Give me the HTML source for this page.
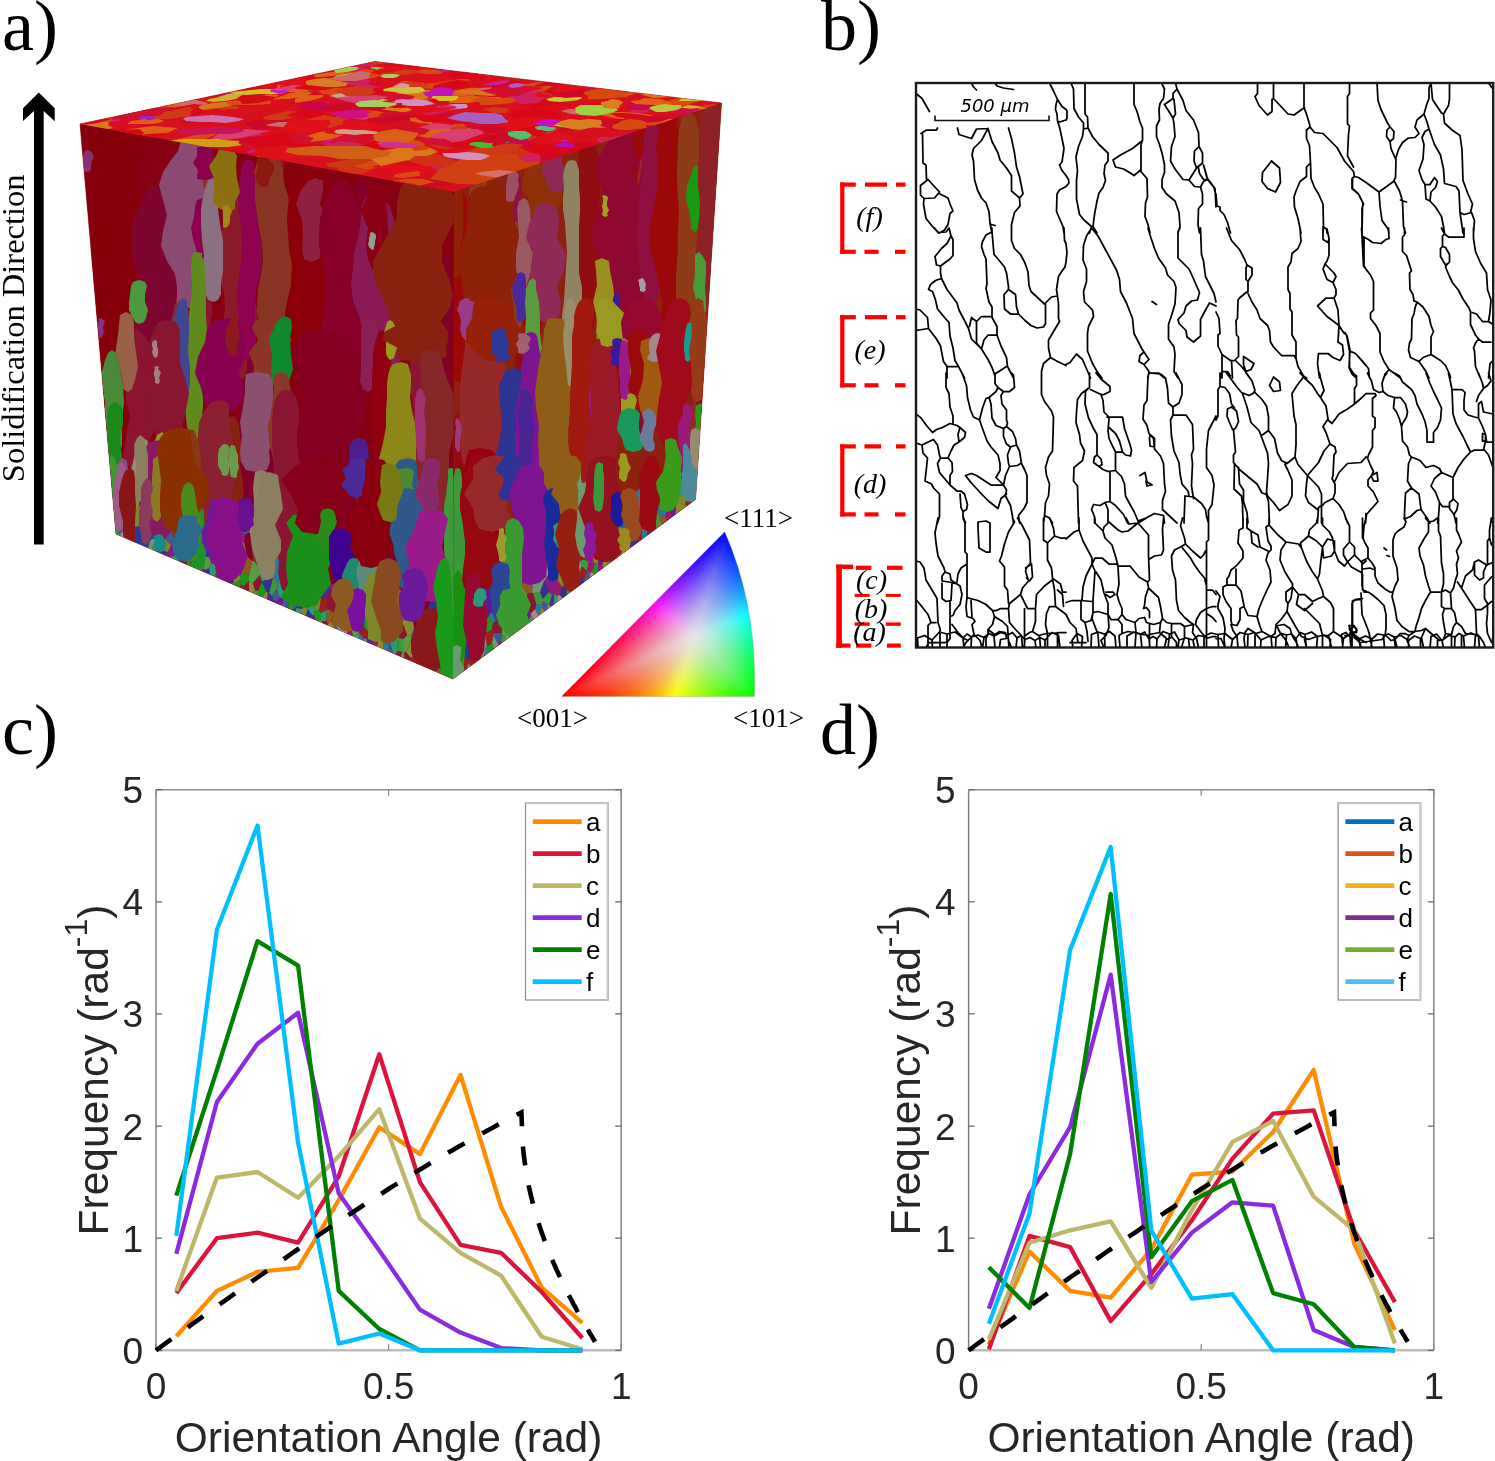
<!DOCTYPE html>
<html><head><meta charset="utf-8"><title>Figure</title><style>
html,body{margin:0;padding:0;background:#fff;}
svg{display:block;}
.pl{font-family:"Liberation Serif",serif;font-size:72px;fill:#000;}
.sd{font-family:"Liberation Serif",serif;font-size:32.5px;fill:#000;}
.ipf{font-family:"Liberation Serif",serif;font-size:27px;fill:#000;}
.bl{font-family:"Liberation Serif",serif;font-style:italic;font-size:28px;fill:#000;}
.sb{font-family:"DejaVu Sans",sans-serif;font-style:italic;font-size:18px;fill:#000;}
.tk{font-family:"Liberation Sans",Arial,sans-serif;font-size:37px;fill:#262626;}
.al{font-family:"Liberation Sans",Arial,sans-serif;font-size:42.5px;fill:#262626;}
.lg{font-family:"Liberation Sans",Arial,sans-serif;font-size:26px;fill:#000;}
</style></head>
<body><svg width="1495" height="1461" viewBox="0 0 1495 1461">
<rect width="1495" height="1461" fill="#fff"/>
<text x="2" y="50" class="pl">a)</text>
<text x="821" y="50" class="pl">b)</text>
<text x="2" y="754" class="pl">c)</text>
<text x="820" y="754" class="pl">d)</text>
<path d="M38.8,92.4 L54.7,108.3 L54.7,121.3 L43.7,111 L43.7,544.5 L34,544.5 L34,111 L23,121.1 L23,108.3 Z" fill="#000"/>
<text transform="translate(24,328.3) rotate(-90)" text-anchor="middle" class="sd">Solidification Direction</text>
<defs>
<clipPath id="cTop"><polygon points="80.0,124.0 375.0,61.5 721.5,103.0 454.0,192.0"/></clipPath>
<clipPath id="cLeft"><polygon points="80.0,124.0 454.0,192.0 453.0,679.0 116.0,534.0"/></clipPath>
<clipPath id="cRight"><polygon points="454.0,192.0 721.5,103.0 695.5,499.5 453.0,679.0"/></clipPath>
</defs>
<polygon points="80,124 375,61.5 721.5,103 695.5,499.5 453,679 116,534" fill="#8a1010" stroke="#8a1010" stroke-width="0.6"/>
<g clip-path="url(#cLeft)">
<path d="M80 124l374 68-1 487-337-145z" fill="#850010"/>
<path d="M201 359l-5 3-2 8 0 12 1 13-2 14 3 12 3 7 2 3 4-3 0-7 0-12 3-14-2-13-1-12-1-8z" fill="#850008"/>
<path d="M123 435l-5 4-1 9 0 15-1 17-1 17 2 14 3 10 4 3 4-3 0-10 2-14 3-17-3-17-3-15 0-9z" fill="#800028"/>
<path d="M447 252l-1 2-2 4-1 6-1 10-1 11 0 13 2 14-1 15-3 16-1 16 0 15 2 14 2 13 1 11 0 9 1 7 2 4 1 1 3-1 1-4 0-7 2-9-1-11 1-13-3-14 0-15 1-16 1-16 2-15 0-14-2-13 0-11-2-10 0-6-1-4z" fill="#800028"/>
<path d="M237 467l-4 1-1 3 0 6-1 8 0 10-2 12 1 13-1 14-2 16 0 15-1 16 0 16 0 15 1 15 0 13 1 12 0 9 1 8 1 6 3 4 3 1 3-1 2-4-1-6 0-8 0-9-1-12 0-13 1-15 3-15 1-16 0-16-1-15-1-16 0-14 1-13 0-12 0-10 1-8-2-6-2-3z" fill="#8b1530"/>
<path d="M112 218l-3 2-2 7 0 12-1 14 1 16 1 16-1 14 0 11 2 7 2 3 4-3 3-7 0-11 1-14-1-16 0-16 1-14-1-12-4-7z" fill="#8b0015"/>
<path d="M357 298l-4 2 1 7-1 11-3 14 0 16 1 17-3 16 2 14 3 11 1 7 2 2 4-2 2-7 0-11 0-14 1-16 2-17-2-16-1-14 2-11-2-7z" fill="#8b1530"/>
<path d="M147 213l-5 1-1 5-2 7 1 9-1 12-1 13 1 15-2 16-2 16 0 16-1 16 0 15 1 13 1 12 2 9 2 7 1 5 4 1 6-1 2-5 0-7 2-9 0-12 1-13 0-15 0-16 2-16 1-16 1-16-1-15 0-13-2-12-1-9-2-7-3-5z" fill="#8b1530"/>
<path d="M280 69l-3 1-2 6-1 9-3 12-1 14 1 15-1 16-3 15 2 14 3 12 1 9 3 5 3 2 5-2 2-5-1-9-1-12 1-14 4-15 0-16-2-15 0-14 1-12 0-9-3-6z" fill="#8b0015"/>
<path d="M432 317l-4 2 0 3-1 6 0 8-1 10-1 11 0 13 1 14-1 15 1 16 0 16 0 15 0 15 0 15 1 13 0 11 2 10-1 8 1 6 1 3 3 1 2-1 2-3 0-6 2-8 0-10 0-11 1-13 1-15-1-15 1-15-1-16-1-16 0-15-1-14 0-13 0-11-2-10 1-8-1-6-1-3z" fill="#800028"/>
<path d="M419 179l-6 3-2 9 0 14 1 16-1 16 3 14 2 9 5 3 8-3 3-9 1-14 1-16-3-16-1-14-4-9z" fill="#850008"/>
<path d="M278 110l-4 4-1 9-2 14-2 16 0 17 3 14 1 9 4 3 3-3 0-9 4-14 0-17-2-16 1-14-1-9z" fill="#8b1530"/>
<path d="M393 293l-3 2-2 4 0 7-3 9 0 12-1 13 1 15 1 15 0 16-1 15-3 15 1 13 0 12 2 9 2 7 2 5 3 1 2-1 2-5 1-7 0-9 1-12 0-13 1-15 1-15 1-16 1-15-1-15 0-13-3-12-1-9-1-7-1-4z" fill="#800028"/>
<path d="M116 79l-4 3-4 6-4 11 2 12-2 12 4 10 4 7 3 3 6-3 2-7-2-10 0-12 0-12-2-11 1-6z" fill="#850008"/>
<path d="M274 444l-4 2-1 4 0 7-2 9 0 12-1 13 2 15 1 16 0 16 0 17-2 16-1 15 0 13 0 12 2 9 1 7 1 4 5 2 3-2 3-4 1-7-1-9 0-12 1-13 1-15 2-16 3-17 1-16-2-16-1-15-3-13-2-12-2-9-1-7-1-4z" fill="#800028"/>
<path d="M359 321l-3 3-3 6-2 10 0 12 0 12 0 10 1 7 5 2 5-2 2-7-1-10 3-12 0-12-2-10-1-6z" fill="#850008"/>
<path d="M433 327l-4 4 0 9-3 13 0 16 2 16 0 13 4 9 3 3 4-3 0-9 0-13 2-16-4-16 3-13-3-9z" fill="#8a3424"/>
<path d="M394 486l-3 2-1 4-1 7 0 10 0 12 0 13-1 15 0 16 0 16 0 16 0 15 0 14 1 12 0 9 3 7 0 5 3 1 2-1 1-5 0-7 1-9-1-12-2-14 2-15 2-16 2-16 0-16-3-15-1-13 1-12-1-10-1-7-1-4z" fill="#800028"/>
<path d="M358 180l-5 1-4 5 0 8-2 10-1 12 0 15-2 15-1 16-2 16 0 16 1 14 2 12 2 11 2 7 2 5 5 2 4-2 3-5 1-7 2-11 1-12 2-14 1-16 0-16-1-16-1-15 1-15 0-12-1-10 0-8-3-5z" fill="#800028"/>
<path d="M229 499l-4 1-1 4 0 7-1 8-1 11 1 13 1 14-1 16-1 16-2 16 0 16 0 15 0 14 2 13 0 11 1 9 1 6 2 4 3 2 2-2 2-4 1-6 0-9 2-11 1-13 0-14 1-15 0-16 0-16 2-16 0-16 0-14-3-13-1-11-1-8-1-7-3-4z" fill="#800028"/>
<path d="M254 357l-6 1-2 3-3 6 0 9-3 10 0 12-1 13 0 15-1 15 0 16 1 16 2 15 2 15 0 13 1 12 2 11-1 8 2 6 0 4 5 1 4-1 2-4 2-6 2-8 3-11 2-12 1-13-1-15-2-15-2-16-1-16-1-15 2-15 0-13 0-12-1-10 0-9-2-6-2-3z" fill="#800028"/>
<path d="M416 397l-5 1-2 4-2 6-1 8 1 10-1 12-1 14 2 15-1 15 0 17-1 16 0 16-1 16-1 15-1 13 2 12 1 11 1 8 2 6 1 3 6 2 5-2 2-3 1-6 1-8 0-11 0-12 0-13 2-15-1-16 2-16 2-16 0-17 1-15 0-15-2-14-1-12-2-10-2-8-1-6-2-4z" fill="#800028"/>
<path d="M182 408l-1 1-2 4 0 6-1 8 1 11 0 12-1 14 0 15-1 16 1 16 0 16 1 16 1 15 0 14-1 12 1 11 1 8 0 6 1 4 2 1 2-1 0-4 0-6 2-8 0-11 1-12 0-14-1-15-1-16 1-16 0-16 0-16-2-15 0-14 1-12 0-11 0-8-2-6-1-4z" fill="#8b0015"/>
<path d="M329 447l-4 2-1 8-3 12 0 15 2 16 2 17-2 15 1 12 0 7 5 3 2-3 2-7 2-12 0-15-1-17-2-16 1-15-1-12 1-8z" fill="#850008"/>
<path d="M151 328l-5 2-1 3-1 7 0 8-1 11-4 12-4 14-2 15 2 16 5 17-1 16-1 16-1 15 3 14 3 13 4 10 0 9 0 6 2 4 4 1 4-1 3-4 1-6 2-9 1-10 1-13-1-14-1-15-1-16 0-16 1-17-2-16-1-15-1-14 2-12 0-11-1-8-1-7-2-3z" fill="#850008"/>
<path d="M352 63l-3 1 0 4-2 6 0 8 0 11 0 12-1 13 1 15-3 16 1 16-2 16 2 15 1 15 1 14 2 12 0 10 2 9-1 6 2 4 2 1 3-1 1-4 0-6 2-9-2-10 0-12 0-14-2-15 0-15 2-16 0-16 2-16-1-15 1-13-2-12-1-11-1-8 0-6-2-4z" fill="#850008"/>
<path d="M171 473l-7 2-3 8 2 10-4 13 2 13 4 11 0 7 7 2 6-2 2-7 3-11-4-13 3-13-1-10-4-8z" fill="#8a3424"/>
<path d="M252 278l-4 3-2 8-1 12 1 15 0 15-1 13 1 8 4 3 4-3 2-8 2-13 0-15-2-15 1-12-1-8z" fill="#850008"/>
<path d="M448 500l-4 1-1 4-2 6 1 9-2 10 0 13 0 13 1 15-2 16-1 16-1 16 0 16 2 15 0 14 0 12-1 11 1 8 2 7 2 3 3 2 4-2 1-3 2-7 0-8-1-11 0-12 2-14 2-15 1-16-1-16-1-16 0-16 0-15 1-13 1-13-1-10-1-9-2-6-1-4z" fill="#850008"/>
<path d="M357 437l-3 3 0 7 0 11-2 14 0 15-1 16 2 14 2 11 2 7 2 3 2-3 2-7 0-11 0-14 0-16 0-15 0-14-2-11-2-7z" fill="#8a2010"/>
<path d="M259 491l-3 3-1 8-3 14-2 16 2 17 1 16-1 13 2 9 4 3 2-3 2-9 1-13-1-16 1-17 2-16-1-14-3-8z" fill="#8a3424"/>
<path d="M85 493l-5 3-2 9-1 13-5 16 3 16 4 13 2 9 5 4 5-4 0-9 0-13 4-16 0-16-3-13-2-9z" fill="#850008"/>
<path d="M93 405l-4 1-1 5-1 7 1 9 1 12 1 13-3 15-1 16 3 15 1 16 0 15-2 13-1 12 1 9 1 7 2 5 3 1 2-1 1-5 1-7 2-9 2-12 2-13 0-15-2-16-1-15 3-16 0-15-2-13-3-12-1-9 0-7-3-5z" fill="#8b0015"/>
<path d="M135 109l-2 1-1 4-1 6 0 9-2 11 1 12-2 14 0 15 1 16-1 16 0 17 0 16 2 15 0 14 0 12 1 11 1 8 1 7 1 3 1 2 3-2 0-3 0-7 1-8-1-11 0-12 0-14 1-15 1-16 0-17-1-16-3-16 1-15 2-14 1-12 0-11-1-9-1-6 0-4z" fill="#850008"/>
<path d="M233 416l-6 2-2 7 2 11 0 13-3 16 2 17 3 15-1 14 0 11 3 7 4 2 4-2 2-7 0-11 2-14 0-15-3-17 2-16-2-13-1-11-3-7z" fill="#8a2010"/>
<path d="M110 381l-5 1-3 4 0 7-2 9-1 12 1 13 0 15 0 16-1 16 1 16 0 15 1 15-1 13 1 12 0 9 2 7 0 4 4 2 4-2 3-4 1-7 2-9 3-12 3-13 2-15 1-15-2-16-3-16-2-16-2-15 0-13 0-12 0-9-1-7-2-4z" fill="#800028"/>
<path d="M203 134l-3 2-1 7-3 10-3 14-3 15 0 16 5 16 2 13 1 11 2 6 4 3 5-3 2-6 2-11-2-13-3-16 0-16 3-15 1-14 0-10-3-7z" fill="#8a3424"/>
<path d="M421 324l-2 2-2 4-2 7-3 11-2 12-1 14 1 15 3 17-1 16-2 17 1 15 2 14 2 12 1 10 2 8-1 4 4 2 3-2 2-4 1-8 0-10 1-12 0-14 1-15 0-17-2-16-2-17 0-15 2-14 0-12-1-11-1-7-1-4z" fill="#8b1530"/>
<path d="M349 354l-3 1-2 4-4 7-1 8-2 11 0 13 0 14 3 15 1 15 1 16-3 16 1 15 0 14 1 13 2 10 1 9 2 6 0 4 3 2 4-2 1-4 1-6 0-9 0-10 1-13 3-14 0-15 0-16-2-16-1-15-3-15 0-14 1-13 0-11 0-8 0-7-2-4z" fill="#850008"/>
<path d="M393 451l-4 3-2 7-2 11-2 15 2 16-2 16 0 14 2 11 2 8 4 2 4-2 3-8 0-11-1-14 4-16-2-16-1-15 1-11-1-7z" fill="#850008"/>
<path d="M438 175l-5 3-5 8 1 13-2 14-1 15 3 12-1 8 6 3 5-3 6-8 0-12 2-15 1-14-4-13 0-8z" fill="#8b0015"/>
<path d="M288 168l-4 3-2 9-3 13 0 16 3 16 0 13 2 9 5 3 4-3-1-9 3-13 0-16-3-16 2-13-1-9z" fill="#850008"/>
<path d="M308 488l-5 3-2 6-1 11-1 13 0 16 1 16-1 15 1 14 1 10 3 7 4 2 6-2 2-7 2-10 3-14 0-15-2-16 0-16-1-13-3-11-3-6z" fill="#8a3424"/>
<path d="M202 198l-4 1-2 5 1 8-1 11 2 13 0 15-1 16-1 16 1 15 1 15 0 13 0 11 0 8 1 5 3 1 3-1 1-5 3-8 1-11 2-13 0-15-2-15 1-16 1-16 0-15-2-13-2-11-2-8-1-5z" fill="#8b1530"/>
<path d="M176 254l-4 2-1 7-3 10-1 13 2 16 1 15 0 16 0 13 1 10 2 7 4 2 4-2 1-7 1-10 0-13 0-16 0-15 0-16-1-13 0-10-1-7z" fill="#872838"/>
<path d="M112 119l-6 3-5 7-2 10 3 12-3 12 8 10 1 7 6 2 9-2 2-7-2-10 4-12-5-12-3-10 2-7z" fill="#8b0015"/>
<path d="M125 529l-1-3 3-9 5 2 2 8 0 2-6 5-1-1z" fill="#2a9a7a"/>
<path d="M372 636l0 6-4 3-2-7 2-6 2 0z" fill="#4a2a9a"/>
<path d="M423 645l3-8 0-7-12-2-3 8 1 3 1 3 8 5z" fill="#3a5a9a"/>
<path d="M117 523l7 3 3-9-3-8-5 3-2 10z" fill="#8a1a8a"/>
<path d="M314 603l3-8-2-10-7 4 1 13z" fill="#6a1a9a"/>
<path d="M351 627l-2-2-1 1-1 7 4 7 2-4z" fill="#9a1a6a"/>
<path d="M390 643l7 0 2-5-3-12-5 4-2 9 1 4z" fill="#2a9a7a"/>
<path d="M337 602l-7-13 0-4 13-5 4 8 0 1-7 13z" fill="#8a1a8a"/>
<path d="M249 575l0 6 4 2 7-8 0-7-6-7-2 0z" fill="#5a9a40"/>
<path d="M391 630l-8-10 0-2 8-10 7 12-2 6z" fill="#8a1a8a"/>
<path d="M209 568l-4 2-1 10 5 2 2-1z" fill="#2e3494"/>
<path d="M461 652l-8-8 1-16 5-6 14 13-10 16z" fill="#3a9a3a"/>
<path d="M406 652l6-13-1-3-4-1-4 4 0 13 1 1z" fill="#5a9a40"/>
<path d="M318 571l8 2 9-22-2-5-5-5-5-2-5 0-2 28z" fill="#6a9a70"/>
<path d="M411 636l3-8-2-18-5-1-6 10 6 16z" fill="#8a8a30"/>
<path d="M211 563l-2-6 1-8 5-4 5 11 0 1-5 8z" fill="#8a1a8a"/>
<path d="M430 658l4-6 0-3-8-12-3 8 3 10z" fill="#3a9a3a"/>
<path d="M350 611l7 0 1-1 0-21-3-3-8 2 0 1 3 21z" fill="#7a8a2a"/>
<path d="M426 630l-1-18 10-17 4 2 1 2 1 23-1 2z" fill="#2e3494"/>
<path d="M191 549l0-9 11-3 0 1-1 18-4 1z" fill="#8a1a8a"/>
<path d="M431 667l-1-2-5 3-1 5 3 4 4-1z" fill="#aa8888"/>
<path d="M210 498l4 5-5 20-5 6-13-15-1-4 5-18 6 0 5 2z" fill="#8a1a8a"/>
<path d="M438 666l4-6 0-6-7-6-1 1 0 3 3 13z" fill="#8a1a8a"/>
<path d="M132 519l7-14 0-4-6-5-8 5-1 8 3 8z" fill="#8a8a30"/>
<path d="M390 643l3 10 3 0 2-2-1-8z" fill="#2a9a7a"/>
<path d="M190 510l-4 2-6 15 3 12 7 0 1-25z" fill="#6a1a9a"/>
<path d="M174 556l-2-11 2-3 7 3 0 4-3 7-4 0z" fill="#2a7aa0"/>
<path d="M266 605l4 3 1 0 2-8-1-4-3-3-1 0z" fill="#4a2a9a"/>
<path d="M391 608l0-8 9-12 7 21-6 10-3 1z" fill="#8a5a20"/>
<path d="M288 592l2-16 8 0-3 16-6 2z" fill="#3a5a9a"/>
<path d="M314 615l2 8 5-4 0-6-2-3-4 0z" fill="#1a9a1a"/>
<path d="M174 556l-2-11-1 0-3 7 1 6z" fill="#8a1a8a"/>
<path d="M359 631l4-5 1-12-6-4-1 1-1 13z" fill="#3a9a3a"/>
<path d="M288 607l2-8 5 9-6 4z" fill="#1a9a1a"/>
<path d="M129 464l-4-8-5-6-5-2-5 1-2 1-1 19 3 5 13-2z" fill="#9a1a6a"/>
<path d="M234 584l0 7 1 1 3 2 3-10-1-5z" fill="#1a9a1a"/>
<path d="M153 528l9-2 0-21-1-4-4 0-6 14 1 11z" fill="#2a9a7a"/>
<path d="M220 557l0-1 9-18 5 13 0 1-6 9-7-3z" fill="#8a1a8a"/>
<path d="M109 528l-4 1-2 7 4 4 1-1 2-10z" fill="#1a9a1a"/>
<path d="M273 577l5 6 2-1 6-13-1-12-1-1-12 4 1 16z" fill="#2a7aa0"/>
<path d="M249 532l5-20 3 0 5 2 5 5 3 5-4 15-8 4z" fill="#aa8888"/>
<path d="M461 674l-3-10-4 1-1 9 4 3z" fill="#5a9a40"/>
<path d="M109 528l1-9 7 3 0 1 0 9-2 2-5-5z" fill="#9a1a6a"/>
<path d="M169 558l-1-6-4-1-1 11 5 1z" fill="#4a2a9a"/>
<path d="M119 512l-5-6 1-12 6-1 4 8-1 8z" fill="#1a9a1a"/>
<path d="M249 597l0-16-5 5 1 11z" fill="#8a1530"/>
<path d="M315 585l3-14-2-4-13-4-3 11 5 13 3 2z" fill="#7a8a2a"/>
<path d="M241 562l6-6 5 5-3 14-7-2z" fill="#8a5a20"/>
<path d="M463 679l-1-4 6-7 10 4-11 11z" fill="#aa8888"/>
<path d="M236 506l1 0 0 19-8 12-3-4-5-30 5-1 5 1z" fill="#8a8a30"/>
<path d="M121 493l2-21-13 2 0 15 5 5z" fill="#9a1a6a"/>
<path d="M372 597l-3-8-11 0 0 21 6 4 5-4z" fill="#2a7aa0"/>
<path d="M463 679l-2 10 2 3 4 0 0-9z" fill="#7a8a2a"/>
<path d="M441 632l6 15 4 0 2-3 1-16-13-6-1 2z" fill="#6a1a9a"/>
<path d="M215 545l1-8-7-14-5 6-2 8 0 1 8 11z" fill="#2a7aa0"/>
<path d="M378 643l-2 6 0 2 1 2 5 2 1-3 0-9z" fill="#8a8a30"/>
<path d="M215 565l5-8 1 1 2 13-3 5-1 0-3-3z" fill="#9a2020"/>
<path d="M152 526l-1-11-9-4-1 17 2 3z" fill="#9a2020"/>
<path d="M161 551l3 0 1-12-1-3-6 8z" fill="#6a1a9a"/>
<path d="M174 556l-5 2-1 5 0 2 5 2 1-11z" fill="#2a9a7a"/>
<path d="M438 667l6 6 1 0 2-5 0-2-5-6-4 6z" fill="#8a1530"/>
<path d="M264 605l-1-9 3-5 2 2-2 12-1 1z" fill="#8a8a30"/>
<path d="M327 597l3-8 7 13-3 11-6-4z" fill="#8a1530"/>
<path d="M156 543l-3-10-5 10 1 3 3 2z" fill="#6a9a70"/>
<path d="M308 609l-4 12-2-1 0-11 2-4 3 1z" fill="#7a8a2a"/>
<path d="M423 662l-2 0-3-7 3-8 2-2 3 10z" fill="#8a1a8a"/>
<path d="M249 597l0-16 4 2 2 7-5 8z" fill="#8a8a30"/>
<path d="M227 578l-5 4-2-6 3-5 4 3z" fill="#6a1a9a"/>
<path d="M283 599l-4-2-2-8 1-6 2-1 7 10z" fill="#2a9a7a"/>
<path d="M438 668l-5 10-2-2 0-9 6-2 1 1 0 1z" fill="#2e3494"/>
<path d="M181 545l2-6-3-12-7 0 1 15z" fill="#8a1530"/>
<path d="M211 563l-2-6-8-1 1 11 3 3 4-2z" fill="#5a9a40"/>
<path d="M377 598l6-7 8 9 0 8-8 10z" fill="#8a5a20"/>
<path d="M277 524l5 2 1 1 1 29-12 4-1-1-5-20 4-15 2-1z" fill="#8a5a20"/>
<path d="M202 567l-2 2-5-1-1-4 3-7 4-1z" fill="#6a1a9a"/>
<path d="M316 627l0-4 5-4 1 2 0 10-1 1-5-4z" fill="#5a9a40"/>
<path d="M178 556l2 8 7-5 0-1-6-9z" fill="#8a1530"/>
<path d="M134 529l0 10 2 2 6-4 1-2 0-4-2-3-7-1z" fill="#8a8a30"/>
<path d="M405 665l-3 2-3-4 3-11 1 0 1 1z" fill="#5a9a40"/>
<path d="M315 585l3-14 8 2 4 12 0 4-3 8-6 2-4-4z" fill="#4a2a9a"/>
<path d="M300 574l-2 2-8 0-4-7-1-12 15-5 3 11z" fill="#aa8888"/>
<path d="M130 464l5 0 5 1 5 3 3 3 0 14-9 16-6-5z" fill="#2e3494"/>
<path d="M368 645l-2-7-2 1-3 8 0 1 5 2 1 0z" fill="#6a9a70"/>
<path d="M421 662l-4 7-2-11 3-3z" fill="#8a1a8a"/>
<path d="M447 647l-5 7 0 6 5 6 4-4 0-15z" fill="#8a1a8a"/>
<path d="M409 666l3 5 5-1 0-1-2-11-2-2-2 2z" fill="#9a2020"/>
<path d="M288 607l1 5 0 4-4 1-1-3 0-7z" fill="#6a1a9a"/>
<path d="M341 620l2 5-2 12-3-1-1-9 3-7z" fill="#6a9a70"/>
<path d="M157 544l-1 13-2 0-2-9 4-5z" fill="#3a9a3a"/>
<path d="M148 543l5-10 0-5-1-2-9 5 0 4z" fill="#8a8a30"/>
<path d="M192 565l-5-7 0 1-1 12 3 3z" fill="#1a9a1a"/>
<path d="M273 577l5 6-1 6-5 7-3-3z" fill="#3a9a3a"/>
<path d="M384 640l5-1 1 4-2 6-5 3 0-9z" fill="#2a7aa0"/>
<path d="M307 606l-3-1-3-9 4-9 3 2 1 13z" fill="#3a5a9a"/>
<path d="M214 503l-5 20 7 14 10-4-5-30-6-1z" fill="#5a9a40"/>
<path d="M211 563l4 2 1 8-5 8-2-13z" fill="#2a9a7a"/>
<path d="M438 668l1 12-2 2-4-4z" fill="#2a9a7a"/>
<path d="M234 570l2-12 5 4 1 11-2 3z" fill="#8a1a8a"/>
<path d="M288 607l2-8-1-5-1-2-1 0-4 7 0 5 1 3z" fill="#3a5a9a"/>
<path d="M164 530l-2-4 0-21 10 3 0 18z" fill="#8a8a30"/>
<path d="M319 610l2-11 6-2 1 12-1 1-6 3z" fill="#9a2020"/>
<path d="M110 517l0 2 7 3 2-10-5-6-4 5z" fill="#9a2020"/>
<path d="M358 635l0 10-2 2-5-4 0-1 0-2 2-4z" fill="#6a9a70"/>
<path d="M142 550l-4 1-2-2 0-8 6-4z" fill="#2a9a7a"/>
<path d="M398 651l4 1-3 11-2 1-1-1 0-10z" fill="#8a1530"/>
<path d="M234 583l-6 0-1-5 0-4 2-3 3 1z" fill="#2e3494"/>
<path d="M426 637l8 12 1-1 6-16-1-8-14 6z" fill="#1a9a1a"/>
<path d="M245 597l-1-11-3-2-3 10 1 2 6 1z" fill="#9a2020"/>
<path d="M454 665l-3-3 0-15 2-3 8 8-3 12z" fill="#4a2a9a"/>
<path d="M328 624l-2-3 1-11 1-1 6 4 0 1-3 8z" fill="#8a5a20"/>
<path d="M421 647l-8-5 0 14 2 2 3-3z" fill="#2a7aa0"/>
<path d="M447 668l0-2 4-4 3 3-1 9-1 2-1 0z" fill="#6a1a9a"/>
<path d="M123 544l4-11-2-4-5 5 2 9 1 1z" fill="#aa8888"/>
<path d="M359 632l5 7-3 8-3-2 0-10z" fill="#2a7aa0"/>
<path d="M157 544l1 0 6-8 0-6-2-4-9 2 0 5 3 10z" fill="#7a8a2a"/>
<path d="M373 621l-4-11-5 4-1 12 5 6 2 0z" fill="#1a9a1a"/>
<path d="M139 505l0-4 9-16 9 16-6 14-9-4z" fill="#4a2a9a"/>
<path d="M315 610l4 0 2-11-4-4-3 8z" fill="#7a8a2a"/>
<path d="M304 605l-3-9-3 1-2 11 6 1z" fill="#4a2a9a"/>
<path d="M380 628l0-4 3-4 8 10-2 9-5 1z" fill="#8a1a8a"/>
<path d="M134 529l0 10-4 3-2-8z" fill="#3a5a9a"/>
<path d="M347 633l1-7-5-1-2 12 0 1 3 1z" fill="#aa8888"/>
<path d="M205 570l-1 10-5-1 0-1 1-9 2-2z" fill="#6a1a9a"/>
<path d="M351 627l-2-2 1-14 7 0-1 13z" fill="#2a7aa0"/>
<path d="M322 631l4 2 1-1 1-8-2-3-4 0z" fill="#8a1530"/>
<path d="M232 572l-3-1-1-10 6-9 2 6-2 12z" fill="#aa8888"/>
<path d="M409 666l2-8-5-6-2 1 1 12 2 2z" fill="#8a1530"/>
<path d="M174 556l4 0 2 8-1 3 0 1-6-1z" fill="#2a9a7a"/>
<path d="M157 558l1 2 5 2 1-11-3 0z" fill="#2e3494"/>
<path d="M312 615l-4 9-2-1-2-2 4-12z" fill="#2e3494"/>
<path d="M194 564l3-7-6-8-4 9 5 7z" fill="#8a1530"/>
<path d="M154 557l-1 1-5-1-2-5 3-6 3 2z" fill="#aa8888"/>
<path d="M380 628l0-4-7-3-3 11 2 4 5 0z" fill="#6a1a9a"/>
<path d="M463 679l-1-4-1-1-4 3-2 10 3 2 3 0z" fill="#9a1a6a"/>
<path d="M258 591l-3-1-2-7 7-8 2 7z" fill="#8a1530"/>
<path d="M350 610l-3-21-7 13 3 11z" fill="#2e3494"/>
<path d="M258 543l8-4 5 20-11 9-6-7z" fill="#9a2020"/>
<path d="M229 538l0-1 8-12 8 10-1 7-10 9z" fill="#8a1a8a"/>
<path d="M103 520l7-3 0-6-5-6-7 6z" fill="#7a8a2a"/>
<path d="M234 583l-6 0-1 6 2 4 5-2 0-7z" fill="#2a7aa0"/>
<path d="M234 583l-2-11 2-2 6 6 0 3-6 5z" fill="#8a8a30"/>
<path d="M181 545l2-6 7 0 1 1 0 9-4 9-6-9z" fill="#2a7aa0"/>
<path d="M423 662l-2 0-4 7 0 1 0 1 5 3 2-1 1-5z" fill="#2a9a7a"/>
<path d="M447 668l4 8-4 5-2-8z" fill="#8a5a20"/>
<path d="M130 542l-1 5 4 4 3-2 0-8-2-2z" fill="#6a1a9a"/>
<path d="M341 620l2-7-3-11-3 0-3 11 0 1 6 6z" fill="#8a1a8a"/>
<path d="M423 662l3-7 4 3 0 7-5 3z" fill="#6a9a70"/>
<path d="M283 604l-5 5-1-7 2-5 4 2z" fill="#6a1a9a"/>
<path d="M279 597l-2-8-5 7 1 4 4 2z" fill="#3a5a9a"/>
<path d="M142 550l0-13 1-2 5 8 1 3-3 6-3 0z" fill="#1a9a1a"/>
<path d="M273 576l-1-16-1-1-11 9 0 7 2 7z" fill="#2a9a7a"/>
<path d="M103 520l0 4 2 5 4-1 1-9 0-2z" fill="#9a1a6a"/>
<path d="M349 625l1-14 0-1-7 3-2 7 2 5 5 1z" fill="#9a1a6a"/>
<path d="M259 596l-1-5-3-1-5 8 5 5 2-1z" fill="#3a9a3a"/>
<path d="M461 674l1 1 6-7-5-17-2 1-3 12z" fill="#3a5a9a"/>
<path d="M298 597l-3-5-6 2 1 5 5 9 1 0z" fill="#3a5a9a"/>
<path d="M302 609l-6-1 0 10 4 3 2-1z" fill="#2a9a7a"/>
<path d="M377 636l-5 0 0 6 4 7 2-6z" fill="#9a1a6a"/>
<path d="M359 632l-1 3-5 1-2-9 5-3 3 7z" fill="#5a9a40"/>
<path d="M200 569l-1 9-5-2 1-8z" fill="#6a1a9a"/>
<path d="M334 627l3 0 3-7-6-6-3 8z" fill="#8a5a20"/>
<path d="M390 643l3 10-2 7-2-1-1-10 2-6z" fill="#3a5a9a"/>
<path d="M312 615l-4-6-1-3 2-4 5 1 1 7-1 5z" fill="#2a9a7a"/>
<path d="M217 585l2 3 3-1 0-5-2-6-1 0z" fill="#2a7aa0"/>
<path d="M227 574l2-3-1-10-7-3 2 13z" fill="#8a1a8a"/>
<path d="M266 591l-4-9 11-6 0 1-4 16-1 0z" fill="#2e3494"/>
<path d="M164 536l0-6 8-4 1 1 1 15-2 3-1 0-6-6z" fill="#3a5a9a"/>
<path d="M263 596l-4 0-1-5 4-9 4 9z" fill="#1a9a1a"/>
<path d="M195 568l-1-4-2 1-3 9 5 3 0-1z" fill="#4a2a9a"/>
<path d="M359 632l5 7 2-1 2-6-5-6-4 5z" fill="#9a2020"/>
<path d="M103 524l-7 8 6 4 1 0 2-7z" fill="#9a1a6a"/>
<path d="M380 624l-7-3-4-11 3-13 5 1 6 20 0 2z" fill="#5a9a40"/>
<path d="M120 534l-3-2 0-9 7 3 1 3z" fill="#3a5a9a"/>
<path d="M134 527l7 1 1-17-3-6-7 14z" fill="#7a8a2a"/>
<path d="M457 677l-2 10-2 0-1-11 1-2z" fill="#aa8888"/>
<path d="M312 615l-4 9 2 3 6 0 0-4-2-8z" fill="#6a1a9a"/>
<path d="M186 571l1-12-7 5-1 3 5 5z" fill="#8a1530"/>
<path d="M438 668l1 12 2 1 3-8-6-6z" fill="#8a5a20"/>
<path d="M240 579l1 5 3 2 5-5 0-6-7-2-2 3z" fill="#1a9a1a"/>
<path d="M380 628l4 12-1 3-5 0-1-7z" fill="#8a8a30"/>
<path d="M216 573l3 3-2 9-3 1-3-5z" fill="#1a9a1a"/>
<path d="M437 665l-3-13-4 6 0 7 1 2z" fill="#5a9a40"/>
<path d="M332 635l2-8-3-5-3 2-1 8 4 3z" fill="#8a8a30"/>
<path d="M288 592l2-16-4-7-6 13 7 10z" fill="#9a1a6a"/>
<path d="M396 626l2-6 3-1 6 16-4 4-4-1z" fill="#8a1530"/>
<path d="M376 651l-5 2-4-3 1-5 4-3 4 7z" fill="#6a1a9a"/>
<path d="M191 514l13 15-2 8-11 3-1-1z" fill="#aa8888"/>
<path d="M289 612l6-4 1 0 0 10-1 1-5 0-1-3z" fill="#2e3494"/>
<path d="M228 583l-1-5-5 4 0 5 2 3 3-1z" fill="#9a1a6a"/>
<path d="M264 605l-4 1-3-4 2-6 4 0z" fill="#2a9a7a"/>
<path d="M278 610l0-1-1-7-4-2-2 8 4 4z" fill="#6a1a9a"/>
<path d="M451 676l1 0 1 11-5-1-1-2 0-3z" fill="#6a9a70"/>
<path d="M209 557l1-8-8-11-1 18z" fill="#2e3494"/>
<path d="M105 505l1-11 4-5 5 5-1 12-4 5z" fill="#3a9a3a"/>
<path d="M397 643l1 8 4 1 1 0 0-13-4-1z" fill="#3a9a3a"/>
<path d="M220 556l9-18 0-1-3-4-10 4-1 8z" fill="#3a5a9a"/>
<path d="M122 543l-5 2-3-5 1-6 2-2 3 2z" fill="#3a9a3a"/>
<path d="M351 640l-4-7-3 6 2 4 5-1z" fill="#2e3494"/>
<path d="M284 607l-1-3-5 5 0 1 2 4 4 0z" fill="#8a8a30"/>
<path d="M393 653l3 0 0 10-4-1-1-2z" fill="#2a9a7a"/>
<path d="M123 544l5 3 1 0 1-5-2-8-1-1z" fill="#8a8a30"/>
<path d="M110 529l-2 10 4 3 2-2 1-6z" fill="#1a9a1a"/>
<path d="M298 597l-3-5 3-16 2-2 5 13-4 9z" fill="#8a1530"/>
<path d="M157 544l1 0 3 7-4 7-1-1z" fill="#3a5a9a"/>
<path d="M388 649l-5 3-1 3 5 5 2-1z" fill="#7a8a2a"/>
<path d="M322 621l4 0 1-11-6 3 0 6z" fill="#2a9a7a"/>
<path d="M411 658l2-2 0-14-1-3-6 13z" fill="#8a8a30"/>
<path d="M125 501l8-5-3-32-1 0-6 8-2 21z" fill="#9a1a6a"/>
<path d="M165 539l6 6-3 7-4-1z" fill="#7a8a2a"/>
<path d="M441 632l6 15-5 7-7-6z" fill="#8a1530"/>
<path d="M186 512l-10-8-4 4 0 18 1 1 7 0z" fill="#6a9a70"/>
<path d="M332 635l4 3 2-2-1-9-3 0z" fill="#3a5a9a"/>
<path d="M234 552l0-1 10-9 3 14-6 6-5-4z" fill="#7a8a2a"/>
<path d="M245 535l-8-10 0-19 5-1 5 0 5 4 2 3-5 20z" fill="#3a5a9a"/>
<path d="M441 681l1 3 5 0 0-3-2-8-1 0z" fill="#8a5a20"/>
<path d="M112 126l-11 1-4 5-4 7-3 10-1 13-1 14 1 17 0 19 2 20 0 21-2 23-4 22-3 22 0 23 3 21 4 20 6 19 5 17 3 14 3 13 2 10 2 7 3 5 7 1 10-1 6-5 2-7 2-10 0-13-1-14-1-17-2-19-2-20 0-21 2-23 3-22 2-22 0-23-1-21-4-20-5-19-3-17-2-14-1-13-2-10-1-7-3-5z" fill="#850008"/>
<path d="M161 185l-9 2-5 5-4 8-6 11-5 13 0 15 0 15 4 17 1 15 0 15-1 13 0 11 3 8 4 5 11 2 8-2 3-5 4-8 4-11 3-13 3-15-1-15-2-17-2-15-1-15 0-13 1-11-1-8-2-5z" fill="#7e0530"/>
<path d="M233 190l-6 1-4 4-1 6 0 9 1 11-1 12-4 14-2 15 3 15 5 16 1 15-2 15-1 14 1 12 2 11 3 9 2 6 2 4 5 1 6-1 3-4 1-6 0-9 2-11 4-12 4-14 0-15-4-15-5-16 0-15 3-15 0-14-3-12-2-11-4-9-2-6-2-4z" fill="#8c1b2a"/>
<path d="M271 150l-7 1-4 5-3 6-3 10-1 11 1 13 2 15 2 15 4 16 1 17-2 15-3 15-1 13 0 11 2 10 2 6 3 5 9 1 7-1 3-5 1-6 1-10 2-11 3-13 4-15 3-15 2-17-1-16-6-15-4-15-4-13-1-11-2-10-2-6-2-5z" fill="#8a3424"/>
<path d="M248 160l-4 1-2 4-1 6-1 8-3 10 1 12 1 14 2 14 1 15-1 16-2 16-2 15 0 14 2 14 1 12 1 10 2 8 0 6 1 4 3 1 4-1 2-4 1-6 2-8 0-10-1-12 0-14 1-14 4-15 2-16 0-16-3-15-2-14-2-14 0-12 0-10-1-8 0-6-1-4z" fill="#8e0350"/>
<path d="M262 155l-4 1-1 4 1 5-1 6-2 6 2 5 3 4 3 1 5-1 1-4 1-5 4-6 0-6-5-5-3-4z" fill="#8a1a10"/>
<path d="M307 170l-7 1-3 3-3 6-2 7-3 9-1 11-1 13 1 14 1 15 3 16-1 16 0 17-2 16-1 16 1 16 2 15 3 14 3 13 2 11 2 9 0 7 2 6 3 3 6 1 7-1 3-3 2-6 1-7 0-9-1-11-1-13 0-14 1-15 0-16 4-16 1-16-1-17-2-16-3-16-3-15-2-14-2-13 2-11 0-9-1-7-1-6-3-3z" fill="#8b0008"/>
<path d="M315 178l-7 3-7 9-5 14 6 16 1 16-1 14 2 9 7 3 8-3 3-9 7-14-2-16-7-16 3-14 0-9z" fill="#8e2040"/>
<path d="M341 180l-6 1-3 4-2 5-2 8-5 9-3 12-1 13 0 14 3 16 3 16 0 17-2 17-1 18 0 17 5 16 3 16 1 14-2 13-1 12 0 9 1 8 2 5 3 4 7 1 9-1 3-4 3-5 3-8 4-9 0-12 0-13 0-14 1-16 4-16 1-17-1-18-4-17-4-17-1-16 0-16 0-14 1-13-3-12-3-9-1-8-3-5-3-4z" fill="#880028"/>
<path d="M373 195l-7 1-2 4-2 7-1 9-1 10-2 13-4 14-1 16-2 15 2 17 6 15 4 16 2 14 0 13 0 10 0 9 2 7 1 4 8 1 9-1 4-4 4-7 4-9 3-10 1-13-1-14-3-16-3-15-1-17 0-15 0-16 2-14 0-13-2-10-3-9-5-7-4-4z" fill="#8a1a55"/>
<path d="M380 185l-8 3-6 10-5 14 7 16-2 17 2 14 4 10 7 3 7-3 4-10 1-14-3-17-1-16-1-14-2-10z" fill="#8b0015"/>
<path d="M422 180l-16 2-5 4-2 8-2 10 0 13-7 14-9 15-8 16 1 17 7 15 6 14 3 13 0 10 2 8 5 4 14 2 12-2 6-4 5-8 7-10 9-13 3-14-4-15-7-17 0-16 7-15 7-14 2-13-5-10-7-8-9-4z" fill="#8a2010"/>
<path d="M191 138l-8 1-3 5-2 7-7 9-8 12-4 13 4 15 4 15-4 16-2 15 6 15 8 13 2 12 0 9 0 7 3 5 9 1 9-1 5-5 5-7 6-9 0-12-3-13-5-15 4-15 2-16-3-15-6-15 0-13 5-12 1-9-3-7-4-5z" fill="#8a4a72"/>
<path d="M204 146l-7 1 0 4 0 5-4 7 5 7-1 5 0 4 8 1 7-1 2-4 0-5 1-7-1-7-2-5-1-4z" fill="#8c0050"/>
<path d="M203 198l-6 2-2 7-1 10-3 11 2 11 3 10 1 7 5 2 4-2 2-7 1-10-2-11 1-11 0-10-1-7z" fill="#8c0050"/>
<path d="M213 178l-5 2-2 6-3 10-2 13 0 15 1 16 2 16 0 15 1 13 1 10 2 6 6 2 4-2 3-6 0-10 2-13 0-15 0-16-3-16-2-15 1-13-1-10 0-6z" fill="#8a7080"/>
<path d="M225 146l-6 3-3 7-7 10 5 13 0 13-1 10 7 7 9 3 6-3 0-7 5-10-3-13-1-13 1-10-4-7z" fill="#8a7010"/>
<path d="M227 205l-4 1 0 2 0 4 0 4 0 5 0 4 0 2 2 1 2-1 2-2 1-4 0-5 2-4-2-4-2-2z" fill="#a08818"/>
<path d="M197 252l-4 1-1 5-1 7 0 9 1 12-1 13-2 15-3 16 1 16 1 16 0 16-2 15-1 13 1 12 1 9 3 7 2 5 3 1 3-1 2-5 2-7 0-9 1-12 0-13 2-15 1-16 2-16-1-16-1-16 0-15 0-13-1-12 0-9-3-7 0-5z" fill="#5e8a1e"/>
<path d="M139 280l-6 2-2 4-1 8-1 8 0 8 4 8 2 4 4 2 5-2 2-4 2-8-3-8 0-8 2-8-2-4z" fill="#4b9a40"/>
<path d="M183 298l-4 3-2 7-4 12 0 15 1 17-3 16 5 15 1 12 1 7 4 3 4-3 2-7 2-12 0-15-2-16 1-17 0-15-1-12-1-7z" fill="#41478f"/>
<path d="M372 232l-2 1 0 2-1 3 0 3-1 3 1 3 2 2 1 1 2-1 0-2 1-3 0-3 1-3 0-3-2-2z" fill="#90a090"/>
<path d="M87 150l-2 1-1 2-1 4-1 4-1 4 1 4 1 2 4 1 3-1 1-2 0-4 1-4 2-4-2-4-2-2z" fill="#8a3070"/>
<path d="M101 318l-3 1 1 2-3 3-1 4 1 4 1 3 0 2 3 1 2-1 1-2 1-3-1-4 1-4 1-3-3-2z" fill="#8a3080"/>
<path d="M126 318l-5 3-2 8-2 12-2 14 4 14 3 12 1 8 4 3 6-3 4-8-1-12 1-14-1-14-2-12-3-8z" fill="#8a5a48"/>
<path d="M136 330l-6 2-1 5 1 8 0 11-2 14-3 14 1 16 4 16-3 14-2 14-2 11 3 8 4 5 7 2 5-2 2-5 0-8 5-11 5-14 0-14-2-16 0-16 2-14-1-14-3-11-5-8-4-5z" fill="#8b1530"/>
<path d="M166 320l-8 2-3 6-4 9-4 12 1 14 2 15 0 16 1 15 1 14 4 12 4 9 3 6 7 2 9-2 2-6 1-9 1-12 3-14 3-15-4-16-5-15 0-14 0-12-1-9-3-6z" fill="#8a1530"/>
<path d="M229 318l-15 3-7 8-2 13-7 15-3 16 6 15 3 13 6 8 14 3 12-3 5-8 3-13-5-15 6-16 2-15-5-13-2-8z" fill="#880050"/>
<path d="M234 318l-3 1-2 5-3 6-1 7 1 7 2 6 1 5 5 1 3-1 0-5 1-6 2-7-1-7-1-6-1-5z" fill="#8a1a20"/>
<path d="M267 318l-12 3-3 7 6 12-9 13 5 13-1 12 0 7 12 3 8-3 9-7 6-12-3-13 7-13-10-12-6-7z" fill="#8b3525"/>
<path d="M285 316l-6 3-5 8-5 12 3 15-1 15 1 12 5 8 7 3 5-3 0-8 4-12-2-15-1-15 2-12-1-8z" fill="#108830"/>
<path d="M256 372l-10 2-1 8 0 11-2 14-3 15 2 15-2 14 1 11 5 8 12 2 9-2 3-8-1-11 4-14 9-15-5-15-4-14 0-11-4-8z" fill="#8b5070"/>
<path d="M281 372l-5 2-3 5 1 8-1 11-2 14-3 14 1 16 4 16 3 14-2 14-1 11 0 8 1 5 7 2 6-2 4-5 2-8 1-11 2-14 2-14 0-16 0-16-3-14-2-14-3-11-1-8-3-5z" fill="#8a3828"/>
<path d="M317 330l-11 1-6 4-3 5-3 8-1 10 2 12 3 12 4 15 0 15-5 15-8 16-6 15-2 15 4 15 6 12 5 12 5 10 4 8 5 5 4 4 10 1 10-1 5-4 4-5 4-8 3-10 5-12 3-12 1-15-2-15-2-15 1-16 4-15 4-15 3-15-2-12-6-12-7-10-8-8-6-5-8-4z" fill="#850020"/>
<path d="M369 318l-6 3-2 8 0 12 0 14 0 14-1 12 3 8 5 3 5-3 5-8-1-12 6-14-5-14-1-12-2-8z" fill="#8a2055"/>
<path d="M384 330l-5 1-2 5-2 7-2 10 0 12-1 13 0 16 0 15 1 17 0 15 1 16 2 13 1 12 0 10 2 7 0 5 4 1 4-1 3-5 1-7 2-10 1-12-1-13 0-16-1-15 0-17 1-15-1-16-1-13-1-12 0-10-1-7-2-5z" fill="#900010"/>
<path d="M401 362l-8 2-3 4-2 7-1 10 0 12-1 14 0 16-3 16-4 16 0 16 4 16 4 14 4 12 2 10 2 7 4 4 5 2 7-2 2-4 1-7-1-10 0-12-1-14 2-16 2-16 1-16-1-16-4-16-2-14 1-12 0-10-2-7-1-4z" fill="#8c8818"/>
<path d="M390 320l-3 2-1 4-2 6 2 8 0 8 0 6 2 4 2 2 4-2 1-4 2-6-2-8 0-8 0-6-2-4z" fill="#9a9a20"/>
<path d="M422 318l-15 2-8 4-15 8-1 8 15 8-2 8 4 4 21 2 19-2 7-4-1-8 2-8 0-8-5-8-5-4z" fill="#8a2010"/>
<path d="M431 350l-8 1-2 4-1 6 1 9 0 11-1 12-1 14-3 15 1 15-1 16 0 15-1 15-2 14 1 12 2 11 3 9 2 6 4 4 6 1 7-1 1-4 2-6 3-9 4-11 4-12-2-14-1-15 0-15 4-16 4-15 1-15-5-14-5-12-4-11-2-9-2-6-2-4z" fill="#872828"/>
<path d="M360 438l-7 2-4 7 0 11-1 12 0 12 5 11 3 7 5 2 6-2 3-7-2-11-1-12 2-12-1-11-3-7z" fill="#4a2090"/>
<path d="M408 458l-9 2-4 6-1 9 0 12-2 14-4 15 1 16 5 15 3 14-1 12 2 9 3 6 9 2 8-2 5-6 3-9 0-12-4-14 0-15 4-16-1-15-5-14-3-12 0-9-2-6z" fill="#2e5a8a"/>
<path d="M406 468l-7 1-2 4-2 5-1 7-1 7 2 5 3 4 6 1 5-1 2-4 4-5-3-7 1-7 1-5-2-4z" fill="#4a8a30"/>
<path d="M420 388l-3 3-2 8 0 12 0 14 1 14 1 12 1 8 4 3 3-3 0-8 1-12 0-14-2-14 2-12-3-8z" fill="#a03070"/>
<path d="M451 468l-3 1 0 3 0 6-1 8-1 9-2 11 0 13 0 14 0 15 1 15 0 16-1 16-2 15 1 15-2 14 1 13 1 11 1 9 1 8 1 6 1 3 2 1 3-1 0-3 0-6 1-8 0-9 0-11 0-13 2-14 1-15 1-15 1-16-1-16-2-15 0-15 1-14 0-13 1-11-1-9 0-8-1-6-1-3z" fill="#3e9a3a"/>
<path d="M181 428l-12 2-5 7-1 11 3 14-1 16-5 17 0 16 7 14 7 11 6 7 10 2 9-2 5-7 2-11 1-14-3-16-2-17-1-16 1-14-5-11-3-7z" fill="#8a3a10"/>
<path d="M162 432l-5 3-3 8 0 11-5 15 2 16 3 15 0 11 3 8 6 3 4-3 1-8 3-11-2-15-1-16 3-15-3-11-2-8z" fill="#9a8a30"/>
<path d="M142 438l-5 2-2 7-1 11-3 12 2 12 2 11 1 7 5 2 4-2 0-7 5-11-3-12 0-12 2-11-2-7z" fill="#9a8a70"/>
<path d="M161 440l-12 2-5 8-3 11-2 14 1 15 1 15 3 14 3 11 2 8 8 2 9-2 6-8 9-11 1-14-7-15-7-15 2-14 2-11-2-8z" fill="#8a1a60"/>
<path d="M220 400l-8 2-4 4-5 7-4 10-1 13 2 13 1 15-1 16-4 16 0 15 4 13 7 13 3 10 3 7 3 4 6 2 9-2 4-4 2-7 1-10-3-13-5-13 0-15 6-16 1-16-1-15-5-13-2-13 0-10 0-7-2-4z" fill="#8a2030"/>
<path d="M192 482l-6 3-1 7-2 10 1 13-1 13 0 10 1 7 6 3 6-3 1-7 4-10 1-13 0-13-2-10-3-7z" fill="#5a9a3a"/>
<path d="M200 508l-5 2-4 7-4 11 3 12 2 12-1 11 2 7 5 2 5-2 2-7 1-11 1-12-2-12-1-11 0-7z" fill="#20922a"/>
<path d="M262 470l-7 2-1 7-1 10 1 13-2 15-2 16 2 15 4 13 4 10 2 7 5 2 6-2 2-7 0-10-1-13 2-15 2-16-4-15-2-13-3-10-2-7z" fill="#8e8262"/>
<path d="M225 444l-3 1-3 4-1 5 0 6 0 6 3 5 1 4 3 1 3-1 1-4 1-5-2-6 1-6 1-5-2-4z" fill="#6a9a4a"/>
<path d="M246 498l-6 1-2 4 0 5 0 7-3 7 2 5 3 4 4 1 5-1 2-4 0-5 4-7-1-7-2-5-1-4z" fill="#60108a"/>
<path d="M285 390l-4 1-3 4-3 6-2 8-1 11 0 12 0 13 2 15-1 15 0 16-2 16 2 15 2 15 2 13 2 12-1 11 2 8 1 6 2 4 7 1 6-1 4-4 2-6 1-8 0-11-2-12-2-13 2-15 4-15 1-16-2-16-5-15-2-15 0-13 2-12 0-11-2-8-2-6-4-4z" fill="#8a1530"/>
<path d="M112 350l-4 3-3 7-3 12 0 14 3 16-1 17 0 14 2 12 3 7 5 3 6-3 2-7 0-12 0-14 2-17-1-16-3-14-2-12-2-7z" fill="#4a8a3a"/>
<path d="M115 402l-5 3-2 7-1 12-2 13-1 13 4 12 4 7 4 3 6-3 1-7-2-12-1-13 3-13 0-12-2-7z" fill="#1a8a1a"/>
<path d="M126 312l-6 3-1 9-1 13-2 15 4 15 3 13 1 9 4 3 4-3 3-9 3-13-2-15-2-15 0-13-2-9z" fill="#9a6048"/>
<path d="M123 458l-4 3-4 8-1 12 0 14-2 14 4 12-1 8 4 3 7-3 3-8-2-12 4-14-1-14-2-12-1-8z" fill="#8a4a7a"/>
<path d="M140 435l-3 3-3 7 1 11 1 12-1 13-2 11 3 7 3 3 4-3 3-7 2-11 0-13 0-12-2-11-2-7z" fill="#8a8060"/>
<path d="M158 456l-5 3 0 7-1 10 0 13-2 13 1 10 2 7 4 3 3-3 2-7 1-10 0-13 1-13-1-10 0-7z" fill="#8a7a20"/>
<path d="M180 428l-14 3-6 7-3 11 2 15 2 16-1 16 0 15 3 11 4 7 9 3 10-3 7-7 7-11 9-15-1-16-12-16-4-15-1-11 0-7z" fill="#8a3000"/>
<path d="M189 482l-5 3-3 9 0 13 3 15 1 15-2 13 1 9 6 3 5-3 2-9 3-13 2-15-5-15-2-13-2-9z" fill="#4a8a1a"/>
<path d="M232 445l-2 1 0 4-1 5-1 7 2 6 0 5 1 4 4 1 2-1 0-4 2-5-1-6 0-7-2-5-1-4z" fill="#6a9a4a"/>
<path d="M269 472l-8 3-4 8 1 11-3 15-4 16 5 15 1 11 4 8 7 3 8-3 5-8 0-11-6-15 8-16-2-15-2-11-1-8z" fill="#8a8060"/>
<path d="M155 340l-2 1-1 2 0 3 1 3-1 3 1 3 1 2 1 1 2-1 1-2 0-3 0-3-1-3 0-3 0-2z" fill="#a08080"/>
<path d="M157 366l-3 1 1 2-1 3 0 3 1 3 0 3 0 2 3 1 1-1 1-2-1-3 1-3 1-3-3-3 1-2z" fill="#a08080"/>
<path d="M189 515l-9 2-2 5-1 8-3 8 0 9 0 8 4 5 7 2 5-2 5-5 4-8-1-9 5-8-6-8 0-5z" fill="#2a6a8a"/>
<path d="M223 498l-11 2-3 7-1 11-6 12 0 12 5 11 5 7 11 2 7-2-1-7 4-11 3-12-3-12 3-11-2-7z" fill="#6a1a9a"/>
<path d="M140 526l-6 1 0 2 1 4-1 4 0 4 2 4 2 2 4 1 6-1 1-2 1-4 4-4-2-4-4-4-4-2z" fill="#2a3a9a"/>
<path d="M159 534l-3 1-3 2 2 3-1 3-1 3 1 3 4 2 3 1 3-1 1-2 1-3 0-3-1-3-2-3-1-2z" fill="#1a8a8a"/>
<path d="M112 455l-3 3-1 9 1 14-2 17 3 16-1 14 0 9 3 3 4-3 3-9 0-14 0-16 1-17-3-14-2-9z" fill="#3a9a30"/>
<path d="M121 462l-4 3 0 7-3 12-1 13 1 13 1 12 1 7 2 3 4-3 2-7 1-12 0-13 0-13 2-12-2-7z" fill="#9a5a8a"/>
<path d="M130 468l-5 3-3 8-3 13 0 14 4 15 0 13 2 8 5 3 5-3 0-8 0-13 1-15-1-14 0-13-1-8z" fill="#8a1515"/>
<path d="M147 478l-3 3-3 7 0 11-2 13 0 12 2 11 1 7 4 3 3-3 3-7-3-11 4-12-3-13 3-11-2-7z" fill="#8a3a5a"/>
<path d="M224 498l-9 3-1 9-4 14-4 16 8 16 3 14-1 9 10 3 10-3 7-9 5-14-7-16-1-16 2-14-6-9z" fill="#8a108a"/>
<path d="M246 503l-5 1-3 3 1 4-3 5 2 4 0 4 2 3 7 1 5-1 2-3-1-4 1-4 0-5 0-4-2-3z" fill="#6a1090"/>
<path d="M307 512l-14 3-7 8 7 13-6 16-1 16 2 16-7 13 11 8 15 3 10-3 4-8 10-13-3-16 10-16-6-16-7-13-3-8z" fill="#1a901a"/>
<path d="M326 455l-17 3-15 9-13 13 10 15 7 15-3 13 7 9 20 3 20-3 7-9-1-13-1-15-1-15-3-13-3-9z" fill="#850018"/>
<path d="M328 508l-6 2-2 4 1 8-2 8-2 8 5 8 2 4 5 2 4-2 3-4-2-8 0-8 3-8-2-8-2-4z" fill="#2a8a1a"/>
<path d="M339 528l-6 2-4 7 0 10 0 11 2 11 3 10 2 7 7 2 7-2 1-7 3-10 1-11-5-11 2-10-5-7z" fill="#400090"/>
<path d="M353 558l-3 1-3 4-2 5-3 7 1 7 4 5 3 4 4 1 4-1 2-4 0-5 2-7-1-7-2-5-1-4z" fill="#208a70"/>
<path d="M366 552l-5 2-1 5-3 8 0 10 2 10 1 8 0 5 6 2 5-2 2-5 2-8 2-10 1-10-4-8-3-5z" fill="#5a8a7a"/>
<path d="M376 572l-8 3-2 7-3 12-2 13 6 13 1 12 0 7 8 3 6-3 1-7 3-12 1-13-6-13 2-12 0-7z" fill="#7a8a2a"/>
<path d="M344 578l-6 2-5 6-2 9 5 10-3 10 3 9 6 6 6 2 5-2 3-6 1-9-2-10 0-10-2-9-4-6z" fill="#8a5a20"/>
<path d="M357 588l-4 2 1 4-2 8-5 8 2 8 2 8 1 4 5 2 5-2 2-4 1-8 0-8 1-8 0-8-3-4z" fill="#7a10a0"/>
<path d="M374 458l-10 2-1 7 0 10-1 13-7 15-4 16 5 15 3 13 0 10 2 7 10 2 8-2 3-7 2-10 5-13 2-15 1-16-1-15 1-13-3-10-5-7z" fill="#8a0010"/>
<path d="M357 458l-5 1-3 5-7 6 4 8-5 7 5 6 4 5 6 1 6-1 0-5 2-6 1-7 0-8 1-6-2-5z" fill="#4a2a9a"/>
<path d="M407 488l-10 2-4 8 0 11 2 14-2 15 1 15 5 14 1 11 2 8 7 2 10-2 3-8 4-11 3-14-1-15-5-15-3-14-1-11-3-8z" fill="#2e5a8a"/>
<path d="M431 508l-11 3-3 8-4 13-8 15 4 16-1 15 3 13 8 8 12 3 11-3-1-8-1-13 7-15-5-16 3-15 3-13-6-8z" fill="#9a1a8a"/>
<path d="M389 558l-9 3-4 10-2 14-3 16 5 16 5 14 0 10 6 3 8-3 8-10 0-14-7-16 4-16 1-14-5-10z" fill="#8a4a20"/>
<path d="M432 608l-10 2-4 7-3 11-4 12 0 12 5 11 3 7 9 2 10-2 1-7 5-11 1-12-4-12 5-11-4-7z" fill="#8a1818"/>
<path d="M415 568l-9 2-4 6 2 9-5 10 0 10 2 9 3 6 8 2 7-2 4-6 2-9 2-10 1-10-3-9-3-6z" fill="#6a1a9a"/>
<path d="M445 558l-4 2-3 6-2 9-3 12 3 14 2 16-3 16 2 16 3 14 1 12-1 9-1 6 5 2 5-2 2-6 3-9 0-12 1-14 0-16-1-16-2-16 0-14-1-12-2-9-1-6z" fill="#1a9a1a"/>
<path d="M388 463l-6 2-1 7-1 9 1 11-4 12 3 9 3 7 7 2 6-2 1-7 1-9 5-12-2-11-1-9-5-7z" fill="#7a7a15"/>
<path d="M431 458l-7 2-1 6-2 9-4 10-2 10 5 9 5 6 6 2 6-2 2-6 0-9-2-10 3-10 0-9-1-6z" fill="#8a2a6a"/>
</g>
<g clip-path="url(#cRight)">
<path d="M454 192l268-89-26 397-243 179z" fill="#8e2010"/>
<path d="M669 71l-3 2-1 5 0 7-2 11-3 12-3 15 0 15 3 16-2 17-1 15 2 15 2 12 3 10 1 8 2 5 4 1 4-1 1-5 0-8-1-10-1-12 3-15 1-15-3-17 0-16 1-15 2-15 0-12-2-11-2-7-1-5z" fill="#8e0830"/>
<path d="M661 467l-7 3-2 8-3 13 0 14-1 15 3 13 3 8 6 3 5-3 2-8 0-13 1-15 0-14 0-13-2-8z" fill="#8e2208"/>
<path d="M513 150l-3 2 0 6-2 10 0 12 1 15-1 16-1 16 0 15 1 13 0 9 3 7 3 2 2-2 1-7 0-9 4-13 0-15-2-16 2-16 0-15-3-12-1-10-1-6z" fill="#8e1040"/>
<path d="M463 271l-5 3-4 8-5 13 4 16-1 17 3 15 3 13 0 8 6 3 6-3 3-8 1-13 0-15-3-17 0-16-2-13-2-8z" fill="#9a0808"/>
<path d="M479 169l-3 3-4 8-3 12 0 16 0 16 1 15 1 13 1 8 6 3 4-3 2-8 1-13 1-15-4-16 3-16 1-12-1-8z" fill="#8e3c18"/>
<path d="M634 84l-4 2-2 7 1 10-2 14 0 15-2 17-1 15 1 14 3 10 2 7 2 2 2-2 2-7 1-10 3-14 0-15 1-17-2-15-1-14 1-10-1-7z" fill="#8e0830"/>
<path d="M460 191l-5 2-2 4 0 6-1 9 0 10-1 13 0 13 0 15-2 16 2 15 0 16 2 15 0 14-1 12 0 11 0 8 0 7 2 3 5 2 4-2 1-3 3-7 1-8 3-11 2-12 2-14-1-15 0-16-2-15 1-16 0-15-1-13 0-13-2-10-2-9-2-6-3-4z" fill="#9a0808"/>
<path d="M499 230l-4 2-2 5-1 9 1 11-1 14-1 15 1 16 2 16 0 16 0 14 0 11 1 9 1 5 5 2 3-2 1-5 1-9 1-11 2-14 3-16-1-16-4-16-1-15 1-14 0-11-1-9-2-5z" fill="#962828"/>
<path d="M716 289l-3 3-1 8-2 11 1 15 0 16 0 17 2 15 1 11 0 8 5 2 3-2 2-8 0-11 0-15 0-17-1-16-1-15 0-11-1-8z" fill="#8e2208"/>
<path d="M644 142l-2 1-2 4-1 7 1 9-2 11 1 13-2 14 0 16-1 16 0 16 1 16-1 16 0 14 1 13 0 11 1 9 1 7 1 4 3 1 3-1 0-4 1-7 0-9 1-11-1-13 1-14 1-16 1-16 1-16 1-16 0-16-1-14-2-13 0-11-1-9-1-7-1-4z" fill="#962828"/>
<path d="M519 430l-5 3-1 7 0 12 2 14-3 16 0 16 1 14 0 11 1 7 4 3 3-3 2-7 2-11 1-14-1-16 3-16-2-14-2-12-2-7z" fill="#900c10"/>
<path d="M638 498l-4 3-1 8-2 12-1 14 0 13 0 12 3 8 4 3 3-3 2-8 1-12 1-13 0-14-1-12 0-8z" fill="#8e0830"/>
<path d="M523 340l-3 3-3 8-2 13 1 15-3 15 4 12 1 9 3 3 4-3 2-9-1-12 3-15-2-15 1-13 0-8z" fill="#900c10"/>
<path d="M647 162l-4 2-2 5-1 9-2 12 0 14-1 16 2 16-1 15 1 14 1 12 2 9 1 6 4 2 3-2 1-6 2-9 1-12-1-14 1-15-3-16 0-16 1-14 1-12-1-9-2-5z" fill="#8e0830"/>
<path d="M668 459l-3 1-1 5-1 8 0 11-3 13-3 15 3 16 2 16 0 16-2 14 1 13 2 11 1 8 1 5 2 2 3-2 2-5 0-8 1-11-1-13 3-14 0-16-3-16-1-16 2-15 1-13-2-11 0-8-2-5z" fill="#8e0830"/>
<path d="M568 478l-3 1-1 4 0 7-1 8-1 11-1 12 0 14 1 15-1 16 0 17 0 16-2 16 0 15 0 14 1 13 2 10 0 9 3 6 0 4 2 1 4-1 0-4 0-6 1-9 0-10 1-13-1-14 0-15 0-16 2-16 0-17 2-16-1-15-1-14-2-12 0-11-1-8 0-7-1-4z" fill="#900c10"/>
<path d="M481 244l-5 1-2 5-3 8 0 10-1 12-3 14-3 16 0 16 2 16 2 15 0 14 1 13 1 10 3 7 3 5 5 2 4-2 2-5 0-7 0-10 1-13 2-14 0-15-2-16 0-16 1-16 2-14-1-12-1-10-2-8-1-5z" fill="#8e2208"/>
<path d="M623 409l-2 2 0 5-1 8 0 11-1 14 1 15 0 16-1 17-1 16 0 15 0 14 2 11 1 8 0 5 3 2 2-2 1-5 2-8 0-11-2-14 1-15 1-16 2-17-1-16 0-15-1-14-1-11-1-8-2-5z" fill="#8e2208"/>
<path d="M481 286l-6 3-3 10-4 13 2 16 1 17 2 13 2 9 7 4 6-4 2-9 2-13 1-17-3-16-2-13-1-10z" fill="#900c10"/>
<path d="M461 413l-6 3-2 6-2 11-1 13-3 15-2 16 5 15 4 13 1 10 1 7 4 2 8-2 3-7 3-10-2-13-2-15 0-16 2-15-1-13-3-11-2-6z" fill="#900c10"/>
<path d="M664 474l-3 1-2 3 0 6-1 8 0 10 0 12 0 13 1 14-1 15 0 16 0 16 0 16-1 15 1 14 0 13-1 12 1 10 0 8 2 6 0 3 3 2 3-2 1-3 1-6 1-8 2-10 1-12 0-13 0-14-1-15 2-16 2-16-1-16-1-15-2-14-2-13 0-12 1-10 0-8-2-6 0-3z" fill="#8e0830"/>
<path d="M494 507l-4 3-4 7 0 10 1 13-4 13 4 10 2 7 3 3 6-3 0-7 3-10 2-13 1-13-3-10-3-7z" fill="#8e3c18"/>
<path d="M700 396l-5 1-2 4-1 6-1 8-1 11 2 12 1 14-2 14-1 16-1 16 3 16 1 16 0 15-1 13-1 13 2 10 1 9 1 6 2 3 3 2 4-2 2-3 0-6 2-9 2-10 3-13 1-13-2-15-2-16 1-16 2-16 1-16-3-14-3-14-1-12-1-11 0-8 0-6-1-4z" fill="#962828"/>
<path d="M630 166l-5 2-3 6-3 10-2 12-2 15 3 16 4 17-2 17-2 14-1 13 3 9 3 6 6 2 6-2 4-6 2-9 1-13 0-14 2-17 2-17-3-16-5-15-1-12-2-10 0-6z" fill="#9a0808"/>
<path d="M641 339l-2 3-1 7-2 12-2 15 2 17 1 16 0 15 1 12 1 8 3 3 2-3 2-8 2-12 1-15-1-16-3-17 1-15-1-12 0-7z" fill="#8e0830"/>
<path d="M710 355l-8 3-3 8-2 13-3 15 4 14 3 13 2 8 9 3 6-3 1-8 2-13 1-14-4-15-1-13 1-8z" fill="#900c10"/>
<path d="M617 116l-4 2-1 5-2 9-2 11-1 14-2 16 2 16 0 17 2 15 1 14-2 12 1 8 0 6 6 2 6-2 2-6 1-8 3-12 1-14 3-15 1-17 0-16-3-16-2-14-2-11-2-9-2-5z" fill="#9a0808"/>
<path d="M501 308l-4 2-2 9-3 12 0 15 2 17-1 15-1 13 2 8 7 3 4-3 3-8 3-13 1-15-1-17 1-15 0-12-4-9z" fill="#8e2208"/>
<path d="M640 93l-6 2 0 7 1 11-1 13-2 13 3 11 1 7 4 3 3-3 2-7 3-11 1-13-1-13 0-11-3-7z" fill="#9a0808"/>
<path d="M516 221l-5 3-2 8 0 12-4 15-2 17 4 17-1 15 2 12 4 8 4 2 4-2 3-8 1-12-1-15 0-17 2-17-1-15-2-12 0-8z" fill="#8e3c18"/>
<path d="M492 122l-3 2-2 4-2 7-1 9-1 11 0 13 0 15 1 15-1 16 1 16 1 16 1 14 0 14 0 11-1 9 2 7 0 4 4 1 3-1 2-4 2-7 1-9 2-11 1-14 1-14-1-16 0-16-1-16 0-15-2-15-1-13 0-11-1-9 0-7-1-4z" fill="#8e3c18"/>
<path d="M498 199l-4 2-1 4-2 7-2 9-2 12-3 13 1 15 2 16 2 15 0 16 0 15-2 13 2 12 1 9 2 7 1 5 4 1 3-1 2-5 1-7 1-9 1-12 2-13 0-15-1-16-2-15 0-16-1-15 0-13 0-12 0-9-1-7 0-4z" fill="#9a0808"/>
<path d="M542 433l-2 1-1 5-1 8 1 10-1 13 0 15-2 16-1 16 0 17 1 15 0 15 2 13 0 10 1 8 0 5 2 1 3-1 1-5 0-8 0-10 2-13 0-15 0-15 0-17 0-16 1-16-1-15-1-13 0-10-1-8-1-5z" fill="#900c10"/>
<path d="M494 161l-3 2-1 5-2 8-2 12-1 13 1 15 0 15 0 16 0 15-1 13 0 12 1 8 2 5 5 2 2-2 1-5 1-8 0-12 2-13 2-15 1-16 2-15-2-15-1-13-1-12-2-8-1-5z" fill="#8e2208"/>
<path d="M679 318l-6 3-3 8-3 11-1 14-1 14 3 11 3 8 7 3 5-3 0-8 4-11-1-14 0-14 3-11-4-8z" fill="#962828"/>
<path d="M622 350l-6 3-4 8-3 13 2 15-1 15 4 13 3 9 5 3 7-3 3-9 2-13-4-15 1-15 0-13-3-8z" fill="#900c10"/>
<path d="M590 334l-5 1-1 4-1 6 0 9-1 10 0 12 0 14-1 15 0 16 1 16 2 16-1 15 1 15-1 14 1 12-1 10 2 9 1 6 2 4 3 1 3-1 1-4 2-6 2-9 3-10 2-12 1-14-2-15-2-15 1-16 3-16 0-16-2-15-4-14-2-12-2-10 1-9-1-6-1-4z" fill="#8e2208"/>
<path d="M578 318l-2 2-1 6-1 10 0 12-3 15 0 16 2 16 1 15 1 12 1 10 0 6 3 2 4-2 1-6 1-10 2-12 1-15-3-16-1-16-1-15 2-12-1-10-2-6z" fill="#8e2208"/>
<path d="M533 177l-3 2 0 5-1 8 0 11-2 13 0 15 0 16-1 16-1 16 0 15 2 13 0 11 1 8 3 5 2 1 4-1 1-5 0-8 0-11 0-13 0-15 1-16 1-16 2-16 0-15 0-13-2-11-2-8-3-5z" fill="#9a0808"/>
<path d="M540 460l-6 3-2 10 0 14-1 17 0 17 0 14 2 10 6 3 5-3 4-10 6-14 0-17-4-17-1-14-1-10z" fill="#8e2208"/>
<path d="M476 250l-7 3-3 7 1 12 3 14 2 16-4 17-3 14 2 12 2 7 7 3 5-3 2-7 3-12 5-14 3-17-3-16-5-14-2-12-3-7z" fill="#9a0808"/>
<path d="M630 185l-5 1-2 4 0 6-1 9 1 10 1 12 0 14 1 15-1 16-3 16-2 16-1 16 1 15 2 14 1 12 2 10 2 9 1 6 3 4 3 1 5-1 2-4 1-6 1-9-2-10 0-12 0-14 2-15 3-16 3-16 3-16 0-16-4-15-3-14-2-12-3-10-1-9-1-6-3-4z" fill="#8e0830"/>
<path d="M550 83l-4 3-2 8-2 12 1 15 3 16 0 17-2 15-1 12 2 8 4 3 5-3 1-8 0-12 2-15 3-17-2-16-4-15-1-12-1-8z" fill="#8e3c18"/>
<path d="M533 268l-6 3-2 10-3 14-3 16 5 17 1 14 0 9 7 3 6-3 1-9 3-14-1-17-3-16 3-14-2-10z" fill="#9a0808"/>
<path d="M456 157l-3 2-1 6 0 10-2 13 0 14-1 16 0 15 2 15 1 12-1 10 1 6 3 2 4-2 1-6 1-10 0-12 2-15 0-15 0-16-1-14-2-13 0-10-1-6z" fill="#8e2208"/>
<path d="M632 507l0-11 8-8 5 10-5 17-1 0z" fill="#2a7aa0"/>
<path d="M590 573l0 11-1 2-3 0-2-6 3-9z" fill="#3a5a9a"/>
<path d="M572 543l-8-25 3-4 4-4 5-2 1 0 7 18-3 11z" fill="#8a8a30"/>
<path d="M652 539l-2-9-1-1-2 3-1 11 5-2z" fill="#6a1a9a"/>
<path d="M549 565l7-18-4-16-2 0-5 2-4 3-3 4 3 16z" fill="#9a2020"/>
<path d="M632 507l7 8-4 13-5 0-1-17z" fill="#8a1530"/>
<path d="M556 578l0-2 6-8 5 4-2 14-3 1z" fill="#7a8a2a"/>
<path d="M543 599l0 2-1 4-6-1-3-11 7-1z" fill="#3a9a3a"/>
<path d="M562 568l5 4 4-2 2-12-2-11-11 5z" fill="#2e3494"/>
<path d="M485 654l-4 7-3-7 1-6 6 1z" fill="#5a9a40"/>
<path d="M605 539l-3-3 1-18 5-3 8 10-2 12z" fill="#3a5a9a"/>
<path d="M525 606l-9 0-1-5 4-19 8 12-1 12z" fill="#5a9a40"/>
<path d="M458 667l-3-12-1-1-5 10 0 4 7 1z" fill="#2e3494"/>
<path d="M522 619l3-13 1 0 5 7 0 2-3 7-4 1z" fill="#6a1a9a"/>
<path d="M686 469l8-2 2-6-1-12-8-3-5 9z" fill="#3a5a9a"/>
<path d="M683 478l4 9 8-4 0-1-1-15-8 2z" fill="#8a1a8a"/>
<path d="M602 565l3-8 2 3 1 10-2 2-1 0z" fill="#8a8a30"/>
<path d="M632 541l5-2 0-7-2-4-5 0-2 3 2 8z" fill="#3a5a9a"/>
<path d="M579 574l3-8-1-5-8-3-2 12 2 5z" fill="#6a9a70"/>
<path d="M680 479l-2 14-10-3 0-6 7-9z" fill="#3a9a3a"/>
<path d="M649 529l-2-9-4-1-1 11 5 2z" fill="#6a9a70"/>
<path d="M448 673l-4 2 0 10 3 4 2-1z" fill="#1a9a1a"/>
<path d="M519 581l8-13 7 5-2 20-5 1-8-12z" fill="#8a5a20"/>
<path d="M603 518l-5-6-11 14 9 17 6-7z" fill="#4a2a9a"/>
<path d="M461 667l3-11 5 4 0 3-3 7z" fill="#9a2020"/>
<path d="M691 499l-4-6-2 11 5 6 1 0 1-2z" fill="#9a2020"/>
<path d="M492 630l1-7-6-13-3 0-2 16 2 6 1 1z" fill="#1a9a1a"/>
<path d="M701 493l2 7 1 0 6-6-6-8z" fill="#8a1530"/>
<path d="M620 551l3 9-3 3-2 0-2-5 1-5z" fill="#8a5a20"/>
<path d="M638 542l4-3 0-8-5 1 0 7z" fill="#9a2020"/>
<path d="M676 508l6 8 1-1 0-9-5-5-2 5z" fill="#8a8a30"/>
<path d="M579 586l0 6 5-2 2-4-2-6-3-1z" fill="#2e3494"/>
<path d="M469 619l9-17 6 8-2 16-8 1z" fill="#8a1530"/>
<path d="M644 463l12 16-1 11-7 9-3-1-5-10 1-22 3-2z" fill="#9a2020"/>
<path d="M701 493l-4-2-2-8 0-1 8-3 1 7z" fill="#2a9a7a"/>
<path d="M616 525l-8-10 7-27 7 23-4 13z" fill="#3a5a9a"/>
<path d="M531 615l4 7 3-7-3-6-4 4z" fill="#aa8888"/>
<path d="M648 499l7-9 5 11-2 10-6 0z" fill="#2a9a7a"/>
<path d="M700 464l29-16-27-10-7 11 1 12z" fill="#8a1530"/>
<path d="M464 640l-11-4-1 9 2 9 1 1 8-3 1-11z" fill="#2e3494"/>
<path d="M618 563l-2 5-4 1-1-11 1 0 4 0z" fill="#6a1a9a"/>
<path d="M502 624l0 9-9 0-1-3 1-7 5-4z" fill="#8a1530"/>
<path d="M464 640l-11-4-2-10 4-20 0-1 13 14z" fill="#3a9a3a"/>
<path d="M670 511l3-6-5-13-4 8 3 11z" fill="#6a1a9a"/>
<path d="M667 511l-3-11-4 1-2 10 2 6 5-1z" fill="#2a7aa0"/>
<path d="M586 552l-5-15 3-11 3 0 9 17-7 11z" fill="#5a9a40"/>
<path d="M473 672l4-4-3-9-3-2-2 3 0 3 4 9z" fill="#9a2020"/>
<path d="M632 541l1 11 0 1-2 1-5-7 4-8z" fill="#4a2a9a"/>
<path d="M461 667l-3 0-2 2 0 7 3 6 1 0 1-2z" fill="#2a9a7a"/>
<path d="M581 561l-8-3-2-11 1-4 9-6 5 15z" fill="#4a2a9a"/>
<path d="M485 654l3 6 3-1 1-4-6-8-1 2z" fill="#2a7aa0"/>
<path d="M554 594l2-16 6 9-2 8-3 1z" fill="#9a1a6a"/>
<path d="M535 609l1-5 6 1 0 2-3 8-1 0z" fill="#2a7aa0"/>
<path d="M629 511l-7 0-4 13 6 7 4 0 2-3z" fill="#3a5a9a"/>
<path d="M622 545l2-14-6-7-2 1-2 12 0 3z" fill="#3a9a3a"/>
<path d="M542 620l-3-5 3-8 5 8-3 5z" fill="#8a8a30"/>
<path d="M448 673l1-5 0-4-10-10-24-3 29 24z" fill="#8a5a20"/>
<path d="M554 594l3 2 2 11-1 3-4 0z" fill="#2a9a7a"/>
<path d="M474 585l-5 0-5 3-4 5-3 7-2 5 13 14 1 0 9-17-2-17z" fill="#8a5a20"/>
<path d="M557 596l2 11 3 0 3-6-5-6z" fill="#aa8888"/>
<path d="M676 506l-3-1-5-13 0-2 10 3 1 3-1 5z" fill="#3a9a3a"/>
<path d="M519 581l-5-4-10 7 3 16 8 1 4-19z" fill="#aa8888"/>
<path d="M668 526l-3-10 2-5 3 0 3 11 0 1z" fill="#9a1a6a"/>
<path d="M632 541l5-2 1 3 0 7 0 1-5 2z" fill="#2e3494"/>
<path d="M691 499l-4-6 0-6 8-4 2 8-1 4z" fill="#8a1a8a"/>
<path d="M471 657l0-12 3-3 4 3 1 3-1 6-4 5z" fill="#2a7aa0"/>
<path d="M607 549l-2 7-6-4-3-9 6-7 3 3z" fill="#2a7aa0"/>
<path d="M676 508l-1 13-2 1-3-11 3-6 3 1z" fill="#6a1a9a"/>
<path d="M498 619l-5 4-6-13 7-12 6 10z" fill="#2a7aa0"/>
<path d="M502 634l-1 7 3 8 4-4-3-9z" fill="#3a9a3a"/>
<path d="M522 619l-4-1-3-9 1-3 9 0z" fill="#8a5a20"/>
<path d="M579 586l0 6-4 4 0-1-4-6 3-8z" fill="#8a1530"/>
<path d="M614 540l0-3-9 2 2 10 4 2 3-5z" fill="#aa8888"/>
<path d="M505 636l3 9 1 0 3-3-1-8-1-3z" fill="#6a9a70"/>
<path d="M515 601l1 5-1 3-7 9-3-11 2-7z" fill="#1a9a1a"/>
<path d="M524 623l0 3 1 7 2 1 4-4 0-1-3-7z" fill="#3a5a9a"/>
<path d="M698 504l-2-9 1-4 4 2 2 7-3 4z" fill="#5a9a40"/>
<path d="M502 624l6-4 0-2-3-11-5 1-2 11z" fill="#5a9a40"/>
<path d="M510 623l6 1 1 4-2 5-4 1-1-3z" fill="#2a9a7a"/>
<path d="M581 579l3 1 3-9-5-5-3 8z" fill="#9a2020"/>
<path d="M651 514l1-3 6 0 2 6 0 2-4 9-2-1z" fill="#3a9a3a"/>
<path d="M587 571l-5-5-1-5 5-9 3 2 1 2z" fill="#3a9a3a"/>
<path d="M682 517l0-1-6-8-1 13 3 0z" fill="#8a8a30"/>
<path d="M590 556l-1-2 7-11 3 9-1 11-3 1z" fill="#7a8a2a"/>
<path d="M545 580l4 12-6 7-3-7 4-11z" fill="#2e3494"/>
<path d="M626 547l-1 0 0 12 4-1 2-4z" fill="#2a7aa0"/>
<path d="M607 549l-2 7 0 1 2 3 4-2 1 0-1-7z" fill="#8a1530"/>
<path d="M668 526l-3-10-5 1 0 2 3 11 1 0 4-4z" fill="#8a5a20"/>
<path d="M548 605l-5-4-1 4 0 2 5 8z" fill="#3a5a9a"/>
<path d="M560 595l5 6 1 0 1-12-2-3-3 1z" fill="#2e3494"/>
<path d="M590 573l-3-2 3-15 5 8-3 8z" fill="#9a1a6a"/>
<path d="M574 581l-3 8-4 0-2-3 2-14 4-2 2 5z" fill="#1a9a1a"/>
<path d="M520 630l-3-2-2 5 2 7 1 0 3-3z" fill="#3a9a3a"/>
<path d="M602 565l3 7-3 5-4 0 0-13z" fill="#8a1a8a"/>
<path d="M683 478l4 9 0 6-8 3-1-3 2-14z" fill="#2a9a7a"/>
<path d="M526 606l1-12 5-1 1 0 3 11-1 5-4 4z" fill="#8a1530"/>
<path d="M469 619l-1 0-4 21 0 1 7 4 3-3 0-15z" fill="#7a8a2a"/>
<path d="M466 670l3-7 4 9-4 4-2 0z" fill="#6a9a70"/>
<path d="M477 668l-3-9 4-5 3 7 1 3z" fill="#8a1a8a"/>
<path d="M651 514l1-3-4-12-3-1-5 17 3 4 4 1z" fill="#8a1a8a"/>
<path d="M650 530l4-3-3-13-4 6 2 9z" fill="#3a9a3a"/>
<path d="M494 595l-10-17-1 0-5 4-2 3 2 17 6 8 3 0 7-12z" fill="#4a2a9a"/>
<path d="M590 573l0 11 3 1 4-6 1-1-6-6z" fill="#aa8888"/>
<path d="M592 572l6 6 0-1 0-13 0-1-3 1z" fill="#1a9a1a"/>
<path d="M638 542l4-3 3 4-3 6-4 0z" fill="#2e3494"/>
<path d="M482 664l-1-3 4-7 3 6-1 4z" fill="#8a1a8a"/>
<path d="M554 594l0 16-5-5 3-10z" fill="#4a2a9a"/>
<path d="M622 545l3 2 0 12-1 1-1 0-3-9z" fill="#8a8a30"/>
<path d="M448 673l1 15 2 0 2-2 0-8z" fill="#6a9a70"/>
<path d="M550 572l-1-7 7-18 4 5 2 16-6 8z" fill="#2a9a7a"/>
<path d="M498 643l-5-8-1 8 2 7 4-5z" fill="#6a9a70"/>
<path d="M522 619l-4-1-2 6 1 4 3 2 4-4 0-3z" fill="#8a1a8a"/>
<path d="M656 479l-1 11 5 11 4-1 4-8 0-2 0-6-6-8z" fill="#6a9a70"/>
<path d="M698 504l-2-9-5 4 1 9 3 0z" fill="#aa8888"/>
<path d="M652 539l3-2 2-4-1-5-2-1-4 3z" fill="#9a1a6a"/>
<path d="M549 605l-1 0-1 10 2 1 4-2 1-4z" fill="#aa8888"/>
<path d="M571 589l4 6-4 7-5-1 1-12z" fill="#3a9a3a"/>
<path d="M474 627l0 15 4 3 6-13-2-6z" fill="#9a2020"/>
<path d="M646 543l-1 0-3-4 0-8 0-1 5 2z" fill="#2a7aa0"/>
<path d="M469 660l2-3 0-12-7-4-1 11 1 4z" fill="#2e3494"/>
<path d="M545 580l5-8-1-7-8-9-6 16 9 9z" fill="#aa8888"/>
<path d="M683 506l2-2 5 6-3 6-4-1z" fill="#5a9a40"/>
<path d="M493 635l0-2-1-3-7 3 2 14 5-4z" fill="#9a2020"/>
<path d="M662 476l6 8 7-9-2-19-6-7z" fill="#8a5a20"/>
<path d="M554 594l2-16 0-2-6-4-5 8 4 12 3 3z" fill="#8a1a8a"/>
<path d="M498 643l3-2 3 8-4 4-2-8z" fill="#9a1a6a"/>
<path d="M502 624l0 9 0 1 3 2 5-5 0-8-2-3z" fill="#5a9a40"/>
<path d="M642 531l-5 1-2-4 4-13 1 0 3 4-1 11z" fill="#3a5a9a"/>
<path d="M515 633l2 7-4 3-1-1-1-8z" fill="#9a2020"/>
<path d="M663 530l-3 4-3-1-1-5 4-9z" fill="#7a8a2a"/>
<path d="M703 479l-8 3-1-15 2-6 4 3 4 13z" fill="#4a2a9a"/>
<path d="M622 545l2-14 4 0 2 8-4 8-1 0-3-2z" fill="#4a2a9a"/>
<path d="M453 678l3-2 3 6-3 5-3-1z" fill="#7a8a2a"/>
<path d="M494 650l-1 5-1 0-6-8 1 0 5-4z" fill="#1a9a1a"/>
<path d="M507 600l-2 7-5 1-6-10 0-3 9-11 1 0z" fill="#8a1a8a"/>
<path d="M485 649l1-2 1 0-2-14-1-1-6 13 1 3z" fill="#6a9a70"/>
<path d="M528 622l3 7 4-3 0-4-4-7z" fill="#3a9a3a"/>
<path d="M461 667l5 3 1 6-2 4-4 0 0-13z" fill="#3a5a9a"/>
<path d="M678 501l1-5 8-3-2 11-2 2z" fill="#7a8a2a"/>
<path d="M448 673l1-5 7 1 0 7-3 2z" fill="#4a2a9a"/>
<path d="M498 645l2 8-5 3-2-1 1-5z" fill="#2a7aa0"/>
<path d="M444 685l-14 6 12 5 4-4 1-3z" fill="#8a1a8a"/>
<path d="M579 586l-5-5-1-6 6-1 2 5z" fill="#6a1a9a"/>
<path d="M461 667l3-11-1-4-8 3 3 12 3 0z" fill="#9a1a6a"/>
<path d="M611 558l1 11-1 1-3 0-1-10z" fill="#3a9a3a"/>
<path d="M515 609l-7 9 0 2 2 3 6 1 2-6z" fill="#7a8a2a"/>
<path d="M622 545l-8-5 0 6 3 7 3-2 2-6z" fill="#1a9a1a"/>
<path d="M534 573l1-1 9 9-4 11-7 1-1 0z" fill="#6a9a70"/>
<path d="M454 654l-5 10-10-10 13-9z" fill="#9a1a6a"/>
<path d="M535 622l0 4 5-2 2-4-3-5-1 0z" fill="#8a8a30"/>
<path d="M498 643l3-2 1-7 0-1-9 0 0 2z" fill="#3a5a9a"/>
<path d="M525 633l-3 5-1-1-1-7 4-4z" fill="#6a1a9a"/>
<path d="M552 595l-3-3-6 7 0 2 5 4 1 0z" fill="#3a9a3a"/>
<path d="M617 553l-1 5-4 0-1-7 3-5z" fill="#8a5a20"/>
<path d="M602 565l3-8 0-1-6-4-1 11 0 1z" fill="#6a1a9a"/>
<path d="M493 185l-15 2-7 5-4 9 0 11 0 14-4 15-3 17 0 16 3 15 2 14 0 11 3 9 4 5 15 2 16-2 8-5 3-9-1-11-2-14 7-15 10-16-1-17-11-15-4-14 2-11 0-9-5-5z" fill="#8e2208"/>
<path d="M513 170l-4 1-1 4-1 5-1 6 0 6 0 5 0 4 5 1 3-1 1-4 2-5 2-6-1-6 1-5-3-4z" fill="#9a5060"/>
<path d="M539 160l-12 2-2 6-2 10-2 10 8 11-3 10 0 6 13 2 11-2 8-6 5-10-2-11 0-10-8-10-3-6z" fill="#8e3008"/>
<path d="M524 198l-5 3-2 8 1 13 1 15-3 16 0 15 3 13 0 8 4 3 5-3 2-8 1-13 2-15 0-16-2-15-1-13-2-8z" fill="#9a5a62"/>
<path d="M543 203l-7 2-2 7-5 12-3 14 7 16-2 17-5 16 7 14 4 12-1 7 9 2 10-2 5-7 1-12-4-14 7-16 2-17-9-16 2-14-1-12-4-7z" fill="#8e2a55"/>
<path d="M556 150l-8 2-3 4-1 7-3 8 5 8 2 7 1 4 7 2 7-2 4-4-3-7 3-8-5-8 0-7 1-4z" fill="#8e2a55"/>
<path d="M572 160l-4 1-2 3-2 6-1 7 1 9-1 11 0 12 2 14 1 14 1 15-1 16-1 16-1 16-2 15 0 14 0 14 1 12 2 11 2 9 1 7 1 6 2 3 2 1 3-1 1-3 1-6 1-7 0-9 1-11 0-12 2-14 2-14 1-15 2-16-1-16 0-16-2-15-3-14 0-14-1-12-1-11 0-9 0-7-2-6-1-3z" fill="#8e8462"/>
<path d="M587 140l-4 1-3 4-1 6-1 9 1 11 0 12 1 14 0 15-1 15 0 16 0 15 0 15 3 14 0 12 0 11 0 9 1 6 2 4 3 1 5-1 1-4 1-6 3-9 3-11 2-12 2-14 0-15-3-15-2-16-1-15 1-15 0-14 1-12-1-11-3-9-2-6-4-4z" fill="#900c10"/>
<path d="M622 135l-9 1-3 4-6 7-4 9-4 10 3 13 3 14-2 16-7 15-1 17 6 15 7 16 0 14-3 13 1 10 2 9 5 7 4 4 9 1 7-1 2-4 0-7 2-9 5-10 5-13 0-14-7-16-4-15 3-17 5-15 1-16-7-14-4-13 0-10 2-9 0-7-2-4z" fill="#8e0830"/>
<path d="M604 195l-2 1 1 2 0 4-1 4 1 4-1 4 1 2 2 1 3-1-1-2 2-4-2-4 0-4 1-4-1-2z" fill="#a0a020"/>
<path d="M602 258l-7 3 1 10 1 14-4 17 4 16 0 14-1 10 6 3 8-3 2-10 1-14 2-16-2-17-3-14-1-10z" fill="#9a9020"/>
<path d="M617 293l-3 2-1 4-1 7-2 8 0 9 2 7 1 4 4 2 3-2 0-4 0-7 0-9 0-8 0-7 0-4z" fill="#3a1a9a"/>
<path d="M652 125l-4 1-3 4-1 7 0 9-2 11 0 13-1 14-2 15-1 16-1 16 0 15 2 14 1 13 2 11 2 9 0 7 2 4 4 1 5-1 2-4 2-7 1-9 1-11 0-13-2-14-1-15-1-16 1-16 1-15 2-14 2-13 0-11-3-9 0-7-3-4z" fill="#8e1040"/>
<path d="M669 118l-6 1-3 4-1 5-1 8-2 10 1 12 0 13 1 14-3 15-3 16-3 16 1 16 4 15 3 14 3 13 2 12-1 10 1 8 0 5 2 4 5 1 6-1 2-4 3-5 0-8 1-10-1-12-1-13-1-14 1-15 2-16 0-16 0-16-2-15 0-14-1-13 0-12 1-10-1-8-1-5-2-4z" fill="#9a0808"/>
<path d="M687 112l-4 1-2 4 0 6-2 8-1 10 0 12-1 13 0 15 1 16 1 16-1 16 0 16-1 16-1 15 0 13 0 12 1 10 2 8 2 6 0 4 4 1 5-1 1-4 2-6 0-8 2-10 3-12 4-13 2-15 0-16-1-16-3-16 0-16 1-16 1-15 0-13 0-12-3-10-2-8-2-6-4-4z" fill="#8e3c18"/>
<path d="M696 165l-3 3-2 7-4 11-1 12 3 13 2 11 0 7 4 3 4-3 2-7 1-11-1-13-2-12 1-11 0-7z" fill="#1a9a10"/>
<path d="M710 100l-4 1-2 4-1 6-2 9-2 10 0 12 0 14-1 15 0 15 2 16-1 17-2 15-1 15 0 14 0 12 0 10 2 9 3 6 2 4 5 1 6-1 1-4 3-6 1-9 0-10 0-12-1-14 1-15 1-15 1-17 2-16 1-15 1-15-2-14 0-12-3-10-1-9-2-6-2-4z" fill="#8e2028"/>
<path d="M699 252l-4 3 0 7 0 12-2 13 3 13-1 12 0 7 4 3 3-3 4-7 0-12-1-13 1-13 0-12-4-7z" fill="#4a9a3a"/>
<path d="M521 272l-4 2-1 5-4 8 1 10 3 10 1 8-1 5 4 2 4-2 3-5-1-8-1-10 1-10 0-8-1-5z" fill="#4a2a9a"/>
<path d="M533 278l-4 3-3 8-1 13 1 15-1 16 5 15-2 13 2 8 4 3 4-3 1-8 3-13-2-15 0-16-1-15-3-13 0-8z" fill="#5a9a40"/>
<path d="M466 298l-3 1-4 3 0 3-2 5 3 5 1 3 1 3 4 1 4-1 2-3-2-3 0-5 0-5-1-3 1-3z" fill="#9a3a8a"/>
<path d="M642 278l-2 1-2 1 1 2 0 3 1 3 0 2 0 1 3 1 2-1 1-1-1-2 1-3-1-3-1-2 0-1z" fill="#a0a0a0"/>
<path d="M482 300l-9 1-3 5-2 6-2 10-1 11 0 13-2 15-2 15-1 16 0 17-1 15 1 15 1 13 2 11 3 10 1 6 2 5 8 1 8-1 3-5 2-6 3-10 4-11 3-13 6-15 2-15 2-17-1-16-5-15-4-15-2-13-2-11-2-10-1-6-4-5z" fill="#962828"/>
<path d="M467 300l-4 2-4 4 0 7 2 8-1 8 2 7 3 4 4 2 6-2 0-4 2-7 3-8-5-8 0-7-1-4z" fill="#9a3a8a"/>
<path d="M490 298l-14 2-3 7-1 11-6 12 0 12 10 11 8 7 15 2 12-2 6-7 4-11-1-12-6-12-3-11-6-7z" fill="#962008"/>
<path d="M502 328l-5 1-6 4 1 5 0 7-1 7 6 5-1 4 4 1 6-1 5-4-3-5 1-7-2-7-1-5 0-4z" fill="#2e3a9a"/>
<path d="M480 448l-11 2-2 5-2 9-3 11-4 14-3 15 0 16 2 16-2 15-3 14 4 11 4 9 5 5 12 2 10-2 3-5 0-9 0-11 5-14 7-15 1-16-4-16 0-15 2-14-1-11-3-9-6-5z" fill="#960010"/>
<path d="M458 418l-2 1-1 4 1 5-1 7 0 7 0 5 2 4 1 1 2-1 0-4 0-5 1-7 1-7-2-5-1-4z" fill="#9a3a7a"/>
<path d="M514 368l-8 2-3 6-4 9 0 12 2 14 1 16-3 16-4 16 1 14 3 12 3 9 4 6 5 2 6-2 1-6 1-9 3-12 3-14 0-16 0-16-1-16 1-14 0-12-2-9-2-6z" fill="#2e3494"/>
<path d="M530 332l-3 1-2 3-1 5-1 8 0 9-2 10 0 13-2 13-3 15 0 15-1 16 0 16 1 16 1 16 2 15 1 15-1 13 0 13-1 10 1 9 0 8 1 5 3 3 4 1 5-1 3-3 1-5 1-8 3-9-1-10 1-13 0-13 0-15 1-15 0-16 2-16 2-16 1-16 0-15-1-15-1-13 0-13-2-10-3-9-1-8-1-5-2-3z" fill="#7e1490"/>
<path d="M524 388l-4 3 1 9-4 14 3 16-1 16 0 14 2 9 4 3 6-3 1-9 0-14 3-16-3-16 1-14-5-9z" fill="#4a2494"/>
<path d="M522 333l-4 1 0 2 1 3-3 5 2 4 0 3 0 2 4 1 3-1 3-2 2-3-2-4 3-5-2-3-3-2z" fill="#a06070"/>
<path d="M555 318l-7 1-2 4-2 7-1 9-1 11-3 13-2 14-2 15 1 16 3 17-1 16 1 15 0 14 2 13 2 11 3 9 2 7 3 4 5 1 6-1 4-4 2-7 2-9 3-11 0-13-3-14-2-15 1-16 3-17 0-16-2-15-1-14-2-13 0-11-1-9-1-7-2-4z" fill="#8e5e18"/>
<path d="M570 298l-4 3-1 8 0 11-2 15 1 16 2 15 1 11 1 8 5 3 5-3-1-8 1-11 3-15-2-16-2-15-1-11-2-8z" fill="#9a8e6a"/>
<path d="M577 402l-3 3-2 7-4 12 1 13 1 13-2 12 2 7 5 3 4-3 1-7 0-12 4-13-2-13 1-12-1-7z" fill="#6a9a70"/>
<path d="M586 298l-4 1-3 3-3 6-2 8 0 9-2 11 0 13 0 15-1 15-1 16 0 17-2 17 1 17 2 17 3 16 1 15 1 15 1 13-1 11 1 9 0 8 1 6 1 3 5 1 6-1 1-3 2-6 2-8 1-9 0-11 1-13-1-15-3-15 2-16 1-17 1-17 1-17-3-17-1-16-2-15-1-15 0-13 1-11 2-9 0-8-2-6-1-3z" fill="#a01a10"/>
<path d="M594 378l-3 2 0 6-2 9 0 10 1 10 1 9 1 6 2 2 2-2 1-6 2-9 2-10-2-10-1-9-1-6z" fill="#9a1a7a"/>
<path d="M602 338l-6 1-2 4-3 5-2 8 0 9 1 12 1 12 0 14 0 15-2 16-3 16-1 16-1 16 1 15 3 14 3 12 3 12 1 9 2 8 3 5 3 4 4 1 6-1 3-4 2-5 0-8 1-9-1-12 0-12-2-14-1-15 1-16 1-16 1-16 2-16 0-15-1-14-1-12-2-12-2-9-2-8-2-5-3-4z" fill="#9a1a28"/>
<path d="M605 298l-7 2-3 5 1 8 1 9-1 10 4 8 1 5 6 2 8-2 8-5-1-8-1-10 3-9-8-8-4-5z" fill="#9a9a20"/>
<path d="M624 338l-2 3-3 9 0 14 1 16 1 16 0 14 1 9 3 3 4-3 4-9-2-14 1-16-2-16-1-14-1-9z" fill="#9a9a20"/>
<path d="M617 338l-4 1-1 3 1 5-3 5 2 5-1 5 1 3 5 1 4-1 1-3-1-5 1-5 1-5-1-5 0-3z" fill="#3a1a9a"/>
<path d="M624 340l-3 2-1 7-1 10 0 11 1 11 0 10 1 7 4 2 4-2 3-7 0-10-2-11 0-11 0-10-2-7z" fill="#9a1a8a"/>
<path d="M639 298l-10 2-1 4 0 8-6 8 2 8 6 8 1 4 10 2 10-2 6-4 5-8 1-8-3-8-4-8-4-4z" fill="#960830"/>
<path d="M639 328l-7 3-4 9 0 14 4 16-4 16 3 14 5 9 7 3 6-3 1-9-1-14 4-16-4-16-3-14-1-9z" fill="#9a0a0a"/>
<path d="M630 393l-3 2 1 5-5 8 1 10 1 9-2 8 3 5 4 2 4-2-1-5 3-8 0-9-1-10 2-8-2-5z" fill="#9a9a20"/>
<path d="M629 408l-6 2-3 4-2 8-1 8 5 8 2 8 2 4 7 2 8-2 2-4-1-8-3-8 0-8 1-8-3-4z" fill="#1a9a5a"/>
<path d="M649 338l-8 3-1 9 4 14-1 16-5 16 2 14 5 9 7 3 7-3 0-9 3-14 5-16-2-16-5-14-5-9z" fill="#a05a10"/>
<path d="M658 333l-4 1-3 3-2 5 0 6 1 5-3 5 3 3 5 1 3-1 2-3 1-5 3-5-1-6-2-5-1-3z" fill="#a08a90"/>
<path d="M649 408l-4 2-3 4 2 8-2 8-3 8 4 8 2 4 5 2 4-2 1-4-2-8 1-8 3-8-2-8-3-4z" fill="#6a7a9a"/>
<path d="M679 298l-6 2-4 5-2 8-3 10-4 13-4 15 3 16 3 16-3 16-2 15-1 13 3 10 4 8 4 5 7 2 8-2 3-5 0-8-1-10-1-13 4-15 6-16 1-16-5-16-1-15 1-13 2-10-2-8-3-5z" fill="#a00a1a"/>
<path d="M690 322l-3 2-1 4-1 6-1 8 0 8 1 6 0 4 3 2 2-2 1-4 2-6-1-8 3-8-2-6-1-4z" fill="#1a9a8a"/>
<path d="M698 298l-5 3-1 7-1 11 1 15-3 16 2 16 1 15-1 11 2 7 4 3 6-3 1-7 1-11 2-15 1-16-2-16 1-15-3-11-1-7z" fill="#963a18"/>
<path d="M700 403l-4 3-1 7 1 11-3 14-1 13 3 11 3 7 3 3 2-3 1-7 1-11 1-13 0-14 0-11-2-7z" fill="#2a9a1a"/>
<path d="M686 403l-3 3 0 7-5 11 0 14 2 13-1 11 1 7 5 3 2-3 1-7 3-11-1-13 0-14 2-11-1-7z" fill="#9a1a7a"/>
<path d="M671 438l-6 2 0 7 1 11-2 12 1 12 1 11 1 7 4 2 6-2 3-7 1-11 0-12 1-12-4-11-2-7z" fill="#3a9a1a"/>
<path d="M695 428l-4 2-1 7 0 11 0 12 1 12-1 11 2 7 4 2 4-2 1-7-1-11 4-12-4-12 0-11 0-7z" fill="#9a8a70"/>
<path d="M686 443l-3 2 0 6 0 9 0 10-1 10-1 9 2 6 3 2 3-2 1-6 1-9 1-10 0-10-2-9-3-6z" fill="#4a8a9a"/>
<path d="M576 468l-5 3-3 8 1 12 2 15-3 16 3 15 1 12-1 8 5 3 5-3 4-8 1-12-1-15 3-16-3-15-4-12 0-8z" fill="#6a9a70"/>
<path d="M602 463l-3 1-3 5 2 6-1 7 0 8-1 6 1 5 4 1 4-1 0-5 3-6 0-8 1-7-3-6-2-5z" fill="#3a9a2a"/>
<path d="M623 453l-3 1 0 3-2 5 2 6-1 5 0 5 3 3 2 1 2-1 1-3 1-5 3-5-3-6-1-5-1-3z" fill="#9a9a20"/>
<path d="M458 468l-3 1 0 3-2 6 0 8 0 9 0 11-1 13 1 14 0 15 0 15 0 16 0 16 0 15 0 15 0 14 0 13 1 11 0 9 1 8 0 6 1 3 3 1 2-1 1-3 0-6 2-8 0-9 1-11-1-13 1-14 2-15 0-15 2-16-2-16 0-15-3-15-1-14 0-13 0-11-1-9 0-8-1-6-1-3z" fill="#3a9a3a"/>
<path d="M458 570l-2 2-3 6-1 10 2 12 0 14-3 16 3 16 0 14-3 12 2 10 2 6 3 2 2-2 2-6 1-10 0-12 3-14-1-16-1-16 2-14-2-12-1-10-3-6z" fill="#1a9010"/>
<path d="M479 455l-8 2-3 5-1 8-4 11-3 14 0 14 3 16 2 16 0 14-2 14-1 11 2 8 4 5 9 2 9-2 4-5 5-8 6-11 5-14 1-14-6-16-2-16 2-14 1-14-1-11-6-8-5-5z" fill="#960810"/>
<path d="M495 455l-12 3-10 8 0 13-9 15 9 14 2 13 4 8 13 3 11-3 11-8-8-13 4-14-3-15 2-13 1-8z" fill="#962a2a"/>
<path d="M513 455l-8 2-5 5-5 8 9 8-2 9-4 8 4 5 9 2 9-2 3-5 1-8 6-9-6-8-5-8 0-5z" fill="#2e3494"/>
<path d="M530 465l-9 2-3 6-5 10-4 12 3 14 4 16-9 16-5 14 8 12 8 10 4 6 8 2 9-2 7-6 1-10-1-12-1-14 10-16 2-16-7-14-6-12 0-10-3-6z" fill="#7e1490"/>
<path d="M513 518l-6 3-2 7 1 11-2 15-5 16 1 16 4 15 0 11 1 7 6 3 6-3 2-7 2-11 1-15 0-16 0-16 2-15-1-11-4-7z" fill="#3a9a30"/>
<path d="M502 528l-3 1 0 4-1 5-2 7 2 7 1 5 0 4 3 1 3-1 2-4-2-5 0-7 2-7-3-5 0-4z" fill="#9a9a30"/>
<path d="M501 562l-7 2-3 7 2 10-5 11-2 11 6 10 3 7 6 2 6-2 2-7 0-10 2-11-2-11 1-10-2-7z" fill="#2e4494"/>
<path d="M552 488l-6 3-3 8 3 13 0 15-2 16 2 15 2 13 0 8 4 3 6-3 1-8 1-13 3-15-1-16-2-15-2-13-1-8z" fill="#1a2a9a"/>
<path d="M561 522l-4 1-4 3 1 4 0 5-1 5 3 4 1 3 2 1 4-1 2-3-2-4 3-5-1-5-1-4 1-3z" fill="#2a9a7a"/>
<path d="M570 455l-7 2-8 6-2 10 2 11-4 10 8 10 5 6 7 2 8-2 3-6-3-10-2-10 4-11 0-10-4-6z" fill="#8e5e18"/>
<path d="M570 508l-6 3-5 9-4 14 4 16-3 16 6 14 3 9 5 3 8-3 2-9-1-14 3-16-6-16 2-14-1-9z" fill="#962010"/>
<path d="M585 482l-5 3-2 8 0 12-1 15-2 15 2 12 3 8 4 3 4-3 0-8 2-12 1-15-1-15 1-12-2-8z" fill="#6a9a70"/>
<path d="M605 455l-11 3-6 7-1 12-2 15-7 16 6 17 8 15 0 12 2 7 10 3 11-3 7-7 0-12-6-15 4-17 1-16-6-15 1-12 0-7z" fill="#961020"/>
<path d="M590 522l-4 2-1 4-1 6 2 8-3 8 2 6 0 4 4 2 4-2 0-4 4-6-2-8 2-8-4-6 0-4z" fill="#8a1a9a"/>
<path d="M599 462l-3 2-1 5-1 8 0 10-1 10 1 8 1 5 4 2 3-2 1-5 1-8 0-10 0-10-1-8 0-5z" fill="#3a9a3a"/>
<path d="M617 492l-3 1-3 4 0 6 0 7-1 6 3 6 3 4 2 1 4-1 1-4-1-6 1-6-1-7-1-6 0-4z" fill="#1a1a9a"/>
<path d="M629 488l-6 2-3 6 3 9-2 10 4 10-2 9 1 6 7 2 6-2 4-6 0-9 2-10-4-10-1-9-3-6z" fill="#9a4a20"/>
<path d="M624 528l-5 1 0 3 1 3-3 5 3 5-1 3 2 3 5 1 3-1 1-3 0-3 1-5-2-5 1-3-2-3z" fill="#9a8a20"/>
<path d="M650 455l-4 3-4 8-3 13 1 15 0 14-1 13 3 8 7 3 7-3 0-8 2-13 4-14 0-15-3-13-2-8z" fill="#9a0a10"/>
<path d="M672 468l-6 2-5 4-5 8 1 8 3 8 0 8 0 4 8 2 5-2 3-4 3-8 1-8-1-8-2-8-1-4z" fill="#3a9a1a"/>
<path d="M688 463l-4 1-1 5-2 6 2 7 1 8 1 6 0 5 6 1 4-1 0-5 5-6-3-8 0-7-1-6-4-5z" fill="#4a8a9a"/>
<path d="M514 588l-11 2-3 6 0 9-4 10 3 10 8 9 3 6 6 2 12-2 6-6-3-9-4-10 4-10-4-9-6-6z" fill="#3a9a30"/>
<path d="M482 588l-4 1-1 4-2 5-2 7 1 7 1 5 0 4 6 1 5-1 2-4 4-5 0-7-2-7 1-5-3-4z" fill="#5a1a9a"/>
<path d="M475 572l-7 3-3 8 0 11-1 15-1 16 3 15 3 11 1 8 4 3 6-3 4-8 1-11 2-15 0-16-4-15-2-11-1-8z" fill="#960a30"/>
<path d="M480 588l-3 1-1 2-2 3 0 4-1 3 0 3 2 2 4 1 4-1 0-2 1-3 3-3-1-4 0-3-2-2z" fill="#2a9a7a"/>
<path d="M457 645l-5 2-1 5-1 7 0 9 1 8 1 7 0 5 5 2 3-2 1-5 2-7 1-8-4-9 1-7 0-5z" fill="#6a9a70"/>
</g>
<g clip-path="url(#cTop)">
<path d="M80 124l295-62 347 41-268 89z" fill="#d8101e"/>
<path d="M465 96l6 2-4 2-11 2-11 1-5-2-8-1 11-3 12 0z" fill="#d80818"/>
<path d="M592 143l11 1-9 5-14 5-16 1-5-2 1-4 6-5 19-3z" fill="#d80818"/>
<path d="M339 76l4 3-12 3-9 2-18 2-10-2 7-3 5-3 15-1z" fill="#cc0a28"/>
<path d="M255 134l1 2 3 2-8 1-11 0-9-1 4-2-1-2 10-2z" fill="#d0102e"/>
<path d="M551 135l0 4-5 3-10 3-15 2-9-2-3-3 15-3 10-3z" fill="#d03a18"/>
<path d="M438 70l4 2 1 1-6 1-10 0-11-1 4-1-1-2 8-1z" fill="#d84a10"/>
<path d="M559 137l12 2-4 2-10 1-9 2-13-2-1-3 6-1 7-2z" fill="#c820a0"/>
<path d="M187 101l-2 2 0 3-21 3-15 1-6-1 6-3 12-4 19-2z" fill="#e06018"/>
<path d="M466 104l2 2-1 2-10 1-9 1-10-1-2-2 11-2 7-1z" fill="#d090c0"/>
<path d="M386 160l3 3-9 3-8 3-16 3-2-4 0-3 7-3 13-2z" fill="#d84a10"/>
<path d="M385 114l14 2 0 3-16 1-12 0-15-1-1-3 2-3 17 0z" fill="#d84070"/>
<path d="M400 114l-7 5-11 4-13 3-19 3-5-2 5-4 14-3 14-3z" fill="#cc0a28"/>
<path d="M476 123l-3 4-3 5-18 3-17 2-19-1 10-5 14-3 15-4z" fill="#d84a10"/>
<path d="M339 103l4 1-6 2-7 2-11 1-11-1 7-2 5-2 9-2z" fill="#c8c830"/>
<path d="M396 89l-2 2 1 2-7 1-9 1-3-2-2-1 6-1 8-2z" fill="#c820a0"/>
<path d="M308 140l5 4 2 5-21 3-17-2-18 0-7-5 16-4 21 0z" fill="#d80818"/>
<path d="M482 70l0 3 2 1-7 2-13 1-8-2-2-2 8-1 8-2z" fill="#d80818"/>
<path d="M452 80l4 2 2 1-7 0-7 0-10 0-3-2 6-1 6 0z" fill="#c8c830"/>
<path d="M472 88l4 1-8 3-12 4-13 0 1-2-6-1 12-4 15-2z" fill="#d87818"/>
<path d="M236 106l4 1-3 2-7 0-7 1-2-1-5-1 7-2 7 0z" fill="#d03a18"/>
<path d="M446 80l3 2 0 1-6 1-8 0-10-1 4-1 2-1 6-1z" fill="#e0101a"/>
<path d="M380 154l0 2 4 2-10 3-11-1-4-1-4-2 7-2 10-2z" fill="#cc10c0"/>
<path d="M546 155l9 3 7 5-16 3-22 1-14-5-1-3-6-6 23-1z" fill="#d02060"/>
<path d="M151 107l16 0-13 5-20 3-18 1-4-3-5-2 16-5 21-1z" fill="#d02060"/>
<path d="M551 111l10 3 0 4-14 4-24 2-5-5-11-3 5-5 22-2z" fill="#d80818"/>
<path d="M427 161l9 3-1 6-18 5-24 0-3-5-18-3 15-6 23-1z" fill="#e0101a"/>
<path d="M498 69l5 3-4 2-2 3-18-1-8-2-6-2 7-2 11-2z" fill="#e0101a"/>
<path d="M607 121l18 3-9 2-4 1-14 1-15-3-11-3 9-1 10-1z" fill="#d06a6a"/>
<path d="M518 106l2 2-4 2-13 3-14 3 0-3 3-2 8-3 14-3z" fill="#e0101a"/>
<path d="M468 164l14 3 4 5-14 3-22-1-14-4-4-3-7-6 26 1z" fill="#d02060"/>
<path d="M489 160l8 3-6 3-9 2-12 1-16-1 1-4 13-2 8-2z" fill="#d84a10"/>
<path d="M222 143l0 4 5 3-9 1-16 0-14-3 0-3 5-1 11-2z" fill="#d80818"/>
<path d="M312 83l9 2-6 2-8 1-13 1-9-2-5-2 8-2 10 0z" fill="#d0102e"/>
<path d="M201 108l5 3-5 2-5 2-17 0-10-3-6-2 13-1 8-3z" fill="#d80818"/>
<path d="M371 73l10 2-7 3-15 1-15 2-14-1 5-4 7-2 14-1z" fill="#d84a10"/>
<path d="M339 130l7 2-5 2-7 1-10 1-7-2-7-2 11-1 7 0z" fill="#e0101a"/>
<path d="M499 125l-6 4 0 3-13 3-15 2-9-1 8-4 7-3 15-3z" fill="#d80818"/>
<path d="M433 158l13 1-1 5-19 1-13 1-15-1-5-4 16-3 13-2z" fill="#d80818"/>
<path d="M377 83l3 1-3 2-5 0-7 1-6 0 4-2 1-1 7-1z" fill="#d80818"/>
<path d="M159 128l11 3-6 4-17 2-15 0-19-1-3-4 21-2 12-3z" fill="#d80818"/>
<path d="M455 85l12 2-4 3-15 1-13 1-12-1-2-3 5-3 17 0z" fill="#e0101a"/>
<path d="M602 119l9 2-14 5-11 2-16 3-13 0 9-5 7-4 15-1z" fill="#cc0a28"/>
<path d="M276 141l1 3 1 3-15 3-13 0-11-1 7-3 5-4 17-2z" fill="#d0102e"/>
<path d="M376 124l-9 4-9 4-15 4-15 2-11 0 9-4 17-4 13-3z" fill="#d80818"/>
<path d="M397 92l-2 2-3 1-7 3-8 0-7-1 5-2 5-1 10-2z" fill="#d03a18"/>
<path d="M354 127l1 2-2 2-9 2-13 2-2-3 1-2 2-3 13-1z" fill="#d80818"/>
<path d="M485 153l9 4-1 4-15 5-23 0-3-4-17-3 13-5 21-2z" fill="#c80848"/>
<path d="M646 88l0 2-5 2-7 2-10 2-5-1 8-3 3-2 9-2z" fill="#c8c830"/>
<path d="M367 76l-2 3-10 2-11 3-13 1-7-1 4-2 11-3 11-1z" fill="#d80818"/>
<path d="M195 109l1 2-2 2-13 3-12 0-4-2-4-1 13-3 14-3z" fill="#d03a18"/>
<path d="M360 87l15 2-14 3-11 3-15 0-13-1-4-3 12-3 15 0z" fill="#d84a10"/>
<path d="M201 109l-6 3-8 2-10 3-15 2-5-2 5-3 10-2 12-2z" fill="#d80818"/>
<path d="M339 76l10 0-4 3-11 1-10 0-8 0 0-2 3-3 13 0z" fill="#d84a10"/>
<path d="M350 137l2 2-3 2-11 2-5-1-11 1 3-2 9-2 9-1z" fill="#cc10c0"/>
<path d="M486 135l4 2-2 3-10 3-14 1 0-3-9-2 8-3 14-1z" fill="#d80818"/>
<path d="M544 96l12 1 0 4-18 2-16 1-7-2-8-2 7-4 19-1z" fill="#d02060"/>
<path d="M476 90l7 1-6 4-13 3-12 0-6-2-9-1 14-4 15-2z" fill="#d0102e"/>
<path d="M433 98l7 2 3 2-9 2-14 0-8-3-4-2-4-3 16 1z" fill="#d80818"/>
<path d="M261 92l2 2-9 3-11 2-10 0-14 1 12-3 9-2 11-2z" fill="#d87818"/>
<path d="M472 127l8 4 1 3-11 2-21 2-11-4-1-3-3-4 19-1z" fill="#d03a18"/>
<path d="M698 106l9 1 0 2-6 0-7 0-11-1-4-1 6-1 3-1z" fill="#d0b020"/>
<path d="M479 88l3 2-4 3-12 3-19 2-9-2 8-4 0-3 18-2z" fill="#e06018"/>
<path d="M422 144l2 1 2 2-6 3-11-1-6-1-4-2 3-3 11 0z" fill="#cc0a28"/>
<path d="M553 141l7 2 1 4-18 2-13 1-10-1 1-3 7-4 16-2z" fill="#cc0a28"/>
<path d="M652 107l1 2-6 3-7 2-13 3-4-2 6-3 3-2 11-2z" fill="#d02060"/>
<path d="M281 89l-4 3-1 2-10 2-10 0-8-1 5-2 6-2 12-2z" fill="#cc0a28"/>
<path d="M470 76l-2 3 0 3-14 2-16 2-11-1 6-4 9-2 12-3z" fill="#d87818"/>
<path d="M485 160l6 1-9 5-15 4-18 3 2-3 2-3 10-5 19-4z" fill="#cc0a28"/>
<path d="M366 69l8 1-2 3-13 2-14 1-2-3-6-1 6-3 15-1z" fill="#d84a10"/>
<path d="M310 92l2 1-5 3-19 3-8 0-10 1 9-3 11-4 16-2z" fill="#e06018"/>
<path d="M258 100l-1 2 4 2-11 2-10 0-5-1-1-2 6-2 11-2z" fill="#cc0a28"/>
<path d="M290 119l3 4-8 3-9 2-21 2-7-4-3-3 9-3 15-1z" fill="#cc0a28"/>
<path d="M360 168l10 2-3 2-3 2-15 0-10-3-1-2-3-3 13-1z" fill="#d03018"/>
<path d="M392 141l3 2-4 3-8 3-15 1 1-4-6-1 7-3 13-2z" fill="#d80818"/>
<path d="M244 92l3 1-6 2-10 3-10 0-3-1 7-2 4-2 12-1z" fill="#d0a080"/>
<path d="M415 63l9 1-3 1-5 1-9 0-6-1-9-2 8-1 7 0z" fill="#d84a10"/>
<path d="M540 162l6 5-11 4-4 6-24 0-17-3 0-5 9-4 17-3z" fill="#d04010"/>
<path d="M286 136l6 4-2 3-13 2-21 3-10-5 2-3 1-4 18-1z" fill="#d80818"/>
<path d="M467 138l10 1-6 5-17 2-15 2-6-2-8-3 14-4 15-1z" fill="#d03a18"/>
<path d="M89 119l2 2-1 1-6 1-8 1-3-2 0-1 2-2 8 0z" fill="#b060c0"/>
<path d="M396 103l8 1-1 3-14 1-10 1-7-2-2-1 5-3 13-1z" fill="#e0101a"/>
<path d="M266 155l-6 3-1 2-10 3-11 0-2-1 2-2 7-3 11-2z" fill="#c8c830"/>
<path d="M494 176l4 3 2 4-13 1-13 2-15-2-1-4 11-2 8-3z" fill="#c80848"/>
<path d="M239 131l3 2-3 2-9 1-8 1-9-1-3-2 12-2 6-1z" fill="#d84070"/>
<path d="M352 73l-2 2-5 2-8 1-12 2-2-1 7-2 5-2 10-1z" fill="#c8c830"/>
<path d="M297 122l7 2-1 3-10 1-11-1-13-1-5-2 9-2 11 0z" fill="#d06a6a"/>
<path d="M240 100l1 3-11 3-11 2-16 2-4-2 0-2 13-3 12-1z" fill="#d87818"/>
<path d="M311 78l12 1-3 2-13 2-11 0-12-1 0-2 7-2 13-1z" fill="#cc0a28"/>
<path d="M352 130l6 3 8 4-17 1-14-1-11-2-13-2 13-3 14-1z" fill="#d0102e"/>
<path d="M405 107l7 2-2 2-9 2-15 1-6-2 1-2 3-3 12-2z" fill="#d87818"/>
<path d="M450 80l8 2 2 2-11 1-12 0-18-1-1-3 8-1 9 0z" fill="#e0101a"/>
<path d="M531 90l8 3-11 3-5 3-18 1-8-3-5-2 10-3 12-2z" fill="#d02060"/>
<path d="M366 78l2 2 3 1-3 2-13-1-9-1-3-2 0-1 11 0z" fill="#d02060"/>
<path d="M336 147l12 2-4 3-8 3-17 0-9-3-1-3-1-4 17-1z" fill="#cc0a28"/>
<path d="M372 134l-4 3-3 3-14 5-13-1-8-1 3-3 10-4 17-3z" fill="#d0102e"/>
<path d="M285 117l-1 2-6 3-13 3-17 2 5-3-2-2 10-3 15-3z" fill="#cc0a28"/>
<path d="M327 74l10 1-3 3-15 2-17 1-3-3-12-1 11-4 18 0z" fill="#d80818"/>
<path d="M394 112l4 2 2 2-9 1-13 1-9-2 0-2 4-2 9-2z" fill="#d84070"/>
<path d="M288 81l12 1-6 3-13 3-17-1-7-2-14-2 16-3 16 0z" fill="#e0101a"/>
<path d="M355 94l0 2 2 1-6 2-12 0-5-2-5-1 7-2 8-1z" fill="#d0a080"/>
<path d="M269 98l2 3-1 3-17 1-11 0-13 0-3-3 16-2 12-1z" fill="#d84a10"/>
<path d="M424 98l11 0-5 2-7 2-9 0-6-2-7-1 5-2 11 0z" fill="#d03a18"/>
<path d="M516 86l0 4-1 3-8 3-19 1-11-3-4-3 8-3 14-1z" fill="#d06a6a"/>
<path d="M109 117l4 2-3 3-14 4-11-2-11-1-2-3 12-3 16-1z" fill="#d84a10"/>
<path d="M447 156l5 3 9 5-14 3-22-1-10-3-15-4 12-3 17-3z" fill="#d03018"/>
<path d="M497 136l9 1 1 4-16 1-11 1-10-2-2-2 4-4 15 0z" fill="#cc0a28"/>
<path d="M521 81l-3 2-3 2-11 3-14 2 2-3 0-1 6-3 13-2z" fill="#cc0a28"/>
<path d="M332 148l3 1 2 3-12 1-8 0-6-1-2-1 8-2 9-2z" fill="#c80848"/>
<path d="M591 142l2 2-3 2-6 2-9 2-5-2 2-2 1-2 9-1z" fill="#cc0a28"/>
<path d="M516 138l3 2 2 2-4 1-10 0-9-2-5-2 6 0 5-2z" fill="#40c040"/>
<path d="M637 113l15 2-1 3-5 4-20-2-12-2-14-3 5-3 18 0z" fill="#e06018"/>
<path d="M306 85l10 2-2 3-14 2-15 0-10-2 2-2 1-4 18 0z" fill="#e06018"/>
<path d="M506 120l1 2-15 5-11 3-17 3-6-1 12-4 8-4 14-2z" fill="#d06a6a"/>
<path d="M411 91l1 1-5 2-6 1-9 1-3-1 1-1 5-2 7 0z" fill="#d0102e"/>
<path d="M410 114l13 2-10 4-14 1-16 3-11-3-5-3 13-3 14-1z" fill="#cc0a28"/>
<path d="M287 133l12 1-12 4-12 1-12 2-7-1-1-3 12-3 11-1z" fill="#d80818"/>
<path d="M356 143l14 3-1 2-9 1-14-1-19-2-6-3 12 0 6-2z" fill="#d02060"/>
<path d="M258 152l9 1-16 4-11 3-13 2-6-1-1-3 16-4 11-1z" fill="#d80818"/>
<path d="M612 82l4 3-1 3-15 2-14 2-19-1 7-4 8-2 12-2z" fill="#d84a10"/>
<path d="M313 82l5 1-1 3-14 1-9 0-10-1-4-2 13-1 10-2z" fill="#b060c0"/>
<path d="M324 134l2 4-1 3-7 2-19 1-7-4-7-3 7-2 14-2z" fill="#d0102e"/>
<path d="M730 106l20 2-3 2-12 0-10 1-18-2-8-3 6-1 9-1z" fill="#d03a18"/>
<path d="M413 70l8 1-4 2-14 2-9 0-15 1 3-3 11-3 12-1z" fill="#d03a18"/>
<path d="M521 148l8 3-1 4-11 3-19 2-8-5-4-3 1-4 17-1z" fill="#d03018"/>
<path d="M572 144l13 2-7 5-13 6-23 0-5-4-13-3 12-6 22-2z" fill="#d80818"/>
<path d="M469 140l4 1-6 3-13 4-11 1-4-2 1-2 8-4 13-1z" fill="#d03018"/>
<path d="M583 90l7 2-6 1-6 1-9 2-6-2-2-1 5-2 8-1z" fill="#40c040"/>
<path d="M425 88l1 2-1 2-11 3-14 0-6-1-1-2 10-3 13-3z" fill="#cc0a28"/>
<path d="M138 108l-2 3-3 3-22 3-11 0-12 1 5-3 18-4 17-2z" fill="#d0102e"/>
<path d="M421 88l5 3 2 3-14 4-18-2-13-1-7-3 8-4 21 0z" fill="#e0101a"/>
<path d="M508 156l4 6-7 4-7 7-26-1-16-3-2-5 12-4 18-5z" fill="#e0101a"/>
<path d="M336 148l5 2-3 3-9 1-12 1-9-1 2-3 7-2 8-3z" fill="#d87818"/>
<path d="M385 104l1 4-4 2-11 3-14 0-17 0 5-4 11-2 11-2z" fill="#d80818"/>
<path d="M373 130l10 2 3 3-10 1-13-1-11-1-1-3-3-2 15 0z" fill="#e0101a"/>
<path d="M158 105l9 1 3 4-16 2-16-2-11-1-7-3 13-2 15-2z" fill="#d03a18"/>
<path d="M512 98l4 2-4 3-10 1-11 1-11 0 0-3 12-2 8-2z" fill="#d84a10"/>
<path d="M283 144l-2 2-7 3-10 2-12 2-6 0 7-3 11-2 11-4z" fill="#c820a0"/>
<path d="M228 138l8 2-9 3-14 2-13 1-15 0 4-4 16-2 12-3z" fill="#e0101a"/>
<path d="M366 109l-3 4-9 3-10 4-15 0-9-1 6-3 10-3 15-3z" fill="#d03a18"/>
<path d="M165 127l13 1-11 5-20 1-18 3-12-2 2-4 18-3 16-2z" fill="#e06018"/>
<path d="M487 118l4 3 3 3-5 2-18 0-10-3-6-2 0-3 15 0z" fill="#cc0a28"/>
<path d="M337 104l20 1-8 4-17 1-15 1-12-2-9-3 12-3 17-1z" fill="#c80848"/>
<path d="M455 106l2 2-8 2-9 4-15 1 0-2-2-2 9-3 14-3z" fill="#d02060"/>
<path d="M461 77l6 2 2 3-15 1-12 0-17 0 2-3 9-2 10-1z" fill="#e0101a"/>
<path d="M416 83l8 0 1 2-5 1-10-1-7-1-2-1-1-1 8-1z" fill="#d0a080"/>
<path d="M109 122l-1 3 5 3-14 3-18-1-5-3-10-3 10-3 17 0z" fill="#d87818"/>
<path d="M649 103l6 2 0 2-8 3-13 0-8-1 3-3-3-3 13-1z" fill="#c80848"/>
<path d="M359 100l4 2 5 3-12 3-17-1-14-2 4-3 0-3 16-1z" fill="#d0102e"/>
<path d="M248 133l5 3-5 1-6 2-12 1-9-3-2-2 4-2 11 0z" fill="#d0102e"/>
<path d="M438 180l12 3 0 3-15 0-11 2-12-2-4-3 5-3 14 0z" fill="#cc0a28"/>
<path d="M552 83l2 2-4 3-7 3-17 1-2-3-7-2 9-3 13-2z" fill="#d84a10"/>
<path d="M147 108l8 1-7 3-11 1-11 0-5-1-8-2 13-2 11 0z" fill="#d0102e"/>
<path d="M446 124l10 2-7 3-12 2-13 1-14 0 3-4 11-2 10-3z" fill="#d84070"/>
<path d="M386 68l6 1-3 1 0 1-9 0-6-2-4-1 2-1 5 0z" fill="#80d040"/>
<path d="M492 126l13 2 5 3-8 2-17-1-13-3-6-2-2-3 12-1z" fill="#d0102e"/>
<path d="M345 131l1 2-5 3-13 4-18 2 4-4-7-2 12-4 16-2z" fill="#e06018"/>
<path d="M378 102l8 2 2 2-6 2-15-1-14-2 3-2-4-2 11-1z" fill="#c80848"/>
<path d="M375 90l10 0-7 3-13 2-9 0-12 1 4-3 8-3 12-1z" fill="#d0b020"/>
<path d="M243 149l3 2 1 3-9 1-12 1-8-2 4-3-2-3 13 0z" fill="#d80818"/>
<path d="M410 65l3 2-8 2-11 3-14 1-10 0 9-4 9-2 13-3z" fill="#e0101a"/>
<path d="M712 109l9 1 4 2-10 1-10 0-10-1-8-2 8-1 7-2z" fill="#d87818"/>
<path d="M671 119l8 0-4 3-7 2-9 0-3-1-7-1 7-3 9-1z" fill="#d06a6a"/>
<path d="M399 112l11 2 1 3-12 2-16 0-6-3-14-3 6-3 17 0z" fill="#cc0a28"/>
<path d="M299 84l2 1 0 2-10 1-9 1-2-1 0-2 6-1 10-2z" fill="#d80818"/>
<path d="M414 63l13 1-1 2-11 1-11-1-16 0-4-2 9-2 9 0z" fill="#d80818"/>
<path d="M344 72l1 1-3 2-10 1-9 1-8 0-2-2 12-2 7-1z" fill="#e06018"/>
<path d="M435 90l11 3-15 3-5 3-19 1-14-3 2-3 6-3 15-1z" fill="#d87818"/>
<path d="M309 83l0 2-9 2-9 3-11 1-9-1 5-2 12-2 10-3z" fill="#d84070"/>
<path d="M415 102l0 2-6 2-4 2-10 0-8-1 3-2 5-2 8-1z" fill="#d80818"/>
<path d="M392 90l10 1-4 2-6 2-15 1-11-2 3-2-1-3 12-1z" fill="#d80818"/>
<path d="M374 87l-1 3 3 3-11 3-19 0-5-3-8-2 9-3 15-2z" fill="#d03a18"/>
<path d="M251 130l6 2 6 4-19 1-13-1-14 0 0-3 6-4 17 0z" fill="#d02060"/>
<path d="M289 144l4 2 4 4-17 1-12 0-11-1-4-3 12-3 12-1z" fill="#d80818"/>
<path d="M567 94l11 2-1 2-9 2-12-1-11-1-12-2 13-1 9-1z" fill="#e0101a"/>
<path d="M669 90l11 2 2 3-10 2-18 1-11-3-3-2 1-3 14-3z" fill="#d87818"/>
<path d="M389 135l11 3 3 2-10 2-14-2-10-1-15-3 12-1 11-1z" fill="#d0102e"/>
<path d="M578 88l2 4 4 2-3 3-19-1-15-2-2-3 2-2 12-1z" fill="#cc0a28"/>
<path d="M152 107l7 1-2 2-10 1-9 0-9-1-6-2 12-1 8-1z" fill="#e0101a"/>
<path d="M541 120l7 3 3 3-12 0-12 2-16-2 0-3 6-2 8-2z" fill="#d80818"/>
<path d="M561 135l-1 3 1 3-10 3-14 1-2-3-6-2 8-3 13-2z" fill="#e0101a"/>
<path d="M279 95l-3 2-4 3-13 3-13 0-9 0 8-3 9-3 16-3z" fill="#e06018"/>
<path d="M264 85l-3 3-6 3-17 2-14 1-15 0 9-3 16-3 13-2z" fill="#d80818"/>
<path d="M469 78l0 3-9 3-10 3-13 1-15 0 7-4 12-2 12-2z" fill="#d84a10"/>
<path d="M498 93l3 3-1 4-18 1-15 2-19 0 5-5 13-2 13-2z" fill="#e06018"/>
<path d="M450 129l6 3-6 2-9 2-13 2-10-2 3-3 3-3 12-1z" fill="#e06018"/>
<path d="M398 137l5 1 0 2-8 2-8-1-10 0-4-2 7-2 9 0z" fill="#d87818"/>
<path d="M363 127l12 2-1 4-20 0-13 2-15-2-2-3 9-3 16-1z" fill="#e0101a"/>
<path d="M576 124l10 1 0 2-7 2-10-1-7-1-12-2 8-2 9 0z" fill="#a8d050"/>
<path d="M380 146l12 1-4 5-23 5-16 0-12-1-1-4 16-5 22-4z" fill="#d80818"/>
<path d="M106 118l5 1-13 4-15 2-14 2-11-1 11-3 11-3 13-1z" fill="#d80818"/>
<path d="M419 171l1 3 0 2-9 1-8 1-9-1 0-2 8-2 7-1z" fill="#d84a10"/>
<path d="M482 92l1 0 0 2-6 1-4-1-6 1 0-1 4-2 6 0z" fill="#c820a0"/>
<path d="M361 67l5 1-3 2-5 2-13 0-2-2-7-1 5-2 11-1z" fill="#d02060"/>
<path d="M615 102l-1 2-2 2-5 2-11 1-4-2-1-1 5-2 8-1z" fill="#d87818"/>
<path d="M694 98l9 2-11 3-6 3-16 2-7-2 1-3 6-3 12-3z" fill="#d84a10"/>
<path d="M419 141l5 2 1 3-12 2-16 2-7-4 0-2 3-3 14-3z" fill="#d84a10"/>
<path d="M393 96l4 1-1 2-13 2-11 1-3-1-1-2 4-3 14-1z" fill="#c8c830"/>
<path d="M569 97l4 2-11 4-10 3-17 2-9-1 12-4 4-3 15-3z" fill="#d80818"/>
<path d="M193 110l-3 2 0 4-21 3-12 0-8-1-1-2 17-4 16-2z" fill="#d03a18"/>
<path d="M299 112l-2 2-4 3-10 3-13 0-8-1 4-3 9-2 13-3z" fill="#d03a18"/>
<path d="M612 102l11 1-10 3-8 2-9 0-9 0 1-2 6-3 10 0z" fill="#d80818"/>
<path d="M316 79l12 2-4 3-14 2-14-1-19 0-2-3 15-2 12-2z" fill="#e0101a"/>
<path d="M423 179l12 3-17 4-7 4-19 2-13-3 4-4 8-4 15-2z" fill="#d84a10"/>
<path d="M655 120l12 3 13 3-13 1-18-2-17-1-10-3 2-2 16 0z" fill="#d84a10"/>
<path d="M456 68l-1 1 3 1-8 1-7 1-5-1 1-1 3-2 8-1z" fill="#c820a0"/>
<path d="M309 101l4 1 1 2-8 0-7 0-9 0 0-2 4-1 8-1z" fill="#cc0a28"/>
<path d="M196 100l12 3-3 2-11-1-11 2-14-3-2-2 7-1 8-1z" fill="#d06a6a"/>
<path d="M505 91l12 2-5 3-7 1-14 0-18-1 5-3 2-2 10-1z" fill="#d80818"/>
<path d="M473 75l7 1 6 2-15 1-10 0-10-1-3-2 4-2 12 0z" fill="#d80818"/>
<path d="M584 91l9 2 4 3-12 1-13 0-11-2-15-2 12-2 13 0z" fill="#e0101a"/>
<path d="M245 128l-3 3-5 2-12 3-15 2 2-3 2-2 7-3 14-1z" fill="#cc0a28"/>
<path d="M578 95l4 3-4 2-7 1-11 1-11-1-3-2 8-2 10-1z" fill="#c8c830"/>
<path d="M258 93l-8 3-4 2-12 2-14 2-8-1 9-3 11-2 12-2z" fill="#d80818"/>
<path d="M371 157l5 2-11 4-14 4-12 0-10 0-4-3 20-4 13-2z" fill="#c83a10"/>
<path d="M508 80l2 1-4 2-8 2-5 0-9 0 2-1 8-2 7-1z" fill="#c820a0"/>
<path d="M657 116l14 2-8 3-6 1-13 1-12-2-9-3 11-1 9-1z" fill="#cc0a28"/>
<path d="M242 135l-3 3-10 3-18 5-18 2 7-4-5-1 18-5 19-3z" fill="#d84070"/>
<path d="M357 67l2 1-3 2-9 2-11 1-2-2 1-1 2-3 12 0z" fill="#a8d050"/>
<path d="M429 147l9 5-14 5-15 3-28 6-9-6 1-5 12-5 21-3z" fill="#d87818"/>
<path d="M707 95l6 2-1 2-7 2-11 0-16 0 5-3 3-2 8-1z" fill="#c8c830"/>
<path d="M493 135l8 4-11 4-13 4-19 1-15-2-6-4 22-3 13-3z" fill="#d80818"/>
<path d="M409 97l5 2-5 1-4 2-10 1-7-2 4-2-1-1 9-1z" fill="#d0102e"/>
<path d="M463 114l16 2 3 3-12 0-13-1-16-1-8-3 8-1 9 0z" fill="#c80848"/>
<path d="M647 98l13 2 7 3-15-1-10 1-16-2-9-2 9-1 7-1z" fill="#d0102e"/>
<path d="M600 87l9 2 10 4-15 1-17-1-12-1-15-3 12-2 13-1z" fill="#d0102e"/>
<path d="M583 90l10 2-9 3-4 2-15 1-9-2-4-3 6-2 11-1z" fill="#d80818"/>
<path d="M447 84l14 2-3 3-8 1-14-1-17-1-9-3 14-1 8-1z" fill="#d84a10"/>
<path d="M594 110l18 1-6 3-10 1-13 0-12-1-10-3 8-2 13 0z" fill="#d06a6a"/>
<path d="M431 118l4 2-3 1 0 3-13-1-8-2-1-1 0-2 9-1z" fill="#e06018"/>
<path d="M403 94l12 2-2 2-14 0-10 2-13-2-3-2 6-2 11-1z" fill="#d0102e"/>
<path d="M370 103l6 3-5 3-12 5-18-2-7-2-9-2 14-4 18-2z" fill="#cc0a28"/>
<path d="M372 60l7 1-4 1-7 1-7 0-10 0 2-1 6-1 6-1z" fill="#cc10c0"/>
<path d="M159 119l5 2-5 2-8 1-10 0-14 0 4-3 8-1 8-2z" fill="#e06018"/>
<path d="M544 118l11 2 2 3-16 2-13-1-18 1 1-4 6-3 15-1z" fill="#e0101a"/>
<path d="M556 127l1 3-5 2-5 2-13 2-4-3-3-2 8-2 9-1z" fill="#d03a18"/>
<path d="M561 90l0 2 2 1-8 2-7-1-5 0-3-1 5-2 9-1z" fill="#d02060"/>
<path d="M470 81l-3 3 7 3-17 3-16 0-8-2 0-2 8-3 16-3z" fill="#d80818"/>
<path d="M228 139l11 1-9 3-13 1-10 2-11-1 2-3 12-2 11-2z" fill="#c8c830"/>
<path d="M223 131l-8 4-9 4-16 3-18 3-6-2 7-3 18-4 17-4z" fill="#d84a10"/>
<path d="M268 96l8 1-3 3-15 3-16 1-2-3-11-2 11-4 17 0z" fill="#d80818"/>
<path d="M637 114l13 2-1 2-10 0-8 1-14-2-6-3 2-1 12 0z" fill="#d80818"/>
<path d="M366 63l6 1 5 2-5 1-14-1-9-1-9-2 2-1 13 0z" fill="#d02060"/>
<path d="M319 111l7 2-5 2-8 2-11 0-15-1 4-3 7-1 8-2z" fill="#d80818"/>
<path d="M426 100l5 2 4 2-13 2-13 0-7-1 0-2-1-3 15-1z" fill="#d090c0"/>
<path d="M465 114l13 3-5 4-13 3-17-2-19 0-9-4 13-3 19 0z" fill="#d80818"/>
<path d="M139 129l5 4-3 3-12 1-13-1-18 0 3-4 11-2 11 0z" fill="#d80818"/>
<path d="M509 165l9 4-4 4-13 3-16 0-17-2-7-4 12-4 17 1z" fill="#d84070"/>
<path d="M377 111l12 2-5 3-14 2-13 0-19 0-1-4 14-2 13-2z" fill="#d84a10"/>
<path d="M327 85l7 2-2 2-9 1-11 0-17-1 1-2 8-2 9-1z" fill="#d80818"/>
<path d="M561 90l9 2 3 2-10 1-12 0-8-2-4-1-3-3 15 1z" fill="#d03a18"/>
<path d="M530 86l14 2-16 4-9 4-19 0-17-1-5-4 17-3 15-2z" fill="#d0102e"/>
<path d="M579 88l5 3-2 2-6 4-19 0-6-3-9-2 9-3 14-2z" fill="#cc0a28"/>
<path d="M523 84l3 1-3 1-3 1-8 1-2-1-2-1 3-2 6-1z" fill="#b060c0"/>
<path d="M638 119l2 5 4 3-8 4-22 0-9-4-11-3 10-3 14-2z" fill="#cc0a28"/>
<path d="M215 116l4 2-10 3-11 1-13 2-4-2 0-2 11-2 10-1z" fill="#cc0a28"/>
<path d="M365 83l7 2 9 2-8 1-15-2-8-1-15-2 4-2 13 1z" fill="#d02060"/>
<path d="M371 73l-2 2 1 3-14 3-16 0-6-1-1-3 12-2 15-4z" fill="#d06a6a"/>
<path d="M519 143l0 6-9 4-11 5-21 1-21-1 7-6 13-4 17-3z" fill="#d03a18"/>
<path d="M483 91l5 2 9 2-6 1-15-1-11-1-6-2 0-2 12 0z" fill="#d87818"/>
<path d="M426 146l4 1-1 2-6 1-9 1-1-2-2-1 2-2 8-1z" fill="#d04010"/>
<path d="M506 124l6 3-8 3-11 3-15 1-18 0 11-5 8-2 13-4z" fill="#cc0a28"/>
<path d="M478 129l7 4-11 4-11 4-23 3-7-5-3-3 11-4 17-3z" fill="#d84070"/>
<path d="M531 124l9 3 11 3-17 2-17 0-12-3-7-3 2-3 16-1z" fill="#e0101a"/>
<path d="M250 138l1 3-9 2-8 4-13 0-12-1 4-4 10-2 11-2z" fill="#cc0a28"/>
<path d="M401 112l7 1-4 2-7 0-8 1-11 0 4-3 4-1 7-1z" fill="#d0102e"/>
<path d="M566 134l10 3-4 2-3 1-13 0-14-2-8-2 12-1 5-2z" fill="#e0101a"/>
<path d="M407 183l8 1 2 3-12 1-10 0-10-1-8-3 12-1 8-2z" fill="#cc0a28"/>
<path d="M422 83l8 2-6 2-7 2-14 1-14-2 7-3 1-2 12-2z" fill="#d03a18"/>
<path d="M437 156l10 2-5 2-10 1-10 1-12-1 2-3 3-2 12 0z" fill="#d03018"/>
<path d="M257 130l13 1-17 4-12 3-17 2-12-2 6-4 11-3 15-2z" fill="#d84070"/>
<path d="M142 114l-3 2-7 2-10 2-14 2 1-1 8-2 6-3 11-1z" fill="#c820a0"/>
<path d="M634 90l6 1 3 1-7 2-11 0-8-1 0-2-3-2 11-1z" fill="#d03a18"/>
<path d="M509 136l8 1-6 4-16 5-17 1-5-2 4-3 8-5 20-4z" fill="#cc0a28"/>
<path d="M494 98l7 1-2 2-6 1-11 1-10-2 2-2 3-1 7-2z" fill="#d84a10"/>
<path d="M358 126l-1 3-5 2-7 4-13-1-7-1 1-3 8-2 13-3z" fill="#e0101a"/>
<path d="M174 107l-10 5-3 3-17 4-18 1-13-1 13-5 11-3 19-3z" fill="#d0102e"/>
<path d="M396 59l0 1-3 2-12 2-10 1 1-2-7 0 13-3 11-1z" fill="#d03a18"/>
<path d="M522 172l9 3-9 2-2 3-15 1-11-3 1-3 1-3 12-1z" fill="#d80818"/>
<path d="M537 168l8 3-5 4-13 3-12 0-12-1-8-3 18-3 11-2z" fill="#d80818"/>
<path d="M338 113l3 1-6 3-12 2-10 1-4-1-1-2 10-2 10-1z" fill="#d80818"/>
<path d="M561 81l5 1-4 2-10 2-6 0-12 1 2-2 9-3 9-1z" fill="#cc0a28"/>
<path d="M338 118l7 3-1 3-14 4-20 0-12-3 2-3 8-3 17-4z" fill="#d03a18"/>
<path d="M372 122l10 2-7 3-8 3-19 1-10-3 5-3-1-3 17-2z" fill="#e0101a"/>
<path d="M440 65l7 1 2 2-9 2-14-1-11 0 0-3 3-2 12-1z" fill="#e0101a"/>
<path d="M623 86l6 2-10 3-12 3-15 2-6-1-3-3 14-3 12-1z" fill="#d84a10"/>
<path d="M660 99l10 3 2 2-10 1-11 0-16-1-5-3 10-1 4-2z" fill="#e06018"/>
<path d="M527 139l3 2 5 2-7 2-11-1-7-1-6-2 2-2 12 0z" fill="#c80848"/>
<path d="M548 127l4 2-5 3-5 4-17 0-3-3-7-2 8-3 13-2z" fill="#d80818"/>
<path d="M576 86l4 1-1 3-13 2-11 1-2-1 0-2 5-3 13-1z" fill="#e0101a"/>
<path d="M423 128l7 2-5 4-12 3-19 1-9-2 7-4 0-4 20-2z" fill="#d0102e"/>
<path d="M296 149l12 2 0 5-26 4-23 2-5-5-5-3 11-6 25-3z" fill="#e0101a"/>
<path d="M506 108l4 2-3 1-1 2-12 0-6-2-6-1 6-2 7-1z" fill="#d03a18"/>
<path d="M620 92l13 1-6 4-13 1-11 1-16 0 2-3 9-3 11-2z" fill="#d84a10"/>
<path d="M244 94l-5 3-3 2-11 2-12 1-7-1 3-2 11-2 10-2z" fill="#d0b020"/>
<path d="M437 108l13 0-5 3-11 1-10 1-9-1-3-2 7-3 12-1z" fill="#e0101a"/>
<path d="M376 95l13 2-9 3-12 2-14 1-9-2-9-3 14-2 12 0z" fill="#d84070"/>
<path d="M329 120l2 4-5 4-12 5-23 0-6-4-1-3 5-5 22-1z" fill="#e0101a"/>
<path d="M445 139l7 3 0 1 0 4-18-2-10-2-6-3 0-2 13 0z" fill="#d0102e"/>
<path d="M323 95l0 2-6 2-8 2-14 2 0-3 0-1 6-3 12-1z" fill="#e06018"/>
<path d="M408 100l3 1-2 1-4 1-8 0-5-1 4-1-1-1 7-1z" fill="#d090c0"/>
<path d="M534 170l-9 7-18 5-22 3-26-1-29-5 9-9 13-6 10-6 23-4 31 0 9 9z" fill="#d04010"/>
<path d="M416 137l-3 3-5 3-13 2-15-1-2-4-5-3 1-3 8-3 13-2 12 2 12 2z" fill="#d86018"/>
<path d="M391 152l-3 4-18 3-30 0-17-3-25-1-13-3 3-4 27-2 25 0 25 0 11 3z" fill="#d06018"/>
<path d="M453 93l0 2-6 2-7 1-8 0-6-2-3-3 7-2 4-2 6-2 9 1 6 2z" fill="#c010c0"/>
<path d="M458 98l-2 2-5 1-6 0-6 0-3-2-5-1 2-2 6 0 6 0 5 0 8 0z" fill="#d0c020"/>
<path d="M504 118l5 4-13 2-16 0-10-2-11-1-12-3 7-3 11-3 15 1 14 0 8 2z" fill="#a860c0"/>
<path d="M532 135l-2 2-4 2-6 1-4-2-5-1-3-2 0-3 7-1 5 0 5 0 4 2z" fill="#50c070"/>
<path d="M492 145l1 2-4 1-7 0-6-1-1-1-6-1 1-2 5-1 7 0 5 1 6 0z" fill="#40c030"/>
<path d="M558 123l-3 2-3 1-5 2-7-1-3-2-2-2 3-2 3-1 6-1 6 0 7 1z" fill="#c010c0"/>
<path d="M556 128l-2 2-4 1-5 0-4-1-3 0-3-2 0-1 4-1 6 0 4 1 4 0z" fill="#50c080"/>
<path d="M602 124l-4 3-9 1-9 2-9-1-7-2-8-3 5-3 9-2 10 1 9-1 12 1z" fill="#d88020"/>
<path d="M618 110l-4 2-8 2-11 2-14-1-6-3 1-2-1-2 5-3 15 0 13 0 8 3z" fill="#a0d040"/>
<path d="M681 108l-4 2-6 1-6 1-9 0-4-2-3-2 4-2 5-1 7-1 7 1 9 0z" fill="#b8c840"/>
<path d="M622 104l-2 1-1 3-7 1-7-1-3-2-1-2 0-2 6-1 5-2 7 1 4 2z" fill="#d88020"/>
<path d="M490 156l-4 2-5 2-14 0-9-1-7-1-7-2-2-3 14 0 11-1 10 1 8 1z" fill="#d090c0"/>
<path d="M518 174l2 2-9 2-11 0-8-1-6-1-11-2 5-2 10-1 10-1 9 1 9 1z" fill="#d07070"/>
<path d="M574 145l1 1-4 2-6-1-4 0-3-1-5-1 3-1 4-1 5-1 4 1 4 1z" fill="#b010c0"/>
<path d="M420 145l-3 2-8 1-12 0-11 0-7-2 1-1-4-2 8-1 13 0 10 1 4 1z" fill="#d03090"/>
<path d="M399 76l-2 1-3 1-4 0-6 0-2-1-2-1 2-1 3-1 5 0 5 0 5 1z" fill="#a0d060"/>
<path d="M425 90l-1 1-5 2-14 1-11-2-10-1-1-1 1-1 9-2 12 0 16 0 3 2z" fill="#d0c040"/>
<path d="M409 86l0 1-4 1-3 0-4 0-4-1-1-1 4-1 1-1 4-1 5 1 3 1z" fill="#d0a0a0"/>
<path d="M348 83l-2 3-10 1-11 0-8-1-10-1-1-2 0-2 8-2 11-1 9 2 4 1z" fill="#d88020"/>
<path d="M284 92l-2 2-10 0-12 0-13 1-12-1-5-2 11-1 10-1 9-1 13 0 12 1z" fill="#d0c020"/>
<path d="M290 92l-2 0-3 1-5 1-4-1-3-1-2 0-1-2 4-1 6 1 5 0 3 1z" fill="#c020c0"/>
<path d="M397 104l-1 1-8 2-13 0-16 0-3-2-1-1 1-1 5-2 14-1 11 2 10 1z" fill="#a0d060"/>
<path d="M244 119l-5 2-13 2-14-1-12 0-14-1-3-2 3-2 13-1 13-1 11 1 10 1z" fill="#d070b0"/>
<path d="M244 131l-6 2-10 1-16 0-17 1-16-2-4-2 11-2 15 0 11-2 18 0 13 2z" fill="#cc1060"/>
<path d="M367 114l2 2-5 2-12 1-12-1-3-2-7-2 4-2 7-1 11-1 12 0 8 2z" fill="#d01080"/>
<path d="M379 132l-4 2-12 0-8 1-9-1-8 0-4-2 2-2 7-1 12 1 8 0 9 1z" fill="#d0a080"/>
<path d="M238 143l4 2-13 2-24 0-18-1-6-2-20-1 5-2 17-2 22 0 18 1 17 1z" fill="#d0a010"/>
<path d="M155 118l1 1-5 1-4 0-3-1-4 0-2-1 2-1 3-1 4 0 4 0 2 1z" fill="#a020d0"/>
<path d="M646 125l0 3-9 1-7 1-11 0-7-2 1-3 6-2 2-2 9-2 10 1 6 2z" fill="#d84a10"/>
<path d="M706 112l-4 2-5 2-7-1-5 0-9-1-2-2 2-2 8-1 6 0 7-1 5 2z" fill="#cc1050"/>
<path d="M585 160l-8 2-5 3-12 1-16 1-5-4 2-3-1-3 7-2 13-2 12 2 10 2z" fill="#cc0a28"/>
<path d="M642 140l-5 3-6 2-11-1-8 0-12-1-4-3 4-3 12 0 8-1 10-1 8 2z" fill="#d02060"/>
</g>
<defs><clipPath id="ipfclip"><path d="M561.5,696.5 L754.4,696.5 Q757.5,606.0 724.7,531.8 Z"/></clipPath><filter id="ipfblur" x="-5%" y="-5%" width="110%" height="110%"><feGaussianBlur stdDeviation="2.2"/></filter></defs>
<g clip-path="url(#ipfclip)"><g filter="url(#ipfblur)">
<rect x="556" y="528" width="5.5" height="5.5" fill="#ff00f1"/>
<rect x="561" y="528" width="5.5" height="5.5" fill="#ff00f5"/>
<rect x="566" y="528" width="5.5" height="5.5" fill="#ff00f9"/>
<rect x="571" y="528" width="5.5" height="5.5" fill="#ff00fd"/>
<rect x="576" y="528" width="5.5" height="5.5" fill="#fc00ff"/>
<rect x="581" y="528" width="5.5" height="5.5" fill="#f700ff"/>
<rect x="586" y="528" width="5.5" height="5.5" fill="#f200ff"/>
<rect x="591" y="528" width="5.5" height="5.5" fill="#ec00ff"/>
<rect x="596" y="528" width="5.5" height="5.5" fill="#e600ff"/>
<rect x="601" y="528" width="5.5" height="5.5" fill="#e000ff"/>
<rect x="606" y="528" width="5.5" height="5.5" fill="#da00ff"/>
<rect x="611" y="528" width="5.5" height="5.5" fill="#d300ff"/>
<rect x="616" y="528" width="5.5" height="5.5" fill="#cc00ff"/>
<rect x="621" y="528" width="5.5" height="5.5" fill="#c500ff"/>
<rect x="626" y="528" width="5.5" height="5.5" fill="#be00ff"/>
<rect x="631" y="528" width="5.5" height="5.5" fill="#b600ff"/>
<rect x="636" y="528" width="5.5" height="5.5" fill="#ae00ff"/>
<rect x="641" y="528" width="5.5" height="5.5" fill="#a500ff"/>
<rect x="646" y="528" width="5.5" height="5.5" fill="#9c00ff"/>
<rect x="651" y="528" width="5.5" height="5.5" fill="#9300ff"/>
<rect x="656" y="528" width="5.5" height="5.5" fill="#8900ff"/>
<rect x="661" y="528" width="5.5" height="5.5" fill="#8000ff"/>
<rect x="666" y="528" width="5.5" height="5.5" fill="#7600ff"/>
<rect x="671" y="528" width="5.5" height="5.5" fill="#6c00ff"/>
<rect x="676" y="528" width="5.5" height="5.5" fill="#6100ff"/>
<rect x="681" y="528" width="5.5" height="5.5" fill="#5700ff"/>
<rect x="686" y="528" width="5.5" height="5.5" fill="#4c00ff"/>
<rect x="691" y="528" width="5.5" height="5.5" fill="#4200ff"/>
<rect x="696" y="528" width="5.5" height="5.5" fill="#3700ff"/>
<rect x="701" y="528" width="5.5" height="5.5" fill="#2c00ff"/>
<rect x="706" y="528" width="5.5" height="5.5" fill="#2200ff"/>
<rect x="711" y="528" width="5.5" height="5.5" fill="#1700ff"/>
<rect x="716" y="528" width="5.5" height="5.5" fill="#0d00ff"/>
<rect x="721" y="528" width="5.5" height="5.5" fill="#0300ff"/>
<rect x="726" y="528" width="5.5" height="5.5" fill="#0009ff"/>
<rect x="731" y="528" width="5.5" height="5.5" fill="#0015ff"/>
<rect x="736" y="528" width="5.5" height="5.5" fill="#0020ff"/>
<rect x="741" y="528" width="5.5" height="5.5" fill="#002cff"/>
<rect x="746" y="528" width="5.5" height="5.5" fill="#0037ff"/>
<rect x="751" y="528" width="5.5" height="5.5" fill="#0041ff"/>
<rect x="756" y="528" width="5.5" height="5.5" fill="#004cff"/>
<rect x="761" y="528" width="5.5" height="5.5" fill="#0055ff"/>
<rect x="556" y="533" width="5.5" height="5.5" fill="#ff00eb"/>
<rect x="561" y="533" width="5.5" height="5.5" fill="#ff00ef"/>
<rect x="566" y="533" width="5.5" height="5.5" fill="#ff00f4"/>
<rect x="571" y="533" width="5.5" height="5.5" fill="#ff00f8"/>
<rect x="576" y="533" width="5.5" height="5.5" fill="#ff00fd"/>
<rect x="581" y="533" width="5.5" height="5.5" fill="#fc00ff"/>
<rect x="586" y="533" width="5.5" height="5.5" fill="#f700ff"/>
<rect x="591" y="533" width="5.5" height="5.5" fill="#f200ff"/>
<rect x="596" y="533" width="5.5" height="5.5" fill="#ec00ff"/>
<rect x="601" y="533" width="5.5" height="5.5" fill="#e600ff"/>
<rect x="606" y="533" width="5.5" height="5.5" fill="#df00ff"/>
<rect x="611" y="533" width="5.5" height="5.5" fill="#d900ff"/>
<rect x="616" y="533" width="5.5" height="5.5" fill="#d200ff"/>
<rect x="621" y="533" width="5.5" height="5.5" fill="#ca00ff"/>
<rect x="626" y="533" width="5.5" height="5.5" fill="#c300ff"/>
<rect x="631" y="533" width="5.5" height="5.5" fill="#ba00ff"/>
<rect x="636" y="533" width="5.5" height="5.5" fill="#b200ff"/>
<rect x="641" y="533" width="5.5" height="5.5" fill="#a900ff"/>
<rect x="646" y="533" width="5.5" height="5.5" fill="#a000ff"/>
<rect x="651" y="533" width="5.5" height="5.5" fill="#9700ff"/>
<rect x="656" y="533" width="5.5" height="5.5" fill="#8d00ff"/>
<rect x="661" y="533" width="5.5" height="5.5" fill="#8300ff"/>
<rect x="666" y="533" width="5.5" height="5.5" fill="#7800ff"/>
<rect x="671" y="533" width="5.5" height="5.5" fill="#6e00ff"/>
<rect x="676" y="533" width="5.5" height="5.5" fill="#6300ff"/>
<rect x="681" y="533" width="5.5" height="5.5" fill="#5800ff"/>
<rect x="686" y="533" width="5.5" height="5.5" fill="#4d00ff"/>
<rect x="691" y="533" width="5.5" height="5.5" fill="#4200ff"/>
<rect x="696" y="533" width="5.5" height="5.5" fill="#3600ff"/>
<rect x="701" y="533" width="5.5" height="5.5" fill="#2b00ff"/>
<rect x="706" y="533" width="5.5" height="5.5" fill="#2000ff"/>
<rect x="711" y="533" width="5.5" height="5.5" fill="#1500ff"/>
<rect x="716" y="533" width="5.5" height="5.5" fill="#0b00ff"/>
<rect x="721" y="533" width="5.5" height="5.5" fill="#0a0afe"/>
<rect x="726" y="533" width="5.5" height="5.5" fill="#000dff"/>
<rect x="731" y="533" width="5.5" height="5.5" fill="#0019ff"/>
<rect x="736" y="533" width="5.5" height="5.5" fill="#0025ff"/>
<rect x="741" y="533" width="5.5" height="5.5" fill="#0031ff"/>
<rect x="746" y="533" width="5.5" height="5.5" fill="#003dff"/>
<rect x="751" y="533" width="5.5" height="5.5" fill="#0047ff"/>
<rect x="756" y="533" width="5.5" height="5.5" fill="#0052ff"/>
<rect x="761" y="533" width="5.5" height="5.5" fill="#005cff"/>
<rect x="556" y="538" width="5.5" height="5.5" fill="#ff00e6"/>
<rect x="561" y="538" width="5.5" height="5.5" fill="#ff00ea"/>
<rect x="566" y="538" width="5.5" height="5.5" fill="#ff00ee"/>
<rect x="571" y="538" width="5.5" height="5.5" fill="#ff00f3"/>
<rect x="576" y="538" width="5.5" height="5.5" fill="#ff00f7"/>
<rect x="581" y="538" width="5.5" height="5.5" fill="#ff00fc"/>
<rect x="586" y="538" width="5.5" height="5.5" fill="#fd00ff"/>
<rect x="591" y="538" width="5.5" height="5.5" fill="#f700ff"/>
<rect x="596" y="538" width="5.5" height="5.5" fill="#f200ff"/>
<rect x="601" y="538" width="5.5" height="5.5" fill="#eb00ff"/>
<rect x="606" y="538" width="5.5" height="5.5" fill="#e500ff"/>
<rect x="611" y="538" width="5.5" height="5.5" fill="#de00ff"/>
<rect x="616" y="538" width="5.5" height="5.5" fill="#d700ff"/>
<rect x="621" y="538" width="5.5" height="5.5" fill="#d000ff"/>
<rect x="626" y="538" width="5.5" height="5.5" fill="#c800ff"/>
<rect x="631" y="538" width="5.5" height="5.5" fill="#c000ff"/>
<rect x="636" y="538" width="5.5" height="5.5" fill="#b700ff"/>
<rect x="641" y="538" width="5.5" height="5.5" fill="#ae00ff"/>
<rect x="646" y="538" width="5.5" height="5.5" fill="#a400ff"/>
<rect x="651" y="538" width="5.5" height="5.5" fill="#9b00ff"/>
<rect x="656" y="538" width="5.5" height="5.5" fill="#9000ff"/>
<rect x="661" y="538" width="5.5" height="5.5" fill="#8600ff"/>
<rect x="666" y="538" width="5.5" height="5.5" fill="#7b00ff"/>
<rect x="671" y="538" width="5.5" height="5.5" fill="#7000ff"/>
<rect x="676" y="538" width="5.5" height="5.5" fill="#6500ff"/>
<rect x="681" y="538" width="5.5" height="5.5" fill="#5900ff"/>
<rect x="686" y="538" width="5.5" height="5.5" fill="#4d00ff"/>
<rect x="691" y="538" width="5.5" height="5.5" fill="#4200ff"/>
<rect x="696" y="538" width="5.5" height="5.5" fill="#3600ff"/>
<rect x="701" y="538" width="5.5" height="5.5" fill="#2a00ff"/>
<rect x="706" y="538" width="5.5" height="5.5" fill="#1f00ff"/>
<rect x="711" y="538" width="5.5" height="5.5" fill="#1300ff"/>
<rect x="716" y="538" width="5.5" height="5.5" fill="#120afe"/>
<rect x="721" y="538" width="5.5" height="5.5" fill="#1417fd"/>
<rect x="726" y="538" width="5.5" height="5.5" fill="#0011ff"/>
<rect x="731" y="538" width="5.5" height="5.5" fill="#001eff"/>
<rect x="736" y="538" width="5.5" height="5.5" fill="#002bff"/>
<rect x="741" y="538" width="5.5" height="5.5" fill="#0037ff"/>
<rect x="746" y="538" width="5.5" height="5.5" fill="#0043ff"/>
<rect x="751" y="538" width="5.5" height="5.5" fill="#004eff"/>
<rect x="756" y="538" width="5.5" height="5.5" fill="#0058ff"/>
<rect x="761" y="538" width="5.5" height="5.5" fill="#0063ff"/>
<rect x="556" y="543" width="5.5" height="5.5" fill="#ff00e1"/>
<rect x="561" y="543" width="5.5" height="5.5" fill="#ff00e4"/>
<rect x="566" y="543" width="5.5" height="5.5" fill="#ff00e9"/>
<rect x="571" y="543" width="5.5" height="5.5" fill="#ff00ed"/>
<rect x="576" y="543" width="5.5" height="5.5" fill="#ff00f1"/>
<rect x="581" y="543" width="5.5" height="5.5" fill="#ff00f6"/>
<rect x="586" y="543" width="5.5" height="5.5" fill="#ff00fb"/>
<rect x="591" y="543" width="5.5" height="5.5" fill="#fd00ff"/>
<rect x="596" y="543" width="5.5" height="5.5" fill="#f800ff"/>
<rect x="601" y="543" width="5.5" height="5.5" fill="#f100ff"/>
<rect x="606" y="543" width="5.5" height="5.5" fill="#eb00ff"/>
<rect x="611" y="543" width="5.5" height="5.5" fill="#e400ff"/>
<rect x="616" y="543" width="5.5" height="5.5" fill="#dd00ff"/>
<rect x="621" y="543" width="5.5" height="5.5" fill="#d500ff"/>
<rect x="626" y="543" width="5.5" height="5.5" fill="#cd00ff"/>
<rect x="631" y="543" width="5.5" height="5.5" fill="#c500ff"/>
<rect x="636" y="543" width="5.5" height="5.5" fill="#bc00ff"/>
<rect x="641" y="543" width="5.5" height="5.5" fill="#b300ff"/>
<rect x="646" y="543" width="5.5" height="5.5" fill="#a900ff"/>
<rect x="651" y="543" width="5.5" height="5.5" fill="#9f00ff"/>
<rect x="656" y="543" width="5.5" height="5.5" fill="#9400ff"/>
<rect x="661" y="543" width="5.5" height="5.5" fill="#8900ff"/>
<rect x="666" y="543" width="5.5" height="5.5" fill="#7e00ff"/>
<rect x="671" y="543" width="5.5" height="5.5" fill="#7200ff"/>
<rect x="676" y="543" width="5.5" height="5.5" fill="#6700ff"/>
<rect x="681" y="543" width="5.5" height="5.5" fill="#5a00ff"/>
<rect x="686" y="543" width="5.5" height="5.5" fill="#4e00ff"/>
<rect x="691" y="543" width="5.5" height="5.5" fill="#4200ff"/>
<rect x="696" y="543" width="5.5" height="5.5" fill="#3500ff"/>
<rect x="701" y="543" width="5.5" height="5.5" fill="#2900ff"/>
<rect x="706" y="543" width="5.5" height="5.5" fill="#1d00ff"/>
<rect x="711" y="543" width="5.5" height="5.5" fill="#1a0afe"/>
<rect x="716" y="543" width="5.5" height="5.5" fill="#221efc"/>
<rect x="721" y="543" width="5.5" height="5.5" fill="#1c23fc"/>
<rect x="726" y="543" width="5.5" height="5.5" fill="#081dfe"/>
<rect x="731" y="543" width="5.5" height="5.5" fill="#0024ff"/>
<rect x="736" y="543" width="5.5" height="5.5" fill="#0031ff"/>
<rect x="741" y="543" width="5.5" height="5.5" fill="#003dff"/>
<rect x="746" y="543" width="5.5" height="5.5" fill="#0049ff"/>
<rect x="751" y="543" width="5.5" height="5.5" fill="#0055ff"/>
<rect x="756" y="543" width="5.5" height="5.5" fill="#0060ff"/>
<rect x="761" y="543" width="5.5" height="5.5" fill="#006aff"/>
<rect x="556" y="548" width="5.5" height="5.5" fill="#ff00db"/>
<rect x="561" y="548" width="5.5" height="5.5" fill="#ff00df"/>
<rect x="566" y="548" width="5.5" height="5.5" fill="#ff00e3"/>
<rect x="571" y="548" width="5.5" height="5.5" fill="#ff00e7"/>
<rect x="576" y="548" width="5.5" height="5.5" fill="#ff00eb"/>
<rect x="581" y="548" width="5.5" height="5.5" fill="#ff00f0"/>
<rect x="586" y="548" width="5.5" height="5.5" fill="#ff00f5"/>
<rect x="591" y="548" width="5.5" height="5.5" fill="#ff00fa"/>
<rect x="596" y="548" width="5.5" height="5.5" fill="#fe00ff"/>
<rect x="601" y="548" width="5.5" height="5.5" fill="#f800ff"/>
<rect x="606" y="548" width="5.5" height="5.5" fill="#f100ff"/>
<rect x="611" y="548" width="5.5" height="5.5" fill="#eb00ff"/>
<rect x="616" y="548" width="5.5" height="5.5" fill="#e300ff"/>
<rect x="621" y="548" width="5.5" height="5.5" fill="#dc00ff"/>
<rect x="626" y="548" width="5.5" height="5.5" fill="#d400ff"/>
<rect x="631" y="548" width="5.5" height="5.5" fill="#cb00ff"/>
<rect x="636" y="548" width="5.5" height="5.5" fill="#c200ff"/>
<rect x="641" y="548" width="5.5" height="5.5" fill="#b800ff"/>
<rect x="646" y="548" width="5.5" height="5.5" fill="#ae00ff"/>
<rect x="651" y="548" width="5.5" height="5.5" fill="#a400ff"/>
<rect x="656" y="548" width="5.5" height="5.5" fill="#9900ff"/>
<rect x="661" y="548" width="5.5" height="5.5" fill="#8d00ff"/>
<rect x="666" y="548" width="5.5" height="5.5" fill="#8200ff"/>
<rect x="671" y="548" width="5.5" height="5.5" fill="#7500ff"/>
<rect x="676" y="548" width="5.5" height="5.5" fill="#6900ff"/>
<rect x="681" y="548" width="5.5" height="5.5" fill="#5c00ff"/>
<rect x="686" y="548" width="5.5" height="5.5" fill="#4f00ff"/>
<rect x="691" y="548" width="5.5" height="5.5" fill="#4200ff"/>
<rect x="696" y="548" width="5.5" height="5.5" fill="#3500ff"/>
<rect x="701" y="548" width="5.5" height="5.5" fill="#2800ff"/>
<rect x="706" y="548" width="5.5" height="5.5" fill="#230afe"/>
<rect x="711" y="548" width="5.5" height="5.5" fill="#2a1efc"/>
<rect x="716" y="548" width="5.5" height="5.5" fill="#3331fa"/>
<rect x="721" y="548" width="5.5" height="5.5" fill="#242ffb"/>
<rect x="726" y="548" width="5.5" height="5.5" fill="#102afd"/>
<rect x="731" y="548" width="5.5" height="5.5" fill="#002aff"/>
<rect x="736" y="548" width="5.5" height="5.5" fill="#0037ff"/>
<rect x="741" y="548" width="5.5" height="5.5" fill="#0044ff"/>
<rect x="746" y="548" width="5.5" height="5.5" fill="#0051ff"/>
<rect x="751" y="548" width="5.5" height="5.5" fill="#005cff"/>
<rect x="756" y="548" width="5.5" height="5.5" fill="#0067ff"/>
<rect x="761" y="548" width="5.5" height="5.5" fill="#0072ff"/>
<rect x="556" y="553" width="5.5" height="5.5" fill="#ff00d5"/>
<rect x="561" y="553" width="5.5" height="5.5" fill="#ff00d9"/>
<rect x="566" y="553" width="5.5" height="5.5" fill="#ff00dd"/>
<rect x="571" y="553" width="5.5" height="5.5" fill="#ff00e1"/>
<rect x="576" y="553" width="5.5" height="5.5" fill="#ff00e5"/>
<rect x="581" y="553" width="5.5" height="5.5" fill="#ff00ea"/>
<rect x="586" y="553" width="5.5" height="5.5" fill="#ff00ef"/>
<rect x="591" y="553" width="5.5" height="5.5" fill="#ff00f4"/>
<rect x="596" y="553" width="5.5" height="5.5" fill="#ff00f9"/>
<rect x="601" y="553" width="5.5" height="5.5" fill="#ff00ff"/>
<rect x="606" y="553" width="5.5" height="5.5" fill="#f800ff"/>
<rect x="611" y="553" width="5.5" height="5.5" fill="#f100ff"/>
<rect x="616" y="553" width="5.5" height="5.5" fill="#ea00ff"/>
<rect x="621" y="553" width="5.5" height="5.5" fill="#e200ff"/>
<rect x="626" y="553" width="5.5" height="5.5" fill="#da00ff"/>
<rect x="631" y="553" width="5.5" height="5.5" fill="#d100ff"/>
<rect x="636" y="553" width="5.5" height="5.5" fill="#c800ff"/>
<rect x="641" y="553" width="5.5" height="5.5" fill="#be00ff"/>
<rect x="646" y="553" width="5.5" height="5.5" fill="#b400ff"/>
<rect x="651" y="553" width="5.5" height="5.5" fill="#a900ff"/>
<rect x="656" y="553" width="5.5" height="5.5" fill="#9e00ff"/>
<rect x="661" y="553" width="5.5" height="5.5" fill="#9200ff"/>
<rect x="666" y="553" width="5.5" height="5.5" fill="#8500ff"/>
<rect x="671" y="553" width="5.5" height="5.5" fill="#7800ff"/>
<rect x="676" y="553" width="5.5" height="5.5" fill="#6b00ff"/>
<rect x="681" y="553" width="5.5" height="5.5" fill="#5e00ff"/>
<rect x="686" y="553" width="5.5" height="5.5" fill="#5000ff"/>
<rect x="691" y="553" width="5.5" height="5.5" fill="#4200ff"/>
<rect x="696" y="553" width="5.5" height="5.5" fill="#3400ff"/>
<rect x="701" y="553" width="5.5" height="5.5" fill="#2e09fe"/>
<rect x="706" y="553" width="5.5" height="5.5" fill="#331efc"/>
<rect x="711" y="553" width="5.5" height="5.5" fill="#3a31fa"/>
<rect x="716" y="553" width="5.5" height="5.5" fill="#3f41f9"/>
<rect x="721" y="553" width="5.5" height="5.5" fill="#2c3bfb"/>
<rect x="726" y="553" width="5.5" height="5.5" fill="#1836fd"/>
<rect x="731" y="553" width="5.5" height="5.5" fill="#0333ff"/>
<rect x="736" y="553" width="5.5" height="5.5" fill="#003fff"/>
<rect x="741" y="553" width="5.5" height="5.5" fill="#004cff"/>
<rect x="746" y="553" width="5.5" height="5.5" fill="#0059ff"/>
<rect x="751" y="553" width="5.5" height="5.5" fill="#0064ff"/>
<rect x="756" y="553" width="5.5" height="5.5" fill="#0070ff"/>
<rect x="761" y="553" width="5.5" height="5.5" fill="#007aff"/>
<rect x="556" y="558" width="5.5" height="5.5" fill="#ff00cf"/>
<rect x="561" y="558" width="5.5" height="5.5" fill="#ff00d3"/>
<rect x="566" y="558" width="5.5" height="5.5" fill="#ff00d6"/>
<rect x="571" y="558" width="5.5" height="5.5" fill="#ff00da"/>
<rect x="576" y="558" width="5.5" height="5.5" fill="#ff00df"/>
<rect x="581" y="558" width="5.5" height="5.5" fill="#ff00e3"/>
<rect x="586" y="558" width="5.5" height="5.5" fill="#ff00e8"/>
<rect x="591" y="558" width="5.5" height="5.5" fill="#ff00ed"/>
<rect x="596" y="558" width="5.5" height="5.5" fill="#ff00f3"/>
<rect x="601" y="558" width="5.5" height="5.5" fill="#ff00f8"/>
<rect x="606" y="558" width="5.5" height="5.5" fill="#ff00ff"/>
<rect x="611" y="558" width="5.5" height="5.5" fill="#f900ff"/>
<rect x="616" y="558" width="5.5" height="5.5" fill="#f100ff"/>
<rect x="621" y="558" width="5.5" height="5.5" fill="#e900ff"/>
<rect x="626" y="558" width="5.5" height="5.5" fill="#e100ff"/>
<rect x="631" y="558" width="5.5" height="5.5" fill="#d800ff"/>
<rect x="636" y="558" width="5.5" height="5.5" fill="#cf00ff"/>
<rect x="641" y="558" width="5.5" height="5.5" fill="#c500ff"/>
<rect x="646" y="558" width="5.5" height="5.5" fill="#ba00ff"/>
<rect x="651" y="558" width="5.5" height="5.5" fill="#af00ff"/>
<rect x="656" y="558" width="5.5" height="5.5" fill="#a300ff"/>
<rect x="661" y="558" width="5.5" height="5.5" fill="#9700ff"/>
<rect x="666" y="558" width="5.5" height="5.5" fill="#8900ff"/>
<rect x="671" y="558" width="5.5" height="5.5" fill="#7c00ff"/>
<rect x="676" y="558" width="5.5" height="5.5" fill="#6e00ff"/>
<rect x="681" y="558" width="5.5" height="5.5" fill="#5f00ff"/>
<rect x="686" y="558" width="5.5" height="5.5" fill="#5100ff"/>
<rect x="691" y="558" width="5.5" height="5.5" fill="#4200ff"/>
<rect x="696" y="558" width="5.5" height="5.5" fill="#3a09fe"/>
<rect x="701" y="558" width="5.5" height="5.5" fill="#3d1dfc"/>
<rect x="706" y="558" width="5.5" height="5.5" fill="#4231fa"/>
<rect x="711" y="558" width="5.5" height="5.5" fill="#4a44f8"/>
<rect x="716" y="558" width="5.5" height="5.5" fill="#474cf8"/>
<rect x="721" y="558" width="5.5" height="5.5" fill="#3447fa"/>
<rect x="726" y="558" width="5.5" height="5.5" fill="#2043fc"/>
<rect x="731" y="558" width="5.5" height="5.5" fill="#0a40fe"/>
<rect x="736" y="558" width="5.5" height="5.5" fill="#0046ff"/>
<rect x="741" y="558" width="5.5" height="5.5" fill="#0054ff"/>
<rect x="746" y="558" width="5.5" height="5.5" fill="#0061ff"/>
<rect x="751" y="558" width="5.5" height="5.5" fill="#006dff"/>
<rect x="756" y="558" width="5.5" height="5.5" fill="#0079ff"/>
<rect x="761" y="558" width="5.5" height="5.5" fill="#0083ff"/>
<rect x="556" y="563" width="5.5" height="5.5" fill="#ff00c9"/>
<rect x="561" y="563" width="5.5" height="5.5" fill="#ff00cc"/>
<rect x="566" y="563" width="5.5" height="5.5" fill="#ff00d0"/>
<rect x="571" y="563" width="5.5" height="5.5" fill="#ff00d4"/>
<rect x="576" y="563" width="5.5" height="5.5" fill="#ff00d8"/>
<rect x="581" y="563" width="5.5" height="5.5" fill="#ff00dc"/>
<rect x="586" y="563" width="5.5" height="5.5" fill="#ff00e1"/>
<rect x="591" y="563" width="5.5" height="5.5" fill="#ff00e6"/>
<rect x="596" y="563" width="5.5" height="5.5" fill="#ff00eb"/>
<rect x="601" y="563" width="5.5" height="5.5" fill="#ff00f1"/>
<rect x="606" y="563" width="5.5" height="5.5" fill="#ff00f7"/>
<rect x="611" y="563" width="5.5" height="5.5" fill="#ff00fe"/>
<rect x="616" y="563" width="5.5" height="5.5" fill="#f900ff"/>
<rect x="621" y="563" width="5.5" height="5.5" fill="#f100ff"/>
<rect x="626" y="563" width="5.5" height="5.5" fill="#e900ff"/>
<rect x="631" y="563" width="5.5" height="5.5" fill="#e000ff"/>
<rect x="636" y="563" width="5.5" height="5.5" fill="#d600ff"/>
<rect x="641" y="563" width="5.5" height="5.5" fill="#cc00ff"/>
<rect x="646" y="563" width="5.5" height="5.5" fill="#c100ff"/>
<rect x="651" y="563" width="5.5" height="5.5" fill="#b500ff"/>
<rect x="656" y="563" width="5.5" height="5.5" fill="#a900ff"/>
<rect x="661" y="563" width="5.5" height="5.5" fill="#9c00ff"/>
<rect x="666" y="563" width="5.5" height="5.5" fill="#8e00ff"/>
<rect x="671" y="563" width="5.5" height="5.5" fill="#8000ff"/>
<rect x="676" y="563" width="5.5" height="5.5" fill="#7100ff"/>
<rect x="681" y="563" width="5.5" height="5.5" fill="#6200ff"/>
<rect x="686" y="563" width="5.5" height="5.5" fill="#5200ff"/>
<rect x="691" y="563" width="5.5" height="5.5" fill="#4909fe"/>
<rect x="696" y="563" width="5.5" height="5.5" fill="#491dfc"/>
<rect x="701" y="563" width="5.5" height="5.5" fill="#4c31fa"/>
<rect x="706" y="563" width="5.5" height="5.5" fill="#5144f8"/>
<rect x="711" y="563" width="5.5" height="5.5" fill="#5956f6"/>
<rect x="716" y="563" width="5.5" height="5.5" fill="#4e57f7"/>
<rect x="721" y="563" width="5.5" height="5.5" fill="#3b53f9"/>
<rect x="726" y="563" width="5.5" height="5.5" fill="#274ffb"/>
<rect x="731" y="563" width="5.5" height="5.5" fill="#124dfd"/>
<rect x="736" y="563" width="5.5" height="5.5" fill="#004fff"/>
<rect x="741" y="563" width="5.5" height="5.5" fill="#005dff"/>
<rect x="746" y="563" width="5.5" height="5.5" fill="#006aff"/>
<rect x="751" y="563" width="5.5" height="5.5" fill="#0077ff"/>
<rect x="756" y="563" width="5.5" height="5.5" fill="#0082ff"/>
<rect x="761" y="563" width="5.5" height="5.5" fill="#008dff"/>
<rect x="556" y="568" width="5.5" height="5.5" fill="#ff00c2"/>
<rect x="561" y="568" width="5.5" height="5.5" fill="#ff00c5"/>
<rect x="566" y="568" width="5.5" height="5.5" fill="#ff00c9"/>
<rect x="571" y="568" width="5.5" height="5.5" fill="#ff00cd"/>
<rect x="576" y="568" width="5.5" height="5.5" fill="#ff00d1"/>
<rect x="581" y="568" width="5.5" height="5.5" fill="#ff00d5"/>
<rect x="586" y="568" width="5.5" height="5.5" fill="#ff00da"/>
<rect x="591" y="568" width="5.5" height="5.5" fill="#ff00df"/>
<rect x="596" y="568" width="5.5" height="5.5" fill="#ff00e4"/>
<rect x="601" y="568" width="5.5" height="5.5" fill="#ff00e9"/>
<rect x="606" y="568" width="5.5" height="5.5" fill="#ff00ef"/>
<rect x="611" y="568" width="5.5" height="5.5" fill="#ff00f6"/>
<rect x="616" y="568" width="5.5" height="5.5" fill="#ff00fd"/>
<rect x="621" y="568" width="5.5" height="5.5" fill="#f900ff"/>
<rect x="626" y="568" width="5.5" height="5.5" fill="#f100ff"/>
<rect x="631" y="568" width="5.5" height="5.5" fill="#e800ff"/>
<rect x="636" y="568" width="5.5" height="5.5" fill="#de00ff"/>
<rect x="641" y="568" width="5.5" height="5.5" fill="#d400ff"/>
<rect x="646" y="568" width="5.5" height="5.5" fill="#c900ff"/>
<rect x="651" y="568" width="5.5" height="5.5" fill="#bd00ff"/>
<rect x="656" y="568" width="5.5" height="5.5" fill="#b000ff"/>
<rect x="661" y="568" width="5.5" height="5.5" fill="#a200ff"/>
<rect x="666" y="568" width="5.5" height="5.5" fill="#9400ff"/>
<rect x="671" y="568" width="5.5" height="5.5" fill="#8400ff"/>
<rect x="676" y="568" width="5.5" height="5.5" fill="#7400ff"/>
<rect x="681" y="568" width="5.5" height="5.5" fill="#6400ff"/>
<rect x="686" y="568" width="5.5" height="5.5" fill="#5909fe"/>
<rect x="691" y="568" width="5.5" height="5.5" fill="#571dfc"/>
<rect x="696" y="568" width="5.5" height="5.5" fill="#5731fa"/>
<rect x="701" y="568" width="5.5" height="5.5" fill="#5a44f8"/>
<rect x="706" y="568" width="5.5" height="5.5" fill="#6056f6"/>
<rect x="711" y="568" width="5.5" height="5.5" fill="#6767f4"/>
<rect x="716" y="568" width="5.5" height="5.5" fill="#5662f6"/>
<rect x="721" y="568" width="5.5" height="5.5" fill="#435ef8"/>
<rect x="726" y="568" width="5.5" height="5.5" fill="#2f5cfa"/>
<rect x="731" y="568" width="5.5" height="5.5" fill="#195afc"/>
<rect x="736" y="568" width="5.5" height="5.5" fill="#025aff"/>
<rect x="741" y="568" width="5.5" height="5.5" fill="#0067ff"/>
<rect x="746" y="568" width="5.5" height="5.5" fill="#0075ff"/>
<rect x="751" y="568" width="5.5" height="5.5" fill="#0081ff"/>
<rect x="756" y="568" width="5.5" height="5.5" fill="#008dff"/>
<rect x="761" y="568" width="5.5" height="5.5" fill="#0098ff"/>
<rect x="556" y="573" width="5.5" height="5.5" fill="#ff00bc"/>
<rect x="561" y="573" width="5.5" height="5.5" fill="#ff00bf"/>
<rect x="566" y="573" width="5.5" height="5.5" fill="#ff00c2"/>
<rect x="571" y="573" width="5.5" height="5.5" fill="#ff00c6"/>
<rect x="576" y="573" width="5.5" height="5.5" fill="#ff00c9"/>
<rect x="581" y="573" width="5.5" height="5.5" fill="#ff00ce"/>
<rect x="586" y="573" width="5.5" height="5.5" fill="#ff00d2"/>
<rect x="591" y="573" width="5.5" height="5.5" fill="#ff00d7"/>
<rect x="596" y="573" width="5.5" height="5.5" fill="#ff00dc"/>
<rect x="601" y="573" width="5.5" height="5.5" fill="#ff00e1"/>
<rect x="606" y="573" width="5.5" height="5.5" fill="#ff00e7"/>
<rect x="611" y="573" width="5.5" height="5.5" fill="#ff00ee"/>
<rect x="616" y="573" width="5.5" height="5.5" fill="#ff00f4"/>
<rect x="621" y="573" width="5.5" height="5.5" fill="#ff00fc"/>
<rect x="626" y="573" width="5.5" height="5.5" fill="#fa00ff"/>
<rect x="631" y="573" width="5.5" height="5.5" fill="#f100ff"/>
<rect x="636" y="573" width="5.5" height="5.5" fill="#e700ff"/>
<rect x="641" y="573" width="5.5" height="5.5" fill="#dd00ff"/>
<rect x="646" y="573" width="5.5" height="5.5" fill="#d100ff"/>
<rect x="651" y="573" width="5.5" height="5.5" fill="#c500ff"/>
<rect x="656" y="573" width="5.5" height="5.5" fill="#b700ff"/>
<rect x="661" y="573" width="5.5" height="5.5" fill="#a900ff"/>
<rect x="666" y="573" width="5.5" height="5.5" fill="#9a00ff"/>
<rect x="671" y="573" width="5.5" height="5.5" fill="#8900ff"/>
<rect x="676" y="573" width="5.5" height="5.5" fill="#7800ff"/>
<rect x="681" y="573" width="5.5" height="5.5" fill="#6c09fe"/>
<rect x="686" y="573" width="5.5" height="5.5" fill="#671dfc"/>
<rect x="691" y="573" width="5.5" height="5.5" fill="#6531fa"/>
<rect x="696" y="573" width="5.5" height="5.5" fill="#6544f8"/>
<rect x="701" y="573" width="5.5" height="5.5" fill="#6856f6"/>
<rect x="706" y="573" width="5.5" height="5.5" fill="#6e68f4"/>
<rect x="711" y="573" width="5.5" height="5.5" fill="#6e72f3"/>
<rect x="716" y="573" width="5.5" height="5.5" fill="#5d6df5"/>
<rect x="721" y="573" width="5.5" height="5.5" fill="#4a6af7"/>
<rect x="726" y="573" width="5.5" height="5.5" fill="#3668fa"/>
<rect x="731" y="573" width="5.5" height="5.5" fill="#2068fc"/>
<rect x="736" y="573" width="5.5" height="5.5" fill="#0969fe"/>
<rect x="741" y="573" width="5.5" height="5.5" fill="#0072ff"/>
<rect x="746" y="573" width="5.5" height="5.5" fill="#0080ff"/>
<rect x="751" y="573" width="5.5" height="5.5" fill="#008dff"/>
<rect x="756" y="573" width="5.5" height="5.5" fill="#0098ff"/>
<rect x="761" y="573" width="5.5" height="5.5" fill="#00a3ff"/>
<rect x="556" y="578" width="5.5" height="5.5" fill="#ff00b5"/>
<rect x="561" y="578" width="5.5" height="5.5" fill="#ff00b8"/>
<rect x="566" y="578" width="5.5" height="5.5" fill="#ff00bb"/>
<rect x="571" y="578" width="5.5" height="5.5" fill="#ff00be"/>
<rect x="576" y="578" width="5.5" height="5.5" fill="#ff00c2"/>
<rect x="581" y="578" width="5.5" height="5.5" fill="#ff00c6"/>
<rect x="586" y="578" width="5.5" height="5.5" fill="#ff00ca"/>
<rect x="591" y="578" width="5.5" height="5.5" fill="#ff00cf"/>
<rect x="596" y="578" width="5.5" height="5.5" fill="#ff00d3"/>
<rect x="601" y="578" width="5.5" height="5.5" fill="#ff00d9"/>
<rect x="606" y="578" width="5.5" height="5.5" fill="#ff00de"/>
<rect x="611" y="578" width="5.5" height="5.5" fill="#ff00e5"/>
<rect x="616" y="578" width="5.5" height="5.5" fill="#ff00eb"/>
<rect x="621" y="578" width="5.5" height="5.5" fill="#ff00f3"/>
<rect x="626" y="578" width="5.5" height="5.5" fill="#ff00fb"/>
<rect x="631" y="578" width="5.5" height="5.5" fill="#fa00ff"/>
<rect x="636" y="578" width="5.5" height="5.5" fill="#f100ff"/>
<rect x="641" y="578" width="5.5" height="5.5" fill="#e600ff"/>
<rect x="646" y="578" width="5.5" height="5.5" fill="#da00ff"/>
<rect x="651" y="578" width="5.5" height="5.5" fill="#ce00ff"/>
<rect x="656" y="578" width="5.5" height="5.5" fill="#c000ff"/>
<rect x="661" y="578" width="5.5" height="5.5" fill="#b100ff"/>
<rect x="666" y="578" width="5.5" height="5.5" fill="#a100ff"/>
<rect x="671" y="578" width="5.5" height="5.5" fill="#8f00ff"/>
<rect x="676" y="578" width="5.5" height="5.5" fill="#8109fe"/>
<rect x="681" y="578" width="5.5" height="5.5" fill="#7a1dfc"/>
<rect x="686" y="578" width="5.5" height="5.5" fill="#7530fa"/>
<rect x="691" y="578" width="5.5" height="5.5" fill="#7243f8"/>
<rect x="696" y="578" width="5.5" height="5.5" fill="#7356f6"/>
<rect x="701" y="578" width="5.5" height="5.5" fill="#7667f4"/>
<rect x="706" y="578" width="5.5" height="5.5" fill="#7c78f2"/>
<rect x="711" y="578" width="5.5" height="5.5" fill="#757cf3"/>
<rect x="716" y="578" width="5.5" height="5.5" fill="#6478f5"/>
<rect x="721" y="578" width="5.5" height="5.5" fill="#5176f7"/>
<rect x="726" y="578" width="5.5" height="5.5" fill="#3c75f9"/>
<rect x="731" y="578" width="5.5" height="5.5" fill="#2776fb"/>
<rect x="736" y="578" width="5.5" height="5.5" fill="#1077fd"/>
<rect x="741" y="578" width="5.5" height="5.5" fill="#007eff"/>
<rect x="746" y="578" width="5.5" height="5.5" fill="#008cff"/>
<rect x="751" y="578" width="5.5" height="5.5" fill="#0099ff"/>
<rect x="756" y="578" width="5.5" height="5.5" fill="#00a4ff"/>
<rect x="761" y="578" width="5.5" height="5.5" fill="#00afff"/>
<rect x="556" y="583" width="5.5" height="5.5" fill="#ff00ae"/>
<rect x="561" y="583" width="5.5" height="5.5" fill="#ff00b0"/>
<rect x="566" y="583" width="5.5" height="5.5" fill="#ff00b3"/>
<rect x="571" y="583" width="5.5" height="5.5" fill="#ff00b7"/>
<rect x="576" y="583" width="5.5" height="5.5" fill="#ff00ba"/>
<rect x="581" y="583" width="5.5" height="5.5" fill="#ff00be"/>
<rect x="586" y="583" width="5.5" height="5.5" fill="#ff00c2"/>
<rect x="591" y="583" width="5.5" height="5.5" fill="#ff00c6"/>
<rect x="596" y="583" width="5.5" height="5.5" fill="#ff00cb"/>
<rect x="601" y="583" width="5.5" height="5.5" fill="#ff00d0"/>
<rect x="606" y="583" width="5.5" height="5.5" fill="#ff00d5"/>
<rect x="611" y="583" width="5.5" height="5.5" fill="#ff00db"/>
<rect x="616" y="583" width="5.5" height="5.5" fill="#ff00e2"/>
<rect x="621" y="583" width="5.5" height="5.5" fill="#ff00e9"/>
<rect x="626" y="583" width="5.5" height="5.5" fill="#ff00f1"/>
<rect x="631" y="583" width="5.5" height="5.5" fill="#ff00f9"/>
<rect x="636" y="583" width="5.5" height="5.5" fill="#fb00ff"/>
<rect x="641" y="583" width="5.5" height="5.5" fill="#f100ff"/>
<rect x="646" y="583" width="5.5" height="5.5" fill="#e500ff"/>
<rect x="651" y="583" width="5.5" height="5.5" fill="#d800ff"/>
<rect x="656" y="583" width="5.5" height="5.5" fill="#c900ff"/>
<rect x="661" y="583" width="5.5" height="5.5" fill="#ba00ff"/>
<rect x="666" y="583" width="5.5" height="5.5" fill="#a900ff"/>
<rect x="671" y="583" width="5.5" height="5.5" fill="#9908fe"/>
<rect x="676" y="583" width="5.5" height="5.5" fill="#8f1dfc"/>
<rect x="681" y="583" width="5.5" height="5.5" fill="#8730fa"/>
<rect x="686" y="583" width="5.5" height="5.5" fill="#8243f8"/>
<rect x="691" y="583" width="5.5" height="5.5" fill="#8056f6"/>
<rect x="696" y="583" width="5.5" height="5.5" fill="#8067f4"/>
<rect x="701" y="583" width="5.5" height="5.5" fill="#8378f2"/>
<rect x="706" y="583" width="5.5" height="5.5" fill="#8a89f1"/>
<rect x="711" y="583" width="5.5" height="5.5" fill="#7c86f2"/>
<rect x="716" y="583" width="5.5" height="5.5" fill="#6a83f4"/>
<rect x="721" y="583" width="5.5" height="5.5" fill="#5782f6"/>
<rect x="726" y="583" width="5.5" height="5.5" fill="#4382f8"/>
<rect x="731" y="583" width="5.5" height="5.5" fill="#2d84fa"/>
<rect x="736" y="583" width="5.5" height="5.5" fill="#1687fd"/>
<rect x="741" y="583" width="5.5" height="5.5" fill="#008cff"/>
<rect x="746" y="583" width="5.5" height="5.5" fill="#009aff"/>
<rect x="751" y="583" width="5.5" height="5.5" fill="#00a6ff"/>
<rect x="756" y="583" width="5.5" height="5.5" fill="#00b2ff"/>
<rect x="761" y="583" width="5.5" height="5.5" fill="#00bcff"/>
<rect x="556" y="588" width="5.5" height="5.5" fill="#ff00a6"/>
<rect x="561" y="588" width="5.5" height="5.5" fill="#ff00a9"/>
<rect x="566" y="588" width="5.5" height="5.5" fill="#ff00ac"/>
<rect x="571" y="588" width="5.5" height="5.5" fill="#ff00af"/>
<rect x="576" y="588" width="5.5" height="5.5" fill="#ff00b2"/>
<rect x="581" y="588" width="5.5" height="5.5" fill="#ff00b5"/>
<rect x="586" y="588" width="5.5" height="5.5" fill="#ff00b9"/>
<rect x="591" y="588" width="5.5" height="5.5" fill="#ff00bd"/>
<rect x="596" y="588" width="5.5" height="5.5" fill="#ff00c1"/>
<rect x="601" y="588" width="5.5" height="5.5" fill="#ff00c6"/>
<rect x="606" y="588" width="5.5" height="5.5" fill="#ff00cb"/>
<rect x="611" y="588" width="5.5" height="5.5" fill="#ff00d1"/>
<rect x="616" y="588" width="5.5" height="5.5" fill="#ff00d7"/>
<rect x="621" y="588" width="5.5" height="5.5" fill="#ff00de"/>
<rect x="626" y="588" width="5.5" height="5.5" fill="#ff00e6"/>
<rect x="631" y="588" width="5.5" height="5.5" fill="#ff00ee"/>
<rect x="636" y="588" width="5.5" height="5.5" fill="#ff00f7"/>
<rect x="641" y="588" width="5.5" height="5.5" fill="#fc00ff"/>
<rect x="646" y="588" width="5.5" height="5.5" fill="#f000ff"/>
<rect x="651" y="588" width="5.5" height="5.5" fill="#e300ff"/>
<rect x="656" y="588" width="5.5" height="5.5" fill="#d400ff"/>
<rect x="661" y="588" width="5.5" height="5.5" fill="#c400ff"/>
<rect x="666" y="588" width="5.5" height="5.5" fill="#b408fe"/>
<rect x="671" y="588" width="5.5" height="5.5" fill="#a81cfc"/>
<rect x="676" y="588" width="5.5" height="5.5" fill="#9d30fa"/>
<rect x="681" y="588" width="5.5" height="5.5" fill="#9543f8"/>
<rect x="686" y="588" width="5.5" height="5.5" fill="#8f55f6"/>
<rect x="691" y="588" width="5.5" height="5.5" fill="#8c67f4"/>
<rect x="696" y="588" width="5.5" height="5.5" fill="#8d78f2"/>
<rect x="701" y="588" width="5.5" height="5.5" fill="#9088f1"/>
<rect x="706" y="588" width="5.5" height="5.5" fill="#9294ef"/>
<rect x="711" y="588" width="5.5" height="5.5" fill="#8291f1"/>
<rect x="716" y="588" width="5.5" height="5.5" fill="#718ff3"/>
<rect x="721" y="588" width="5.5" height="5.5" fill="#5e8ef5"/>
<rect x="726" y="588" width="5.5" height="5.5" fill="#498ff7"/>
<rect x="731" y="588" width="5.5" height="5.5" fill="#3492fa"/>
<rect x="736" y="588" width="5.5" height="5.5" fill="#1d96fc"/>
<rect x="741" y="588" width="5.5" height="5.5" fill="#049cff"/>
<rect x="746" y="588" width="5.5" height="5.5" fill="#00a8ff"/>
<rect x="751" y="588" width="5.5" height="5.5" fill="#00b5ff"/>
<rect x="756" y="588" width="5.5" height="5.5" fill="#00c0ff"/>
<rect x="761" y="588" width="5.5" height="5.5" fill="#00caff"/>
<rect x="556" y="593" width="5.5" height="5.5" fill="#ff009f"/>
<rect x="561" y="593" width="5.5" height="5.5" fill="#ff00a1"/>
<rect x="566" y="593" width="5.5" height="5.5" fill="#ff00a4"/>
<rect x="571" y="593" width="5.5" height="5.5" fill="#ff00a7"/>
<rect x="576" y="593" width="5.5" height="5.5" fill="#ff00aa"/>
<rect x="581" y="593" width="5.5" height="5.5" fill="#ff00ad"/>
<rect x="586" y="593" width="5.5" height="5.5" fill="#ff00b0"/>
<rect x="591" y="593" width="5.5" height="5.5" fill="#ff00b4"/>
<rect x="596" y="593" width="5.5" height="5.5" fill="#ff00b8"/>
<rect x="601" y="593" width="5.5" height="5.5" fill="#ff00bc"/>
<rect x="606" y="593" width="5.5" height="5.5" fill="#ff00c1"/>
<rect x="611" y="593" width="5.5" height="5.5" fill="#ff00c7"/>
<rect x="616" y="593" width="5.5" height="5.5" fill="#ff00cc"/>
<rect x="621" y="593" width="5.5" height="5.5" fill="#ff00d3"/>
<rect x="626" y="593" width="5.5" height="5.5" fill="#ff00da"/>
<rect x="631" y="593" width="5.5" height="5.5" fill="#ff00e2"/>
<rect x="636" y="593" width="5.5" height="5.5" fill="#ff00eb"/>
<rect x="641" y="593" width="5.5" height="5.5" fill="#ff00f5"/>
<rect x="646" y="593" width="5.5" height="5.5" fill="#fd00ff"/>
<rect x="651" y="593" width="5.5" height="5.5" fill="#f000ff"/>
<rect x="656" y="593" width="5.5" height="5.5" fill="#e100ff"/>
<rect x="661" y="593" width="5.5" height="5.5" fill="#d108fe"/>
<rect x="666" y="593" width="5.5" height="5.5" fill="#c31cfc"/>
<rect x="671" y="593" width="5.5" height="5.5" fill="#b630fa"/>
<rect x="676" y="593" width="5.5" height="5.5" fill="#aa43f8"/>
<rect x="681" y="593" width="5.5" height="5.5" fill="#a155f6"/>
<rect x="686" y="593" width="5.5" height="5.5" fill="#9b67f4"/>
<rect x="691" y="593" width="5.5" height="5.5" fill="#9878f2"/>
<rect x="696" y="593" width="5.5" height="5.5" fill="#9988f1"/>
<rect x="701" y="593" width="5.5" height="5.5" fill="#9d98ef"/>
<rect x="706" y="593" width="5.5" height="5.5" fill="#999eef"/>
<rect x="711" y="593" width="5.5" height="5.5" fill="#899bf0"/>
<rect x="716" y="593" width="5.5" height="5.5" fill="#779af2"/>
<rect x="721" y="593" width="5.5" height="5.5" fill="#649bf5"/>
<rect x="726" y="593" width="5.5" height="5.5" fill="#4f9df7"/>
<rect x="731" y="593" width="5.5" height="5.5" fill="#39a1f9"/>
<rect x="736" y="593" width="5.5" height="5.5" fill="#22a7fc"/>
<rect x="741" y="593" width="5.5" height="5.5" fill="#0aadfe"/>
<rect x="746" y="593" width="5.5" height="5.5" fill="#00b8ff"/>
<rect x="751" y="593" width="5.5" height="5.5" fill="#00c4ff"/>
<rect x="756" y="593" width="5.5" height="5.5" fill="#00cfff"/>
<rect x="761" y="593" width="5.5" height="5.5" fill="#00d9ff"/>
<rect x="556" y="598" width="5.5" height="5.5" fill="#ff0097"/>
<rect x="561" y="598" width="5.5" height="5.5" fill="#ff009a"/>
<rect x="566" y="598" width="5.5" height="5.5" fill="#ff009c"/>
<rect x="571" y="598" width="5.5" height="5.5" fill="#ff009e"/>
<rect x="576" y="598" width="5.5" height="5.5" fill="#ff00a1"/>
<rect x="581" y="598" width="5.5" height="5.5" fill="#ff00a4"/>
<rect x="586" y="598" width="5.5" height="5.5" fill="#ff00a7"/>
<rect x="591" y="598" width="5.5" height="5.5" fill="#ff00aa"/>
<rect x="596" y="598" width="5.5" height="5.5" fill="#ff00ae"/>
<rect x="601" y="598" width="5.5" height="5.5" fill="#ff00b2"/>
<rect x="606" y="598" width="5.5" height="5.5" fill="#ff00b7"/>
<rect x="611" y="598" width="5.5" height="5.5" fill="#ff00bb"/>
<rect x="616" y="598" width="5.5" height="5.5" fill="#ff00c1"/>
<rect x="621" y="598" width="5.5" height="5.5" fill="#ff00c7"/>
<rect x="626" y="598" width="5.5" height="5.5" fill="#ff00ce"/>
<rect x="631" y="598" width="5.5" height="5.5" fill="#ff00d5"/>
<rect x="636" y="598" width="5.5" height="5.5" fill="#ff00de"/>
<rect x="641" y="598" width="5.5" height="5.5" fill="#ff00e8"/>
<rect x="646" y="598" width="5.5" height="5.5" fill="#ff00f3"/>
<rect x="651" y="598" width="5.5" height="5.5" fill="#ff00ff"/>
<rect x="656" y="598" width="5.5" height="5.5" fill="#ef08fe"/>
<rect x="661" y="598" width="5.5" height="5.5" fill="#e01cfc"/>
<rect x="666" y="598" width="5.5" height="5.5" fill="#d130fa"/>
<rect x="671" y="598" width="5.5" height="5.5" fill="#c343f8"/>
<rect x="676" y="598" width="5.5" height="5.5" fill="#b755f6"/>
<rect x="681" y="598" width="5.5" height="5.5" fill="#ae67f4"/>
<rect x="686" y="598" width="5.5" height="5.5" fill="#a778f2"/>
<rect x="691" y="598" width="5.5" height="5.5" fill="#a488f1"/>
<rect x="696" y="598" width="5.5" height="5.5" fill="#a498ef"/>
<rect x="701" y="598" width="5.5" height="5.5" fill="#a9a7ed"/>
<rect x="706" y="598" width="5.5" height="5.5" fill="#9fa7ee"/>
<rect x="711" y="598" width="5.5" height="5.5" fill="#8fa6f0"/>
<rect x="716" y="598" width="5.5" height="5.5" fill="#7da6f2"/>
<rect x="721" y="598" width="5.5" height="5.5" fill="#69a8f4"/>
<rect x="726" y="598" width="5.5" height="5.5" fill="#55acf6"/>
<rect x="731" y="598" width="5.5" height="5.5" fill="#3fb1f9"/>
<rect x="736" y="598" width="5.5" height="5.5" fill="#28b8fb"/>
<rect x="741" y="598" width="5.5" height="5.5" fill="#10c0fd"/>
<rect x="746" y="598" width="5.5" height="5.5" fill="#00caff"/>
<rect x="751" y="598" width="5.5" height="5.5" fill="#00d5ff"/>
<rect x="756" y="598" width="5.5" height="5.5" fill="#00e0ff"/>
<rect x="761" y="598" width="5.5" height="5.5" fill="#00e9ff"/>
<rect x="556" y="603" width="5.5" height="5.5" fill="#ff0090"/>
<rect x="561" y="603" width="5.5" height="5.5" fill="#ff0092"/>
<rect x="566" y="603" width="5.5" height="5.5" fill="#ff0094"/>
<rect x="571" y="603" width="5.5" height="5.5" fill="#ff0096"/>
<rect x="576" y="603" width="5.5" height="5.5" fill="#ff0098"/>
<rect x="581" y="603" width="5.5" height="5.5" fill="#ff009b"/>
<rect x="586" y="603" width="5.5" height="5.5" fill="#ff009d"/>
<rect x="591" y="603" width="5.5" height="5.5" fill="#ff00a0"/>
<rect x="596" y="603" width="5.5" height="5.5" fill="#ff00a4"/>
<rect x="601" y="603" width="5.5" height="5.5" fill="#ff00a7"/>
<rect x="606" y="603" width="5.5" height="5.5" fill="#ff00ab"/>
<rect x="611" y="603" width="5.5" height="5.5" fill="#ff00b0"/>
<rect x="616" y="603" width="5.5" height="5.5" fill="#ff00b5"/>
<rect x="621" y="603" width="5.5" height="5.5" fill="#ff00ba"/>
<rect x="626" y="603" width="5.5" height="5.5" fill="#ff00c0"/>
<rect x="631" y="603" width="5.5" height="5.5" fill="#ff00c7"/>
<rect x="636" y="603" width="5.5" height="5.5" fill="#ff00cf"/>
<rect x="641" y="603" width="5.5" height="5.5" fill="#ff00d9"/>
<rect x="646" y="603" width="5.5" height="5.5" fill="#ff00e3"/>
<rect x="651" y="603" width="5.5" height="5.5" fill="#fe08ef"/>
<rect x="656" y="603" width="5.5" height="5.5" fill="#fc1cfb"/>
<rect x="661" y="603" width="5.5" height="5.5" fill="#ee2ffa"/>
<rect x="666" y="603" width="5.5" height="5.5" fill="#de42f8"/>
<rect x="671" y="603" width="5.5" height="5.5" fill="#d155f6"/>
<rect x="676" y="603" width="5.5" height="5.5" fill="#c467f4"/>
<rect x="681" y="603" width="5.5" height="5.5" fill="#ba78f2"/>
<rect x="686" y="603" width="5.5" height="5.5" fill="#b388f1"/>
<rect x="691" y="603" width="5.5" height="5.5" fill="#af98ef"/>
<rect x="696" y="603" width="5.5" height="5.5" fill="#b0a7ed"/>
<rect x="701" y="603" width="5.5" height="5.5" fill="#b3b4ec"/>
<rect x="706" y="603" width="5.5" height="5.5" fill="#a5b1ed"/>
<rect x="711" y="603" width="5.5" height="5.5" fill="#94b0ef"/>
<rect x="716" y="603" width="5.5" height="5.5" fill="#82b2f1"/>
<rect x="721" y="603" width="5.5" height="5.5" fill="#6fb5f3"/>
<rect x="726" y="603" width="5.5" height="5.5" fill="#5abbf6"/>
<rect x="731" y="603" width="5.5" height="5.5" fill="#44c2f8"/>
<rect x="736" y="603" width="5.5" height="5.5" fill="#2dcafa"/>
<rect x="741" y="603" width="5.5" height="5.5" fill="#15d3fd"/>
<rect x="746" y="603" width="5.5" height="5.5" fill="#00ddff"/>
<rect x="751" y="603" width="5.5" height="5.5" fill="#00e8ff"/>
<rect x="756" y="603" width="5.5" height="5.5" fill="#00f1ff"/>
<rect x="761" y="603" width="5.5" height="5.5" fill="#00faff"/>
<rect x="556" y="608" width="5.5" height="5.5" fill="#ff0088"/>
<rect x="561" y="608" width="5.5" height="5.5" fill="#ff008a"/>
<rect x="566" y="608" width="5.5" height="5.5" fill="#ff008b"/>
<rect x="571" y="608" width="5.5" height="5.5" fill="#ff008d"/>
<rect x="576" y="608" width="5.5" height="5.5" fill="#ff008f"/>
<rect x="581" y="608" width="5.5" height="5.5" fill="#ff0091"/>
<rect x="586" y="608" width="5.5" height="5.5" fill="#ff0094"/>
<rect x="591" y="608" width="5.5" height="5.5" fill="#ff0096"/>
<rect x="596" y="608" width="5.5" height="5.5" fill="#ff0099"/>
<rect x="601" y="608" width="5.5" height="5.5" fill="#ff009c"/>
<rect x="606" y="608" width="5.5" height="5.5" fill="#ff00a0"/>
<rect x="611" y="608" width="5.5" height="5.5" fill="#ff00a4"/>
<rect x="616" y="608" width="5.5" height="5.5" fill="#ff00a8"/>
<rect x="621" y="608" width="5.5" height="5.5" fill="#ff00ad"/>
<rect x="626" y="608" width="5.5" height="5.5" fill="#ff00b2"/>
<rect x="631" y="608" width="5.5" height="5.5" fill="#ff00b9"/>
<rect x="636" y="608" width="5.5" height="5.5" fill="#ff00c0"/>
<rect x="641" y="608" width="5.5" height="5.5" fill="#ff00c8"/>
<rect x="646" y="608" width="5.5" height="5.5" fill="#fe07d3"/>
<rect x="651" y="608" width="5.5" height="5.5" fill="#fc1cdf"/>
<rect x="656" y="608" width="5.5" height="5.5" fill="#fa2fea"/>
<rect x="661" y="608" width="5.5" height="5.5" fill="#f842f6"/>
<rect x="666" y="608" width="5.5" height="5.5" fill="#ec55f6"/>
<rect x="671" y="608" width="5.5" height="5.5" fill="#dd66f4"/>
<rect x="676" y="608" width="5.5" height="5.5" fill="#d078f2"/>
<rect x="681" y="608" width="5.5" height="5.5" fill="#c688f1"/>
<rect x="686" y="608" width="5.5" height="5.5" fill="#be98ef"/>
<rect x="691" y="608" width="5.5" height="5.5" fill="#baa7ed"/>
<rect x="696" y="608" width="5.5" height="5.5" fill="#bab5eb"/>
<rect x="701" y="608" width="5.5" height="5.5" fill="#b9bceb"/>
<rect x="706" y="608" width="5.5" height="5.5" fill="#aabbed"/>
<rect x="711" y="608" width="5.5" height="5.5" fill="#9abbef"/>
<rect x="716" y="608" width="5.5" height="5.5" fill="#87bff1"/>
<rect x="721" y="608" width="5.5" height="5.5" fill="#74c4f3"/>
<rect x="726" y="608" width="5.5" height="5.5" fill="#5fcbf5"/>
<rect x="731" y="608" width="5.5" height="5.5" fill="#49d3f7"/>
<rect x="736" y="608" width="5.5" height="5.5" fill="#32dcfa"/>
<rect x="741" y="608" width="5.5" height="5.5" fill="#1ae7fc"/>
<rect x="746" y="608" width="5.5" height="5.5" fill="#00f2ff"/>
<rect x="751" y="608" width="5.5" height="5.5" fill="#00fcff"/>
<rect x="756" y="608" width="5.5" height="5.5" fill="#00fffb"/>
<rect x="761" y="608" width="5.5" height="5.5" fill="#00fff6"/>
<rect x="556" y="613" width="5.5" height="5.5" fill="#ff0080"/>
<rect x="561" y="613" width="5.5" height="5.5" fill="#ff0081"/>
<rect x="566" y="613" width="5.5" height="5.5" fill="#ff0083"/>
<rect x="571" y="613" width="5.5" height="5.5" fill="#ff0084"/>
<rect x="576" y="613" width="5.5" height="5.5" fill="#ff0086"/>
<rect x="581" y="613" width="5.5" height="5.5" fill="#ff0088"/>
<rect x="586" y="613" width="5.5" height="5.5" fill="#ff008a"/>
<rect x="591" y="613" width="5.5" height="5.5" fill="#ff008c"/>
<rect x="596" y="613" width="5.5" height="5.5" fill="#ff008e"/>
<rect x="601" y="613" width="5.5" height="5.5" fill="#ff0091"/>
<rect x="606" y="613" width="5.5" height="5.5" fill="#ff0094"/>
<rect x="611" y="613" width="5.5" height="5.5" fill="#ff0097"/>
<rect x="616" y="613" width="5.5" height="5.5" fill="#ff009b"/>
<rect x="621" y="613" width="5.5" height="5.5" fill="#ff009f"/>
<rect x="626" y="613" width="5.5" height="5.5" fill="#ff00a3"/>
<rect x="631" y="613" width="5.5" height="5.5" fill="#ff00a9"/>
<rect x="636" y="613" width="5.5" height="5.5" fill="#ff00af"/>
<rect x="641" y="613" width="5.5" height="5.5" fill="#fe07b8"/>
<rect x="646" y="613" width="5.5" height="5.5" fill="#fc1bc4"/>
<rect x="651" y="613" width="5.5" height="5.5" fill="#fa2fcf"/>
<rect x="656" y="613" width="5.5" height="5.5" fill="#f842db"/>
<rect x="661" y="613" width="5.5" height="5.5" fill="#f655e6"/>
<rect x="666" y="613" width="5.5" height="5.5" fill="#f466f1"/>
<rect x="671" y="613" width="5.5" height="5.5" fill="#ea77f2"/>
<rect x="676" y="613" width="5.5" height="5.5" fill="#dd88f1"/>
<rect x="681" y="613" width="5.5" height="5.5" fill="#d197ef"/>
<rect x="686" y="613" width="5.5" height="5.5" fill="#c8a6ed"/>
<rect x="691" y="613" width="5.5" height="5.5" fill="#c4b5eb"/>
<rect x="696" y="613" width="5.5" height="5.5" fill="#c5c2ea"/>
<rect x="701" y="613" width="5.5" height="5.5" fill="#bec5ea"/>
<rect x="706" y="613" width="5.5" height="5.5" fill="#afc5ec"/>
<rect x="711" y="613" width="5.5" height="5.5" fill="#9fc7ee"/>
<rect x="716" y="613" width="5.5" height="5.5" fill="#8ccdf0"/>
<rect x="721" y="613" width="5.5" height="5.5" fill="#78d3f2"/>
<rect x="726" y="613" width="5.5" height="5.5" fill="#63dcf5"/>
<rect x="731" y="613" width="5.5" height="5.5" fill="#4de5f7"/>
<rect x="736" y="613" width="5.5" height="5.5" fill="#36f0f9"/>
<rect x="741" y="613" width="5.5" height="5.5" fill="#1efbfc"/>
<rect x="746" y="613" width="5.5" height="5.5" fill="#05fff8"/>
<rect x="751" y="613" width="5.5" height="5.5" fill="#00fff2"/>
<rect x="756" y="613" width="5.5" height="5.5" fill="#00ffed"/>
<rect x="761" y="613" width="5.5" height="5.5" fill="#00ffe8"/>
<rect x="556" y="618" width="5.5" height="5.5" fill="#ff0078"/>
<rect x="561" y="618" width="5.5" height="5.5" fill="#ff0079"/>
<rect x="566" y="618" width="5.5" height="5.5" fill="#ff007a"/>
<rect x="571" y="618" width="5.5" height="5.5" fill="#ff007b"/>
<rect x="576" y="618" width="5.5" height="5.5" fill="#ff007d"/>
<rect x="581" y="618" width="5.5" height="5.5" fill="#ff007e"/>
<rect x="586" y="618" width="5.5" height="5.5" fill="#ff0080"/>
<rect x="591" y="618" width="5.5" height="5.5" fill="#ff0081"/>
<rect x="596" y="618" width="5.5" height="5.5" fill="#ff0083"/>
<rect x="601" y="618" width="5.5" height="5.5" fill="#ff0085"/>
<rect x="606" y="618" width="5.5" height="5.5" fill="#ff0087"/>
<rect x="611" y="618" width="5.5" height="5.5" fill="#ff008a"/>
<rect x="616" y="618" width="5.5" height="5.5" fill="#ff008d"/>
<rect x="621" y="618" width="5.5" height="5.5" fill="#ff0090"/>
<rect x="626" y="618" width="5.5" height="5.5" fill="#ff0094"/>
<rect x="631" y="618" width="5.5" height="5.5" fill="#ff0098"/>
<rect x="636" y="618" width="5.5" height="5.5" fill="#fe079f"/>
<rect x="641" y="618" width="5.5" height="5.5" fill="#fc1bab"/>
<rect x="646" y="618" width="5.5" height="5.5" fill="#fa2fb7"/>
<rect x="651" y="618" width="5.5" height="5.5" fill="#f842c2"/>
<rect x="656" y="618" width="5.5" height="5.5" fill="#f654cd"/>
<rect x="661" y="618" width="5.5" height="5.5" fill="#f466d7"/>
<rect x="666" y="618" width="5.5" height="5.5" fill="#f277e2"/>
<rect x="671" y="618" width="5.5" height="5.5" fill="#f188ec"/>
<rect x="676" y="618" width="5.5" height="5.5" fill="#e897ef"/>
<rect x="681" y="618" width="5.5" height="5.5" fill="#dca6ed"/>
<rect x="686" y="618" width="5.5" height="5.5" fill="#d2b5eb"/>
<rect x="691" y="618" width="5.5" height="5.5" fill="#cdc2ea"/>
<rect x="696" y="618" width="5.5" height="5.5" fill="#cfcee8"/>
<rect x="701" y="618" width="5.5" height="5.5" fill="#c3ceea"/>
<rect x="706" y="618" width="5.5" height="5.5" fill="#b4d0ec"/>
<rect x="711" y="618" width="5.5" height="5.5" fill="#a3d4ee"/>
<rect x="716" y="618" width="5.5" height="5.5" fill="#90dcf0"/>
<rect x="721" y="618" width="5.5" height="5.5" fill="#7ce4f2"/>
<rect x="726" y="618" width="5.5" height="5.5" fill="#68eef4"/>
<rect x="731" y="618" width="5.5" height="5.5" fill="#51f7f5"/>
<rect x="736" y="618" width="5.5" height="5.5" fill="#3af9f1"/>
<rect x="741" y="618" width="5.5" height="5.5" fill="#22fcec"/>
<rect x="746" y="618" width="5.5" height="5.5" fill="#09fee7"/>
<rect x="751" y="618" width="5.5" height="5.5" fill="#00ffe2"/>
<rect x="756" y="618" width="5.5" height="5.5" fill="#00ffdd"/>
<rect x="761" y="618" width="5.5" height="5.5" fill="#00ffda"/>
<rect x="556" y="623" width="5.5" height="5.5" fill="#ff0070"/>
<rect x="561" y="623" width="5.5" height="5.5" fill="#ff0071"/>
<rect x="566" y="623" width="5.5" height="5.5" fill="#ff0072"/>
<rect x="571" y="623" width="5.5" height="5.5" fill="#ff0072"/>
<rect x="576" y="623" width="5.5" height="5.5" fill="#ff0073"/>
<rect x="581" y="623" width="5.5" height="5.5" fill="#ff0074"/>
<rect x="586" y="623" width="5.5" height="5.5" fill="#ff0075"/>
<rect x="591" y="623" width="5.5" height="5.5" fill="#ff0076"/>
<rect x="596" y="623" width="5.5" height="5.5" fill="#ff0078"/>
<rect x="601" y="623" width="5.5" height="5.5" fill="#ff0079"/>
<rect x="606" y="623" width="5.5" height="5.5" fill="#ff007b"/>
<rect x="611" y="623" width="5.5" height="5.5" fill="#ff007d"/>
<rect x="616" y="623" width="5.5" height="5.5" fill="#ff007f"/>
<rect x="621" y="623" width="5.5" height="5.5" fill="#ff0081"/>
<rect x="626" y="623" width="5.5" height="5.5" fill="#ff0084"/>
<rect x="631" y="623" width="5.5" height="5.5" fill="#fe078a"/>
<rect x="636" y="623" width="5.5" height="5.5" fill="#fc1b95"/>
<rect x="641" y="623" width="5.5" height="5.5" fill="#fa2fa1"/>
<rect x="646" y="623" width="5.5" height="5.5" fill="#f842ac"/>
<rect x="651" y="623" width="5.5" height="5.5" fill="#f654b6"/>
<rect x="656" y="623" width="5.5" height="5.5" fill="#f466c1"/>
<rect x="661" y="623" width="5.5" height="5.5" fill="#f277cb"/>
<rect x="666" y="623" width="5.5" height="5.5" fill="#f187d5"/>
<rect x="671" y="623" width="5.5" height="5.5" fill="#ef97de"/>
<rect x="676" y="623" width="5.5" height="5.5" fill="#eda6e7"/>
<rect x="681" y="623" width="5.5" height="5.5" fill="#e7b4eb"/>
<rect x="686" y="623" width="5.5" height="5.5" fill="#dcc2ea"/>
<rect x="691" y="623" width="5.5" height="5.5" fill="#d6cee8"/>
<rect x="696" y="623" width="5.5" height="5.5" fill="#d5d6e8"/>
<rect x="701" y="623" width="5.5" height="5.5" fill="#c7d7e9"/>
<rect x="706" y="623" width="5.5" height="5.5" fill="#b8dceb"/>
<rect x="711" y="623" width="5.5" height="5.5" fill="#a7e3ed"/>
<rect x="716" y="623" width="5.5" height="5.5" fill="#94ecef"/>
<rect x="721" y="623" width="5.5" height="5.5" fill="#80f1ee"/>
<rect x="726" y="623" width="5.5" height="5.5" fill="#6bf4ea"/>
<rect x="731" y="623" width="5.5" height="5.5" fill="#55f6e5"/>
<rect x="736" y="623" width="5.5" height="5.5" fill="#3ef9e0"/>
<rect x="741" y="623" width="5.5" height="5.5" fill="#26fbdb"/>
<rect x="746" y="623" width="5.5" height="5.5" fill="#0dfed5"/>
<rect x="751" y="623" width="5.5" height="5.5" fill="#00ffd1"/>
<rect x="756" y="623" width="5.5" height="5.5" fill="#00ffcd"/>
<rect x="761" y="623" width="5.5" height="5.5" fill="#00ffcb"/>
<rect x="556" y="628" width="5.5" height="5.5" fill="#ff0068"/>
<rect x="561" y="628" width="5.5" height="5.5" fill="#ff0068"/>
<rect x="566" y="628" width="5.5" height="5.5" fill="#ff0069"/>
<rect x="571" y="628" width="5.5" height="5.5" fill="#ff0069"/>
<rect x="576" y="628" width="5.5" height="5.5" fill="#ff006a"/>
<rect x="581" y="628" width="5.5" height="5.5" fill="#ff006a"/>
<rect x="586" y="628" width="5.5" height="5.5" fill="#ff006b"/>
<rect x="591" y="628" width="5.5" height="5.5" fill="#ff006c"/>
<rect x="596" y="628" width="5.5" height="5.5" fill="#ff006c"/>
<rect x="601" y="628" width="5.5" height="5.5" fill="#ff006d"/>
<rect x="606" y="628" width="5.5" height="5.5" fill="#ff006e"/>
<rect x="611" y="628" width="5.5" height="5.5" fill="#ff006f"/>
<rect x="616" y="628" width="5.5" height="5.5" fill="#ff0070"/>
<rect x="621" y="628" width="5.5" height="5.5" fill="#ff0072"/>
<rect x="626" y="628" width="5.5" height="5.5" fill="#fe0777"/>
<rect x="631" y="628" width="5.5" height="5.5" fill="#fc1b82"/>
<rect x="636" y="628" width="5.5" height="5.5" fill="#fa2f8e"/>
<rect x="641" y="628" width="5.5" height="5.5" fill="#f84299"/>
<rect x="646" y="628" width="5.5" height="5.5" fill="#f654a3"/>
<rect x="651" y="628" width="5.5" height="5.5" fill="#f466ae"/>
<rect x="656" y="628" width="5.5" height="5.5" fill="#f277b8"/>
<rect x="661" y="628" width="5.5" height="5.5" fill="#f187c1"/>
<rect x="666" y="628" width="5.5" height="5.5" fill="#ef97ca"/>
<rect x="671" y="628" width="5.5" height="5.5" fill="#eda6d3"/>
<rect x="676" y="628" width="5.5" height="5.5" fill="#ebb4db"/>
<rect x="681" y="628" width="5.5" height="5.5" fill="#eac2e4"/>
<rect x="686" y="628" width="5.5" height="5.5" fill="#e5cee8"/>
<rect x="691" y="628" width="5.5" height="5.5" fill="#ded9e7"/>
<rect x="696" y="628" width="5.5" height="5.5" fill="#d9dee7"/>
<rect x="701" y="628" width="5.5" height="5.5" fill="#cbe2e9"/>
<rect x="706" y="628" width="5.5" height="5.5" fill="#bbeaeb"/>
<rect x="711" y="628" width="5.5" height="5.5" fill="#aaede8"/>
<rect x="716" y="628" width="5.5" height="5.5" fill="#97efe4"/>
<rect x="721" y="628" width="5.5" height="5.5" fill="#83f1df"/>
<rect x="726" y="628" width="5.5" height="5.5" fill="#6ef3db"/>
<rect x="731" y="628" width="5.5" height="5.5" fill="#58f6d5"/>
<rect x="736" y="628" width="5.5" height="5.5" fill="#41f8d0"/>
<rect x="741" y="628" width="5.5" height="5.5" fill="#29fbca"/>
<rect x="746" y="628" width="5.5" height="5.5" fill="#10fdc4"/>
<rect x="751" y="628" width="5.5" height="5.5" fill="#00ffbf"/>
<rect x="756" y="628" width="5.5" height="5.5" fill="#00ffbd"/>
<rect x="761" y="628" width="5.5" height="5.5" fill="#00ffbb"/>
<rect x="556" y="633" width="5.5" height="5.5" fill="#ff0060"/>
<rect x="561" y="633" width="5.5" height="5.5" fill="#ff0060"/>
<rect x="566" y="633" width="5.5" height="5.5" fill="#ff0060"/>
<rect x="571" y="633" width="5.5" height="5.5" fill="#ff0060"/>
<rect x="576" y="633" width="5.5" height="5.5" fill="#ff0060"/>
<rect x="581" y="633" width="5.5" height="5.5" fill="#ff0060"/>
<rect x="586" y="633" width="5.5" height="5.5" fill="#ff0060"/>
<rect x="591" y="633" width="5.5" height="5.5" fill="#ff0061"/>
<rect x="596" y="633" width="5.5" height="5.5" fill="#ff0061"/>
<rect x="601" y="633" width="5.5" height="5.5" fill="#ff0061"/>
<rect x="606" y="633" width="5.5" height="5.5" fill="#ff0061"/>
<rect x="611" y="633" width="5.5" height="5.5" fill="#ff0061"/>
<rect x="616" y="633" width="5.5" height="5.5" fill="#ff0062"/>
<rect x="621" y="633" width="5.5" height="5.5" fill="#fe0666"/>
<rect x="626" y="633" width="5.5" height="5.5" fill="#fc1b72"/>
<rect x="631" y="633" width="5.5" height="5.5" fill="#fa2e7d"/>
<rect x="636" y="633" width="5.5" height="5.5" fill="#f84189"/>
<rect x="641" y="633" width="5.5" height="5.5" fill="#f65493"/>
<rect x="646" y="633" width="5.5" height="5.5" fill="#f4669e"/>
<rect x="651" y="633" width="5.5" height="5.5" fill="#f377a8"/>
<rect x="656" y="633" width="5.5" height="5.5" fill="#f187b2"/>
<rect x="661" y="633" width="5.5" height="5.5" fill="#ef97bb"/>
<rect x="666" y="633" width="5.5" height="5.5" fill="#eda6c4"/>
<rect x="671" y="633" width="5.5" height="5.5" fill="#ebb4cc"/>
<rect x="676" y="633" width="5.5" height="5.5" fill="#eac2d4"/>
<rect x="681" y="633" width="5.5" height="5.5" fill="#e8cedb"/>
<rect x="686" y="633" width="5.5" height="5.5" fill="#e7d9e1"/>
<rect x="691" y="633" width="5.5" height="5.5" fill="#e4e3e6"/>
<rect x="696" y="633" width="5.5" height="5.5" fill="#dce7e6"/>
<rect x="701" y="633" width="5.5" height="5.5" fill="#cee8e3"/>
<rect x="706" y="633" width="5.5" height="5.5" fill="#beeadf"/>
<rect x="711" y="633" width="5.5" height="5.5" fill="#acecdb"/>
<rect x="716" y="633" width="5.5" height="5.5" fill="#9aefd6"/>
<rect x="721" y="633" width="5.5" height="5.5" fill="#86f1d1"/>
<rect x="726" y="633" width="5.5" height="5.5" fill="#71f3cb"/>
<rect x="731" y="633" width="5.5" height="5.5" fill="#5bf6c5"/>
<rect x="736" y="633" width="5.5" height="5.5" fill="#44f8bf"/>
<rect x="741" y="633" width="5.5" height="5.5" fill="#2cfbb9"/>
<rect x="746" y="633" width="5.5" height="5.5" fill="#13fdb2"/>
<rect x="751" y="633" width="5.5" height="5.5" fill="#00ffad"/>
<rect x="756" y="633" width="5.5" height="5.5" fill="#00ffac"/>
<rect x="761" y="633" width="5.5" height="5.5" fill="#00ffac"/>
<rect x="556" y="638" width="5.5" height="5.5" fill="#ff0058"/>
<rect x="561" y="638" width="5.5" height="5.5" fill="#ff0057"/>
<rect x="566" y="638" width="5.5" height="5.5" fill="#ff0057"/>
<rect x="571" y="638" width="5.5" height="5.5" fill="#ff0057"/>
<rect x="576" y="638" width="5.5" height="5.5" fill="#ff0057"/>
<rect x="581" y="638" width="5.5" height="5.5" fill="#ff0056"/>
<rect x="586" y="638" width="5.5" height="5.5" fill="#ff0056"/>
<rect x="591" y="638" width="5.5" height="5.5" fill="#ff0056"/>
<rect x="596" y="638" width="5.5" height="5.5" fill="#ff0055"/>
<rect x="601" y="638" width="5.5" height="5.5" fill="#ff0055"/>
<rect x="606" y="638" width="5.5" height="5.5" fill="#ff0054"/>
<rect x="611" y="638" width="5.5" height="5.5" fill="#ff0054"/>
<rect x="616" y="638" width="5.5" height="5.5" fill="#fe0657"/>
<rect x="621" y="638" width="5.5" height="5.5" fill="#fc1b63"/>
<rect x="626" y="638" width="5.5" height="5.5" fill="#fa2e6f"/>
<rect x="631" y="638" width="5.5" height="5.5" fill="#f8417b"/>
<rect x="636" y="638" width="5.5" height="5.5" fill="#f65486"/>
<rect x="641" y="638" width="5.5" height="5.5" fill="#f46591"/>
<rect x="646" y="638" width="5.5" height="5.5" fill="#f3779c"/>
<rect x="651" y="638" width="5.5" height="5.5" fill="#f187a6"/>
<rect x="656" y="638" width="5.5" height="5.5" fill="#ef97b0"/>
<rect x="661" y="638" width="5.5" height="5.5" fill="#eda6b9"/>
<rect x="666" y="638" width="5.5" height="5.5" fill="#ecb4c2"/>
<rect x="671" y="638" width="5.5" height="5.5" fill="#eac1ca"/>
<rect x="676" y="638" width="5.5" height="5.5" fill="#e8ced3"/>
<rect x="681" y="638" width="5.5" height="5.5" fill="#e7d9da"/>
<rect x="686" y="638" width="5.5" height="5.5" fill="#e6e0df"/>
<rect x="691" y="638" width="5.5" height="5.5" fill="#e5e6df"/>
<rect x="696" y="638" width="5.5" height="5.5" fill="#dce7dd"/>
<rect x="701" y="638" width="5.5" height="5.5" fill="#cfe8d8"/>
<rect x="706" y="638" width="5.5" height="5.5" fill="#bfead3"/>
<rect x="711" y="638" width="5.5" height="5.5" fill="#aeecce"/>
<rect x="716" y="638" width="5.5" height="5.5" fill="#9ceec8"/>
<rect x="721" y="638" width="5.5" height="5.5" fill="#88f1c2"/>
<rect x="726" y="638" width="5.5" height="5.5" fill="#73f3bc"/>
<rect x="731" y="638" width="5.5" height="5.5" fill="#5df5b6"/>
<rect x="736" y="638" width="5.5" height="5.5" fill="#46f8af"/>
<rect x="741" y="638" width="5.5" height="5.5" fill="#2ffaa8"/>
<rect x="746" y="638" width="5.5" height="5.5" fill="#16fda1"/>
<rect x="751" y="638" width="5.5" height="5.5" fill="#00ff9b"/>
<rect x="756" y="638" width="5.5" height="5.5" fill="#00ff9c"/>
<rect x="761" y="638" width="5.5" height="5.5" fill="#00ff9d"/>
<rect x="556" y="643" width="5.5" height="5.5" fill="#ff004f"/>
<rect x="561" y="643" width="5.5" height="5.5" fill="#ff004f"/>
<rect x="566" y="643" width="5.5" height="5.5" fill="#ff004e"/>
<rect x="571" y="643" width="5.5" height="5.5" fill="#ff004e"/>
<rect x="576" y="643" width="5.5" height="5.5" fill="#ff004d"/>
<rect x="581" y="643" width="5.5" height="5.5" fill="#ff004c"/>
<rect x="586" y="643" width="5.5" height="5.5" fill="#ff004c"/>
<rect x="591" y="643" width="5.5" height="5.5" fill="#ff004b"/>
<rect x="596" y="643" width="5.5" height="5.5" fill="#ff004a"/>
<rect x="601" y="643" width="5.5" height="5.5" fill="#ff0049"/>
<rect x="606" y="643" width="5.5" height="5.5" fill="#ff0047"/>
<rect x="611" y="643" width="5.5" height="5.5" fill="#fe064a"/>
<rect x="616" y="643" width="5.5" height="5.5" fill="#fc1a57"/>
<rect x="621" y="643" width="5.5" height="5.5" fill="#fa2e64"/>
<rect x="626" y="643" width="5.5" height="5.5" fill="#f84170"/>
<rect x="631" y="643" width="5.5" height="5.5" fill="#f6547b"/>
<rect x="636" y="643" width="5.5" height="5.5" fill="#f46587"/>
<rect x="641" y="643" width="5.5" height="5.5" fill="#f37692"/>
<rect x="646" y="643" width="5.5" height="5.5" fill="#f1879d"/>
<rect x="651" y="643" width="5.5" height="5.5" fill="#ef97a7"/>
<rect x="656" y="643" width="5.5" height="5.5" fill="#eda6b1"/>
<rect x="661" y="643" width="5.5" height="5.5" fill="#ecb4bb"/>
<rect x="666" y="643" width="5.5" height="5.5" fill="#eac1c5"/>
<rect x="671" y="643" width="5.5" height="5.5" fill="#e8cece"/>
<rect x="676" y="643" width="5.5" height="5.5" fill="#e8d4d2"/>
<rect x="681" y="643" width="5.5" height="5.5" fill="#e8d9d2"/>
<rect x="686" y="643" width="5.5" height="5.5" fill="#e8e1d2"/>
<rect x="691" y="643" width="5.5" height="5.5" fill="#e3e8d2"/>
<rect x="696" y="643" width="5.5" height="5.5" fill="#d8e8d2"/>
<rect x="701" y="643" width="5.5" height="5.5" fill="#cfe8d0"/>
<rect x="706" y="643" width="5.5" height="5.5" fill="#c0eac9"/>
<rect x="711" y="643" width="5.5" height="5.5" fill="#afecc2"/>
<rect x="716" y="643" width="5.5" height="5.5" fill="#9deebb"/>
<rect x="721" y="643" width="5.5" height="5.5" fill="#89f0b5"/>
<rect x="726" y="643" width="5.5" height="5.5" fill="#75f3ae"/>
<rect x="731" y="643" width="5.5" height="5.5" fill="#5ff5a7"/>
<rect x="736" y="643" width="5.5" height="5.5" fill="#48f89f"/>
<rect x="741" y="643" width="5.5" height="5.5" fill="#31fa98"/>
<rect x="746" y="643" width="5.5" height="5.5" fill="#18fd90"/>
<rect x="751" y="643" width="5.5" height="5.5" fill="#00ff89"/>
<rect x="756" y="643" width="5.5" height="5.5" fill="#00ff8b"/>
<rect x="761" y="643" width="5.5" height="5.5" fill="#00ff8d"/>
<rect x="556" y="648" width="5.5" height="5.5" fill="#ff0047"/>
<rect x="561" y="648" width="5.5" height="5.5" fill="#ff0047"/>
<rect x="566" y="648" width="5.5" height="5.5" fill="#ff0046"/>
<rect x="571" y="648" width="5.5" height="5.5" fill="#ff0045"/>
<rect x="576" y="648" width="5.5" height="5.5" fill="#ff0044"/>
<rect x="581" y="648" width="5.5" height="5.5" fill="#ff0042"/>
<rect x="586" y="648" width="5.5" height="5.5" fill="#ff0041"/>
<rect x="591" y="648" width="5.5" height="5.5" fill="#ff0040"/>
<rect x="596" y="648" width="5.5" height="5.5" fill="#ff003e"/>
<rect x="601" y="648" width="5.5" height="5.5" fill="#ff003d"/>
<rect x="606" y="648" width="5.5" height="5.5" fill="#fe063f"/>
<rect x="611" y="648" width="5.5" height="5.5" fill="#fc1a4c"/>
<rect x="616" y="648" width="5.5" height="5.5" fill="#fa2e59"/>
<rect x="621" y="648" width="5.5" height="5.5" fill="#f84166"/>
<rect x="626" y="648" width="5.5" height="5.5" fill="#f65372"/>
<rect x="631" y="648" width="5.5" height="5.5" fill="#f4657e"/>
<rect x="636" y="648" width="5.5" height="5.5" fill="#f3768a"/>
<rect x="641" y="648" width="5.5" height="5.5" fill="#f18796"/>
<rect x="646" y="648" width="5.5" height="5.5" fill="#ef97a1"/>
<rect x="651" y="648" width="5.5" height="5.5" fill="#eda6ac"/>
<rect x="656" y="648" width="5.5" height="5.5" fill="#ecb4b7"/>
<rect x="661" y="648" width="5.5" height="5.5" fill="#eac1c1"/>
<rect x="666" y="648" width="5.5" height="5.5" fill="#eac5c2"/>
<rect x="671" y="648" width="5.5" height="5.5" fill="#eacac2"/>
<rect x="676" y="648" width="5.5" height="5.5" fill="#ead0c2"/>
<rect x="681" y="648" width="5.5" height="5.5" fill="#eadac2"/>
<rect x="686" y="648" width="5.5" height="5.5" fill="#eae7c2"/>
<rect x="691" y="648" width="5.5" height="5.5" fill="#e0eac2"/>
<rect x="696" y="648" width="5.5" height="5.5" fill="#d3eac2"/>
<rect x="701" y="648" width="5.5" height="5.5" fill="#c9eac2"/>
<rect x="706" y="648" width="5.5" height="5.5" fill="#c0eac1"/>
<rect x="711" y="648" width="5.5" height="5.5" fill="#b0ecb8"/>
<rect x="716" y="648" width="5.5" height="5.5" fill="#9eeeb0"/>
<rect x="721" y="648" width="5.5" height="5.5" fill="#8af0a8"/>
<rect x="726" y="648" width="5.5" height="5.5" fill="#76f3a1"/>
<rect x="731" y="648" width="5.5" height="5.5" fill="#61f599"/>
<rect x="736" y="648" width="5.5" height="5.5" fill="#4af791"/>
<rect x="741" y="648" width="5.5" height="5.5" fill="#33fa89"/>
<rect x="746" y="648" width="5.5" height="5.5" fill="#1afc80"/>
<rect x="751" y="648" width="5.5" height="5.5" fill="#00ff78"/>
<rect x="756" y="648" width="5.5" height="5.5" fill="#00ff7b"/>
<rect x="761" y="648" width="5.5" height="5.5" fill="#00ff7e"/>
<rect x="556" y="653" width="5.5" height="5.5" fill="#ff003f"/>
<rect x="561" y="653" width="5.5" height="5.5" fill="#ff003e"/>
<rect x="566" y="653" width="5.5" height="5.5" fill="#ff003d"/>
<rect x="571" y="653" width="5.5" height="5.5" fill="#ff003c"/>
<rect x="576" y="653" width="5.5" height="5.5" fill="#ff003a"/>
<rect x="581" y="653" width="5.5" height="5.5" fill="#ff0039"/>
<rect x="586" y="653" width="5.5" height="5.5" fill="#ff0037"/>
<rect x="591" y="653" width="5.5" height="5.5" fill="#ff0035"/>
<rect x="596" y="653" width="5.5" height="5.5" fill="#ff0033"/>
<rect x="601" y="653" width="5.5" height="5.5" fill="#fe0635"/>
<rect x="606" y="653" width="5.5" height="5.5" fill="#fc1a43"/>
<rect x="611" y="653" width="5.5" height="5.5" fill="#fa2e51"/>
<rect x="616" y="653" width="5.5" height="5.5" fill="#f8415e"/>
<rect x="621" y="653" width="5.5" height="5.5" fill="#f6536b"/>
<rect x="626" y="653" width="5.5" height="5.5" fill="#f46577"/>
<rect x="631" y="653" width="5.5" height="5.5" fill="#f37684"/>
<rect x="636" y="653" width="5.5" height="5.5" fill="#f18790"/>
<rect x="641" y="653" width="5.5" height="5.5" fill="#ef969c"/>
<rect x="646" y="653" width="5.5" height="5.5" fill="#eda5a8"/>
<rect x="651" y="653" width="5.5" height="5.5" fill="#ecb2b2"/>
<rect x="656" y="653" width="5.5" height="5.5" fill="#ecb6b2"/>
<rect x="661" y="653" width="5.5" height="5.5" fill="#ecbab2"/>
<rect x="666" y="653" width="5.5" height="5.5" fill="#ecc0b2"/>
<rect x="671" y="653" width="5.5" height="5.5" fill="#ecc8b2"/>
<rect x="676" y="653" width="5.5" height="5.5" fill="#ecd2b2"/>
<rect x="681" y="653" width="5.5" height="5.5" fill="#ecdeb2"/>
<rect x="686" y="653" width="5.5" height="5.5" fill="#eaecb2"/>
<rect x="691" y="653" width="5.5" height="5.5" fill="#dcecb2"/>
<rect x="696" y="653" width="5.5" height="5.5" fill="#cfecb2"/>
<rect x="701" y="653" width="5.5" height="5.5" fill="#c2ecb2"/>
<rect x="706" y="653" width="5.5" height="5.5" fill="#b8ecb2"/>
<rect x="711" y="653" width="5.5" height="5.5" fill="#afecb0"/>
<rect x="716" y="653" width="5.5" height="5.5" fill="#9eeea7"/>
<rect x="721" y="653" width="5.5" height="5.5" fill="#8bf09e"/>
<rect x="726" y="653" width="5.5" height="5.5" fill="#77f395"/>
<rect x="731" y="653" width="5.5" height="5.5" fill="#62f58c"/>
<rect x="736" y="653" width="5.5" height="5.5" fill="#4bf783"/>
<rect x="741" y="653" width="5.5" height="5.5" fill="#34fa7a"/>
<rect x="746" y="653" width="5.5" height="5.5" fill="#1bfc71"/>
<rect x="751" y="653" width="5.5" height="5.5" fill="#02ff68"/>
<rect x="756" y="653" width="5.5" height="5.5" fill="#00ff6b"/>
<rect x="761" y="653" width="5.5" height="5.5" fill="#00ff6f"/>
<rect x="556" y="658" width="5.5" height="5.5" fill="#ff0037"/>
<rect x="561" y="658" width="5.5" height="5.5" fill="#ff0036"/>
<rect x="566" y="658" width="5.5" height="5.5" fill="#ff0034"/>
<rect x="571" y="658" width="5.5" height="5.5" fill="#ff0033"/>
<rect x="576" y="658" width="5.5" height="5.5" fill="#ff0031"/>
<rect x="581" y="658" width="5.5" height="5.5" fill="#ff002f"/>
<rect x="586" y="658" width="5.5" height="5.5" fill="#ff002d"/>
<rect x="591" y="658" width="5.5" height="5.5" fill="#ff002b"/>
<rect x="596" y="658" width="5.5" height="5.5" fill="#fe062d"/>
<rect x="601" y="658" width="5.5" height="5.5" fill="#fc1a3b"/>
<rect x="606" y="658" width="5.5" height="5.5" fill="#fa2e49"/>
<rect x="611" y="658" width="5.5" height="5.5" fill="#f84157"/>
<rect x="616" y="658" width="5.5" height="5.5" fill="#f65364"/>
<rect x="621" y="658" width="5.5" height="5.5" fill="#f46571"/>
<rect x="626" y="658" width="5.5" height="5.5" fill="#f3767e"/>
<rect x="631" y="658" width="5.5" height="5.5" fill="#f1868b"/>
<rect x="636" y="658" width="5.5" height="5.5" fill="#ef9698"/>
<rect x="641" y="658" width="5.5" height="5.5" fill="#eea1a0"/>
<rect x="646" y="658" width="5.5" height="5.5" fill="#eea5a0"/>
<rect x="651" y="658" width="5.5" height="5.5" fill="#eeaaa0"/>
<rect x="656" y="658" width="5.5" height="5.5" fill="#eeafa0"/>
<rect x="661" y="658" width="5.5" height="5.5" fill="#eeb6a0"/>
<rect x="666" y="658" width="5.5" height="5.5" fill="#eebea0"/>
<rect x="671" y="658" width="5.5" height="5.5" fill="#eec9a0"/>
<rect x="676" y="658" width="5.5" height="5.5" fill="#eed5a0"/>
<rect x="681" y="658" width="5.5" height="5.5" fill="#eee5a0"/>
<rect x="686" y="658" width="5.5" height="5.5" fill="#e7eea0"/>
<rect x="691" y="658" width="5.5" height="5.5" fill="#d9eea0"/>
<rect x="696" y="658" width="5.5" height="5.5" fill="#caeea0"/>
<rect x="701" y="658" width="5.5" height="5.5" fill="#bceea0"/>
<rect x="706" y="658" width="5.5" height="5.5" fill="#b1eea0"/>
<rect x="711" y="658" width="5.5" height="5.5" fill="#a7eea0"/>
<rect x="716" y="658" width="5.5" height="5.5" fill="#9eee9e"/>
<rect x="721" y="658" width="5.5" height="5.5" fill="#8bf094"/>
<rect x="726" y="658" width="5.5" height="5.5" fill="#77f28a"/>
<rect x="731" y="658" width="5.5" height="5.5" fill="#62f580"/>
<rect x="736" y="658" width="5.5" height="5.5" fill="#4cf776"/>
<rect x="741" y="658" width="5.5" height="5.5" fill="#35fa6c"/>
<rect x="746" y="658" width="5.5" height="5.5" fill="#1dfc63"/>
<rect x="751" y="658" width="5.5" height="5.5" fill="#03ff58"/>
<rect x="756" y="658" width="5.5" height="5.5" fill="#00ff5c"/>
<rect x="761" y="658" width="5.5" height="5.5" fill="#00ff61"/>
<rect x="556" y="663" width="5.5" height="5.5" fill="#ff002f"/>
<rect x="561" y="663" width="5.5" height="5.5" fill="#ff002e"/>
<rect x="566" y="663" width="5.5" height="5.5" fill="#ff002c"/>
<rect x="571" y="663" width="5.5" height="5.5" fill="#ff002a"/>
<rect x="576" y="663" width="5.5" height="5.5" fill="#ff0028"/>
<rect x="581" y="663" width="5.5" height="5.5" fill="#ff0026"/>
<rect x="586" y="663" width="5.5" height="5.5" fill="#ff0023"/>
<rect x="591" y="663" width="5.5" height="5.5" fill="#fe0525"/>
<rect x="596" y="663" width="5.5" height="5.5" fill="#fc1a34"/>
<rect x="601" y="663" width="5.5" height="5.5" fill="#fa2d42"/>
<rect x="606" y="663" width="5.5" height="5.5" fill="#f84050"/>
<rect x="611" y="663" width="5.5" height="5.5" fill="#f6535e"/>
<rect x="616" y="663" width="5.5" height="5.5" fill="#f4656c"/>
<rect x="621" y="663" width="5.5" height="5.5" fill="#f3767a"/>
<rect x="626" y="663" width="5.5" height="5.5" fill="#f18687"/>
<rect x="631" y="663" width="5.5" height="5.5" fill="#f08f8d"/>
<rect x="636" y="663" width="5.5" height="5.5" fill="#f0938d"/>
<rect x="641" y="663" width="5.5" height="5.5" fill="#f0988d"/>
<rect x="646" y="663" width="5.5" height="5.5" fill="#f09d8d"/>
<rect x="651" y="663" width="5.5" height="5.5" fill="#f0a48d"/>
<rect x="656" y="663" width="5.5" height="5.5" fill="#f0ab8d"/>
<rect x="661" y="663" width="5.5" height="5.5" fill="#f0b48d"/>
<rect x="666" y="663" width="5.5" height="5.5" fill="#f0bf8d"/>
<rect x="671" y="663" width="5.5" height="5.5" fill="#f0cc8d"/>
<rect x="676" y="663" width="5.5" height="5.5" fill="#f0db8d"/>
<rect x="681" y="663" width="5.5" height="5.5" fill="#f0ed8d"/>
<rect x="686" y="663" width="5.5" height="5.5" fill="#e4f08d"/>
<rect x="691" y="663" width="5.5" height="5.5" fill="#d5f08d"/>
<rect x="696" y="663" width="5.5" height="5.5" fill="#c5f08d"/>
<rect x="701" y="663" width="5.5" height="5.5" fill="#b7f08d"/>
<rect x="706" y="663" width="5.5" height="5.5" fill="#a9f08d"/>
<rect x="711" y="663" width="5.5" height="5.5" fill="#9ef08d"/>
<rect x="716" y="663" width="5.5" height="5.5" fill="#94f08d"/>
<rect x="721" y="663" width="5.5" height="5.5" fill="#8bf08b"/>
<rect x="726" y="663" width="5.5" height="5.5" fill="#77f280"/>
<rect x="731" y="663" width="5.5" height="5.5" fill="#62f575"/>
<rect x="736" y="663" width="5.5" height="5.5" fill="#4cf76a"/>
<rect x="741" y="663" width="5.5" height="5.5" fill="#35fa60"/>
<rect x="746" y="663" width="5.5" height="5.5" fill="#1efc55"/>
<rect x="751" y="663" width="5.5" height="5.5" fill="#05ff4a"/>
<rect x="756" y="663" width="5.5" height="5.5" fill="#00ff4e"/>
<rect x="761" y="663" width="5.5" height="5.5" fill="#00ff54"/>
<rect x="556" y="668" width="5.5" height="5.5" fill="#ff0028"/>
<rect x="561" y="668" width="5.5" height="5.5" fill="#ff0026"/>
<rect x="566" y="668" width="5.5" height="5.5" fill="#ff0024"/>
<rect x="571" y="668" width="5.5" height="5.5" fill="#ff0021"/>
<rect x="576" y="668" width="5.5" height="5.5" fill="#ff001f"/>
<rect x="581" y="668" width="5.5" height="5.5" fill="#ff001c"/>
<rect x="586" y="668" width="5.5" height="5.5" fill="#fe051e"/>
<rect x="591" y="668" width="5.5" height="5.5" fill="#fc192d"/>
<rect x="596" y="668" width="5.5" height="5.5" fill="#fa2d3c"/>
<rect x="601" y="668" width="5.5" height="5.5" fill="#f8404b"/>
<rect x="606" y="668" width="5.5" height="5.5" fill="#f6535a"/>
<rect x="611" y="668" width="5.5" height="5.5" fill="#f56568"/>
<rect x="616" y="668" width="5.5" height="5.5" fill="#f37676"/>
<rect x="621" y="668" width="5.5" height="5.5" fill="#f27c79"/>
<rect x="626" y="668" width="5.5" height="5.5" fill="#f28079"/>
<rect x="631" y="668" width="5.5" height="5.5" fill="#f28579"/>
<rect x="636" y="668" width="5.5" height="5.5" fill="#f28b79"/>
<rect x="641" y="668" width="5.5" height="5.5" fill="#f29179"/>
<rect x="646" y="668" width="5.5" height="5.5" fill="#f29879"/>
<rect x="651" y="668" width="5.5" height="5.5" fill="#f2a079"/>
<rect x="656" y="668" width="5.5" height="5.5" fill="#f2aa79"/>
<rect x="661" y="668" width="5.5" height="5.5" fill="#f2b579"/>
<rect x="666" y="668" width="5.5" height="5.5" fill="#f2c279"/>
<rect x="671" y="668" width="5.5" height="5.5" fill="#f2d179"/>
<rect x="676" y="668" width="5.5" height="5.5" fill="#f2e279"/>
<rect x="681" y="668" width="5.5" height="5.5" fill="#f0f279"/>
<rect x="686" y="668" width="5.5" height="5.5" fill="#e1f279"/>
<rect x="691" y="668" width="5.5" height="5.5" fill="#d1f279"/>
<rect x="696" y="668" width="5.5" height="5.5" fill="#c0f279"/>
<rect x="701" y="668" width="5.5" height="5.5" fill="#b1f279"/>
<rect x="706" y="668" width="5.5" height="5.5" fill="#a3f279"/>
<rect x="711" y="668" width="5.5" height="5.5" fill="#96f279"/>
<rect x="716" y="668" width="5.5" height="5.5" fill="#8af279"/>
<rect x="721" y="668" width="5.5" height="5.5" fill="#80f279"/>
<rect x="726" y="668" width="5.5" height="5.5" fill="#77f377"/>
<rect x="731" y="668" width="5.5" height="5.5" fill="#62f56b"/>
<rect x="736" y="668" width="5.5" height="5.5" fill="#4df760"/>
<rect x="741" y="668" width="5.5" height="5.5" fill="#36f954"/>
<rect x="746" y="668" width="5.5" height="5.5" fill="#1efc48"/>
<rect x="751" y="668" width="5.5" height="5.5" fill="#05fe3d"/>
<rect x="756" y="668" width="5.5" height="5.5" fill="#00ff40"/>
<rect x="761" y="668" width="5.5" height="5.5" fill="#00ff47"/>
<rect x="556" y="673" width="5.5" height="5.5" fill="#ff0020"/>
<rect x="561" y="673" width="5.5" height="5.5" fill="#ff001e"/>
<rect x="566" y="673" width="5.5" height="5.5" fill="#ff001c"/>
<rect x="571" y="673" width="5.5" height="5.5" fill="#ff0019"/>
<rect x="576" y="673" width="5.5" height="5.5" fill="#ff0016"/>
<rect x="581" y="673" width="5.5" height="5.5" fill="#ff0518"/>
<rect x="586" y="673" width="5.5" height="5.5" fill="#fc1927"/>
<rect x="591" y="673" width="5.5" height="5.5" fill="#fa2d37"/>
<rect x="596" y="673" width="5.5" height="5.5" fill="#f84046"/>
<rect x="601" y="673" width="5.5" height="5.5" fill="#f65355"/>
<rect x="606" y="673" width="5.5" height="5.5" fill="#f56464"/>
<rect x="611" y="673" width="5.5" height="5.5" fill="#f56864"/>
<rect x="616" y="673" width="5.5" height="5.5" fill="#f56c64"/>
<rect x="621" y="673" width="5.5" height="5.5" fill="#f57164"/>
<rect x="626" y="673" width="5.5" height="5.5" fill="#f57764"/>
<rect x="631" y="673" width="5.5" height="5.5" fill="#f57d64"/>
<rect x="636" y="673" width="5.5" height="5.5" fill="#f58464"/>
<rect x="641" y="673" width="5.5" height="5.5" fill="#f58c64"/>
<rect x="646" y="673" width="5.5" height="5.5" fill="#f59564"/>
<rect x="651" y="673" width="5.5" height="5.5" fill="#f59f64"/>
<rect x="656" y="673" width="5.5" height="5.5" fill="#f5ab64"/>
<rect x="661" y="673" width="5.5" height="5.5" fill="#f5b864"/>
<rect x="666" y="673" width="5.5" height="5.5" fill="#f5c764"/>
<rect x="671" y="673" width="5.5" height="5.5" fill="#f5d864"/>
<rect x="676" y="673" width="5.5" height="5.5" fill="#f5ea64"/>
<rect x="681" y="673" width="5.5" height="5.5" fill="#edf564"/>
<rect x="686" y="673" width="5.5" height="5.5" fill="#ddf564"/>
<rect x="691" y="673" width="5.5" height="5.5" fill="#ccf564"/>
<rect x="696" y="673" width="5.5" height="5.5" fill="#bbf564"/>
<rect x="701" y="673" width="5.5" height="5.5" fill="#abf564"/>
<rect x="706" y="673" width="5.5" height="5.5" fill="#9cf564"/>
<rect x="711" y="673" width="5.5" height="5.5" fill="#8ef564"/>
<rect x="716" y="673" width="5.5" height="5.5" fill="#81f564"/>
<rect x="721" y="673" width="5.5" height="5.5" fill="#76f564"/>
<rect x="726" y="673" width="5.5" height="5.5" fill="#6cf564"/>
<rect x="731" y="673" width="5.5" height="5.5" fill="#62f562"/>
<rect x="736" y="673" width="5.5" height="5.5" fill="#4cf756"/>
<rect x="741" y="673" width="5.5" height="5.5" fill="#36f949"/>
<rect x="746" y="673" width="5.5" height="5.5" fill="#1efc3d"/>
<rect x="751" y="673" width="5.5" height="5.5" fill="#05fe30"/>
<rect x="756" y="673" width="5.5" height="5.5" fill="#00ff34"/>
<rect x="761" y="673" width="5.5" height="5.5" fill="#00ff3b"/>
<rect x="556" y="678" width="5.5" height="5.5" fill="#ff0019"/>
<rect x="561" y="678" width="5.5" height="5.5" fill="#ff0016"/>
<rect x="566" y="678" width="5.5" height="5.5" fill="#ff0014"/>
<rect x="571" y="678" width="5.5" height="5.5" fill="#ff0011"/>
<rect x="576" y="678" width="5.5" height="5.5" fill="#ff0512"/>
<rect x="581" y="678" width="5.5" height="5.5" fill="#fc1922"/>
<rect x="586" y="678" width="5.5" height="5.5" fill="#fa2d32"/>
<rect x="591" y="678" width="5.5" height="5.5" fill="#f84042"/>
<rect x="596" y="678" width="5.5" height="5.5" fill="#f74e4d"/>
<rect x="601" y="678" width="5.5" height="5.5" fill="#f7534d"/>
<rect x="606" y="678" width="5.5" height="5.5" fill="#f7574d"/>
<rect x="611" y="678" width="5.5" height="5.5" fill="#f75c4d"/>
<rect x="616" y="678" width="5.5" height="5.5" fill="#f7624d"/>
<rect x="621" y="678" width="5.5" height="5.5" fill="#f7684d"/>
<rect x="626" y="678" width="5.5" height="5.5" fill="#f76f4d"/>
<rect x="631" y="678" width="5.5" height="5.5" fill="#f7774d"/>
<rect x="636" y="678" width="5.5" height="5.5" fill="#f77f4d"/>
<rect x="641" y="678" width="5.5" height="5.5" fill="#f7894d"/>
<rect x="646" y="678" width="5.5" height="5.5" fill="#f7944d"/>
<rect x="651" y="678" width="5.5" height="5.5" fill="#f79f4d"/>
<rect x="656" y="678" width="5.5" height="5.5" fill="#f7ad4d"/>
<rect x="661" y="678" width="5.5" height="5.5" fill="#f7bc4d"/>
<rect x="666" y="678" width="5.5" height="5.5" fill="#f7cd4d"/>
<rect x="671" y="678" width="5.5" height="5.5" fill="#f7df4d"/>
<rect x="676" y="678" width="5.5" height="5.5" fill="#f7f34d"/>
<rect x="681" y="678" width="5.5" height="5.5" fill="#eaf74d"/>
<rect x="686" y="678" width="5.5" height="5.5" fill="#d9f74d"/>
<rect x="691" y="678" width="5.5" height="5.5" fill="#c8f74d"/>
<rect x="696" y="678" width="5.5" height="5.5" fill="#b6f74d"/>
<rect x="701" y="678" width="5.5" height="5.5" fill="#a5f74d"/>
<rect x="706" y="678" width="5.5" height="5.5" fill="#95f74d"/>
<rect x="711" y="678" width="5.5" height="5.5" fill="#86f74d"/>
<rect x="716" y="678" width="5.5" height="5.5" fill="#78f74d"/>
<rect x="721" y="678" width="5.5" height="5.5" fill="#6bf74d"/>
<rect x="726" y="678" width="5.5" height="5.5" fill="#60f74d"/>
<rect x="731" y="678" width="5.5" height="5.5" fill="#56f74d"/>
<rect x="736" y="678" width="5.5" height="5.5" fill="#4cf74c"/>
<rect x="741" y="678" width="5.5" height="5.5" fill="#35fa3f"/>
<rect x="746" y="678" width="5.5" height="5.5" fill="#1efc32"/>
<rect x="751" y="678" width="5.5" height="5.5" fill="#06fe25"/>
<rect x="756" y="678" width="5.5" height="5.5" fill="#00ff28"/>
<rect x="761" y="678" width="5.5" height="5.5" fill="#00ff2f"/>
<rect x="556" y="683" width="5.5" height="5.5" fill="#ff0011"/>
<rect x="561" y="683" width="5.5" height="5.5" fill="#ff000f"/>
<rect x="566" y="683" width="5.5" height="5.5" fill="#ff000c"/>
<rect x="571" y="683" width="5.5" height="5.5" fill="#ff050d"/>
<rect x="576" y="683" width="5.5" height="5.5" fill="#fc191e"/>
<rect x="581" y="683" width="5.5" height="5.5" fill="#fa2d2e"/>
<rect x="586" y="683" width="5.5" height="5.5" fill="#f93836"/>
<rect x="591" y="683" width="5.5" height="5.5" fill="#f93d36"/>
<rect x="596" y="683" width="5.5" height="5.5" fill="#f94236"/>
<rect x="601" y="683" width="5.5" height="5.5" fill="#f94736"/>
<rect x="606" y="683" width="5.5" height="5.5" fill="#f94c36"/>
<rect x="611" y="683" width="5.5" height="5.5" fill="#f95336"/>
<rect x="616" y="683" width="5.5" height="5.5" fill="#f95a36"/>
<rect x="621" y="683" width="5.5" height="5.5" fill="#f96136"/>
<rect x="626" y="683" width="5.5" height="5.5" fill="#f96936"/>
<rect x="631" y="683" width="5.5" height="5.5" fill="#f97236"/>
<rect x="636" y="683" width="5.5" height="5.5" fill="#f97c36"/>
<rect x="641" y="683" width="5.5" height="5.5" fill="#f98736"/>
<rect x="646" y="683" width="5.5" height="5.5" fill="#f99436"/>
<rect x="651" y="683" width="5.5" height="5.5" fill="#f9a236"/>
<rect x="656" y="683" width="5.5" height="5.5" fill="#f9b136"/>
<rect x="661" y="683" width="5.5" height="5.5" fill="#f9c136"/>
<rect x="666" y="683" width="5.5" height="5.5" fill="#f9d436"/>
<rect x="671" y="683" width="5.5" height="5.5" fill="#f9e836"/>
<rect x="676" y="683" width="5.5" height="5.5" fill="#f7f936"/>
<rect x="681" y="683" width="5.5" height="5.5" fill="#e6f936"/>
<rect x="686" y="683" width="5.5" height="5.5" fill="#d5f936"/>
<rect x="691" y="683" width="5.5" height="5.5" fill="#c3f936"/>
<rect x="696" y="683" width="5.5" height="5.5" fill="#b1f936"/>
<rect x="701" y="683" width="5.5" height="5.5" fill="#9ff936"/>
<rect x="706" y="683" width="5.5" height="5.5" fill="#8ef936"/>
<rect x="711" y="683" width="5.5" height="5.5" fill="#7ef936"/>
<rect x="716" y="683" width="5.5" height="5.5" fill="#6ff936"/>
<rect x="721" y="683" width="5.5" height="5.5" fill="#61f936"/>
<rect x="726" y="683" width="5.5" height="5.5" fill="#55f936"/>
<rect x="731" y="683" width="5.5" height="5.5" fill="#49f936"/>
<rect x="736" y="683" width="5.5" height="5.5" fill="#3ff936"/>
<rect x="741" y="683" width="5.5" height="5.5" fill="#35fa35"/>
<rect x="746" y="683" width="5.5" height="5.5" fill="#1efc27"/>
<rect x="751" y="683" width="5.5" height="5.5" fill="#05fe19"/>
<rect x="756" y="683" width="5.5" height="5.5" fill="#00ff1d"/>
<rect x="761" y="683" width="5.5" height="5.5" fill="#00ff24"/>
<rect x="556" y="688" width="5.5" height="5.5" fill="#ff000a"/>
<rect x="561" y="688" width="5.5" height="5.5" fill="#ff0007"/>
<rect x="566" y="688" width="5.5" height="5.5" fill="#ff0409"/>
<rect x="571" y="688" width="5.5" height="5.5" fill="#fd191a"/>
<rect x="576" y="688" width="5.5" height="5.5" fill="#fc211e"/>
<rect x="581" y="688" width="5.5" height="5.5" fill="#fc261e"/>
<rect x="586" y="688" width="5.5" height="5.5" fill="#fc2b1e"/>
<rect x="591" y="688" width="5.5" height="5.5" fill="#fc301e"/>
<rect x="596" y="688" width="5.5" height="5.5" fill="#fc361e"/>
<rect x="601" y="688" width="5.5" height="5.5" fill="#fc3c1e"/>
<rect x="606" y="688" width="5.5" height="5.5" fill="#fc431e"/>
<rect x="611" y="688" width="5.5" height="5.5" fill="#fc4a1e"/>
<rect x="616" y="688" width="5.5" height="5.5" fill="#fc521e"/>
<rect x="621" y="688" width="5.5" height="5.5" fill="#fc5b1e"/>
<rect x="626" y="688" width="5.5" height="5.5" fill="#fc651e"/>
<rect x="631" y="688" width="5.5" height="5.5" fill="#fc6f1e"/>
<rect x="636" y="688" width="5.5" height="5.5" fill="#fc7b1e"/>
<rect x="641" y="688" width="5.5" height="5.5" fill="#fc881e"/>
<rect x="646" y="688" width="5.5" height="5.5" fill="#fc961e"/>
<rect x="651" y="688" width="5.5" height="5.5" fill="#fca51e"/>
<rect x="656" y="688" width="5.5" height="5.5" fill="#fcb61e"/>
<rect x="661" y="688" width="5.5" height="5.5" fill="#fcc81e"/>
<rect x="666" y="688" width="5.5" height="5.5" fill="#fcdc1e"/>
<rect x="671" y="688" width="5.5" height="5.5" fill="#fcf11e"/>
<rect x="676" y="688" width="5.5" height="5.5" fill="#f4fc1e"/>
<rect x="681" y="688" width="5.5" height="5.5" fill="#e2fc1e"/>
<rect x="686" y="688" width="5.5" height="5.5" fill="#d0fc1e"/>
<rect x="691" y="688" width="5.5" height="5.5" fill="#bdfc1e"/>
<rect x="696" y="688" width="5.5" height="5.5" fill="#abfc1e"/>
<rect x="701" y="688" width="5.5" height="5.5" fill="#99fc1e"/>
<rect x="706" y="688" width="5.5" height="5.5" fill="#87fc1e"/>
<rect x="711" y="688" width="5.5" height="5.5" fill="#76fc1e"/>
<rect x="716" y="688" width="5.5" height="5.5" fill="#66fc1e"/>
<rect x="721" y="688" width="5.5" height="5.5" fill="#58fc1e"/>
<rect x="726" y="688" width="5.5" height="5.5" fill="#4afc1e"/>
<rect x="731" y="688" width="5.5" height="5.5" fill="#3dfc1e"/>
<rect x="736" y="688" width="5.5" height="5.5" fill="#32fc1e"/>
<rect x="741" y="688" width="5.5" height="5.5" fill="#27fc1e"/>
<rect x="746" y="688" width="5.5" height="5.5" fill="#1dfc1e"/>
<rect x="751" y="688" width="5.5" height="5.5" fill="#05fe0f"/>
<rect x="756" y="688" width="5.5" height="5.5" fill="#00ff12"/>
<rect x="761" y="688" width="5.5" height="5.5" fill="#00ff1a"/>
<rect x="556" y="693" width="5.5" height="5.5" fill="#ff0003"/>
<rect x="561" y="693" width="5.5" height="5.5" fill="#ff0404"/>
<rect x="566" y="693" width="5.5" height="5.5" fill="#fe0905"/>
<rect x="571" y="693" width="5.5" height="5.5" fill="#fe0e05"/>
<rect x="576" y="693" width="5.5" height="5.5" fill="#fe1305"/>
<rect x="581" y="693" width="5.5" height="5.5" fill="#fe1905"/>
<rect x="586" y="693" width="5.5" height="5.5" fill="#fe1f05"/>
<rect x="591" y="693" width="5.5" height="5.5" fill="#fe2505"/>
<rect x="596" y="693" width="5.5" height="5.5" fill="#fe2c05"/>
<rect x="601" y="693" width="5.5" height="5.5" fill="#fe3305"/>
<rect x="606" y="693" width="5.5" height="5.5" fill="#fe3b05"/>
<rect x="611" y="693" width="5.5" height="5.5" fill="#fe4405"/>
<rect x="616" y="693" width="5.5" height="5.5" fill="#fe4d05"/>
<rect x="621" y="693" width="5.5" height="5.5" fill="#fe5705"/>
<rect x="626" y="693" width="5.5" height="5.5" fill="#fe6205"/>
<rect x="631" y="693" width="5.5" height="5.5" fill="#fe6e05"/>
<rect x="636" y="693" width="5.5" height="5.5" fill="#fe7b05"/>
<rect x="641" y="693" width="5.5" height="5.5" fill="#fe8905"/>
<rect x="646" y="693" width="5.5" height="5.5" fill="#fe9905"/>
<rect x="651" y="693" width="5.5" height="5.5" fill="#fea905"/>
<rect x="656" y="693" width="5.5" height="5.5" fill="#febc05"/>
<rect x="661" y="693" width="5.5" height="5.5" fill="#fecf05"/>
<rect x="666" y="693" width="5.5" height="5.5" fill="#fee405"/>
<rect x="671" y="693" width="5.5" height="5.5" fill="#fefb05"/>
<rect x="676" y="693" width="5.5" height="5.5" fill="#f0fe05"/>
<rect x="681" y="693" width="5.5" height="5.5" fill="#defe05"/>
<rect x="686" y="693" width="5.5" height="5.5" fill="#cbfe05"/>
<rect x="691" y="693" width="5.5" height="5.5" fill="#b8fe05"/>
<rect x="696" y="693" width="5.5" height="5.5" fill="#a5fe05"/>
<rect x="701" y="693" width="5.5" height="5.5" fill="#92fe05"/>
<rect x="706" y="693" width="5.5" height="5.5" fill="#80fe05"/>
<rect x="711" y="693" width="5.5" height="5.5" fill="#6efe05"/>
<rect x="716" y="693" width="5.5" height="5.5" fill="#5efe05"/>
<rect x="721" y="693" width="5.5" height="5.5" fill="#4efe05"/>
<rect x="726" y="693" width="5.5" height="5.5" fill="#3ffe05"/>
<rect x="731" y="693" width="5.5" height="5.5" fill="#32fe05"/>
<rect x="736" y="693" width="5.5" height="5.5" fill="#25fe05"/>
<rect x="741" y="693" width="5.5" height="5.5" fill="#19fe05"/>
<rect x="746" y="693" width="5.5" height="5.5" fill="#0ffe05"/>
<rect x="751" y="693" width="5.5" height="5.5" fill="#05ff05"/>
<rect x="756" y="693" width="5.5" height="5.5" fill="#00ff09"/>
<rect x="761" y="693" width="5.5" height="5.5" fill="#00ff11"/>
<rect x="556" y="698" width="5.5" height="5.5" fill="#ff0500"/>
<rect x="561" y="698" width="5.5" height="5.5" fill="#ff0a00"/>
<rect x="566" y="698" width="5.5" height="5.5" fill="#ff0e00"/>
<rect x="571" y="698" width="5.5" height="5.5" fill="#ff1300"/>
<rect x="576" y="698" width="5.5" height="5.5" fill="#ff1900"/>
<rect x="581" y="698" width="5.5" height="5.5" fill="#ff1f00"/>
<rect x="586" y="698" width="5.5" height="5.5" fill="#ff2500"/>
<rect x="591" y="698" width="5.5" height="5.5" fill="#ff2c00"/>
<rect x="596" y="698" width="5.5" height="5.5" fill="#ff3300"/>
<rect x="601" y="698" width="5.5" height="5.5" fill="#ff3b00"/>
<rect x="606" y="698" width="5.5" height="5.5" fill="#ff4300"/>
<rect x="611" y="698" width="5.5" height="5.5" fill="#ff4c00"/>
<rect x="616" y="698" width="5.5" height="5.5" fill="#ff5600"/>
<rect x="621" y="698" width="5.5" height="5.5" fill="#ff6000"/>
<rect x="626" y="698" width="5.5" height="5.5" fill="#ff6c00"/>
<rect x="631" y="698" width="5.5" height="5.5" fill="#ff7800"/>
<rect x="636" y="698" width="5.5" height="5.5" fill="#ff8500"/>
<rect x="641" y="698" width="5.5" height="5.5" fill="#ff9300"/>
<rect x="646" y="698" width="5.5" height="5.5" fill="#ffa300"/>
<rect x="651" y="698" width="5.5" height="5.5" fill="#ffb400"/>
<rect x="656" y="698" width="5.5" height="5.5" fill="#ffc600"/>
<rect x="661" y="698" width="5.5" height="5.5" fill="#ffd900"/>
<rect x="666" y="698" width="5.5" height="5.5" fill="#ffed00"/>
<rect x="671" y="698" width="5.5" height="5.5" fill="#fcff00"/>
<rect x="676" y="698" width="5.5" height="5.5" fill="#ecff00"/>
<rect x="681" y="698" width="5.5" height="5.5" fill="#daff00"/>
<rect x="686" y="698" width="5.5" height="5.5" fill="#c9ff00"/>
<rect x="691" y="698" width="5.5" height="5.5" fill="#b7ff00"/>
<rect x="696" y="698" width="5.5" height="5.5" fill="#a5ff00"/>
<rect x="701" y="698" width="5.5" height="5.5" fill="#93ff00"/>
<rect x="706" y="698" width="5.5" height="5.5" fill="#82ff00"/>
<rect x="711" y="698" width="5.5" height="5.5" fill="#71ff00"/>
<rect x="716" y="698" width="5.5" height="5.5" fill="#61ff00"/>
<rect x="721" y="698" width="5.5" height="5.5" fill="#52ff00"/>
<rect x="726" y="698" width="5.5" height="5.5" fill="#43ff00"/>
<rect x="731" y="698" width="5.5" height="5.5" fill="#36ff00"/>
<rect x="736" y="698" width="5.5" height="5.5" fill="#29ff00"/>
<rect x="741" y="698" width="5.5" height="5.5" fill="#1eff00"/>
<rect x="746" y="698" width="5.5" height="5.5" fill="#13ff00"/>
<rect x="751" y="698" width="5.5" height="5.5" fill="#09ff00"/>
<rect x="756" y="698" width="5.5" height="5.5" fill="#00ff00"/>
<rect x="761" y="698" width="5.5" height="5.5" fill="#00ff08"/>
</g></g>
<path d="M561.5,696.5 L754.4,696.5 Q757.5,606.0 724.7,531.8 Z" fill="none" stroke="#888" stroke-width="0.6" opacity="0.5"/>
<text x="724" y="526.5" class="ipf">&lt;111&gt;</text>
<text x="517" y="726.5" class="ipf">&lt;001&gt;</text>
<text x="733" y="726.5" class="ipf">&lt;101&gt;</text>
<defs><clipPath id="gbox"><rect x="916" y="83" width="577.5" height="564.5"/></clipPath></defs>
<g clip-path="url(#gbox)"><path transform="scale(0.5)" d="M1832 187l12 10 15 26M1943 166l4 8 6 6M1990 166l4 6 13 4 20 3M1842 267l11-7 20 0 2-4M1845 267l1 59 6 4 1 29M1856 359l23 25-10 12-21 1-7-7 0-19 15-12M1878 387l18 9 4 12 6 14-6 5-4 22-7 11-10 6M1848 397l-1 11 5 29 13 16 12 13M1915 256l3 13 25 8 10-19 23-1M1976 257l-13 24-16 16-3 13 3 12 2 37 6 21 8 16 9 10 6 17 2 24 4 19M1976 257l8 26 12 23 4 14 13 16 10 15 0 31 16 14M2017 256l6 21 6 29 4 28 6 19 4 20 3 15-7 8M2039 396l1 16-11 13-6 24 0 17M1983 449l7 2M2099 166l8 16 8 17 9 14 8 6M2115 199l-3 10-1 10 3 9 1 14 4 2 13-4M2115 242l4 12 5 23 4 20-4 27-5 6 5 11 8 10M2132 373l-13 7-5 8-1 35 6 14 7 16 2 13M2142 166l5 12 1 39 9 17 10 12 0 12M2170 166l0 62 5 6 1 22M2167 258l9-2M2167 258l-2 15-8 20-5 21 3 27-2 20 0 37 6 31 10 12 14 12-4 13M2176 256l9 17 13 16 18 17 0 16-6 8-2 17 3 14-5 14-8 11-4 16-5 27-3 24 8 13M2268 166l0 43 6 14 6 21 5 12 0 25-20 16-24 13-15 10 5 14 16 4 12 7 9 6 12-10M2285 281l-3 8 0 52M2280 341l14 16 1 37-4 12-1 27 6 16 4 17M2323 166l6 12-2 19-7 10-2 12 1 21-6 12 0 21 6 16 6 21 4 20 0 15-5 14 0 16 9 13 17 14 8 23 2 28-4 13M2351 166l3 12-8 9 0 10M2346 197l-17 12 17 27 5-8-3-29M2346 236l2 12 2 25-7 20-2 29 9 16 16 21 12 1M2354 178l12 23 6 20 15 19 10 25 1 28M2398 293l-9 9-1 20 5 14 12-10 0-20-7-13M2378 360l15-24M2378 360l11 13 12 1 6-11 8-4M2397 336l2 11 8 12 8 0-4-14-4-15M2401 374l4 14 0 20-8 9-1 32 3 17M2415 359l13 16 4 17M2407 330l8 27 15 20 2 37M2132 219l2 3 0 14-2 4M2132 351l5 8 1 7-6 7M2515 166l0 21-5 6 8 18 17 19 9-7 0-24 3-2M2547 166l0 31 29 31 12 2 21-15M2608 166l0 49 5 13 6 20 1 6-7 6 0 17 6 14 2 35-8 8 0 19-13 10-8 19-4 12 1 20 7 23 6 29M2620 254l9 11 17 2 28 28 15 27 18 21 2 10M2621 326l1 31 7 18 8 13 9 20 1 45-1 13M2646 453l7 5 1 8M2699 166l0 21-4 6 0 55 4 4-2 17-2 43 12 22M2709 353l-4 4 0 20 12 11 9 18-1 8-1 52M2709 353l8 2 15 10M2543 322l16 14 2 29-10 19-16-7-11-14 1-18 18-23M2432 388l2 24 6 2 0 7 8 8 7 16 6 21M2732 365l26 19 29-21 4-8 1-37M2754 166l2 35 6 18 12 25 6 10M2780 254l8 9-1 14-7 6-7-10 1-13 6-6M2780 283l2 14 9 21 6-19 8-14 12-9 13-1 8-8-8-13 4-14 14-12M2848 228l6-21 4-10 0-21 4-10M2862 166l3 33 18 27 4 2 10-17 2-14 0-31M2887 228l2 18 15 14 16 11 4 28 2 62 10 27 9 20-4 17M2848 228l6 16 4 14-8 5-6 12 4 14-2 29-8 23 6 18 6 10 2 29 8 4 11 12 12 19 4 20 2 13M2858 258l11 31 12 21 6 28 2 29 23 6 6 9 2 43 6 41M2920 425l8 4 15-4 6 16-2 25M2789 363l10 19 6 20 2 51 4 13M2758 384l2 28 4 29 12 17 2 8M2708 353l-4 4 0 20 13 11 10 20-3 9 0 49M2850 369l10 0 9-14 6 8-4 12-9 9-2 18M2977 166l9 12M2801 400l12 4M1869 456l8 9 15-1 6-8M1898 456l4 16 4 7 0 32-6 7-19 14 0 14 2 11M1902 472l-8 15-11 10-13 16 3 17 8 2M1883 557l-12 4-10 8-4 10 8 4 6 17 4 18 14 17 9 10 2 27 6 24 4 25 6 10 13 25M1883 557l11 22 6 8 14 19 4 14 13 25 6 12 6 21 10 10 10 10M1832 618l8 2 15 15 2 22-19 3-6 0M1857 657l16 21 8 14 6 31 7 10 0 23M1894 733l20 0M1984 456l0 8-12 6-7 13-2 10 5 16 4 9 2 49-2 10 6 27 6 10 0 21 10 18 0 17M1984 464l4 45 8 9 13 16 4 12 4 27 0 6M2017 579l14 10 2 25 4 14-16 0-12-10-1-29 9-10M1984 633l-21 0-10 10 0 43 10 12M1953 643l-10-8-4 18M1994 670l-18 0-8 10-5 18M1994 670l8 22 11 23 2 18 12 23M1963 698l13 21 8 16 6 17 0 4M1990 748l23-15M2023 456l0 25 6 16 12 12 9 17 6 18 2 27 4 12 27 25M2037 628l13 13 12 10 12 5 13-2 4-7 0-39M2089 608l14-14 12-2-2-13 4-26 7-11 6-8 2-10M2128 456l1 25 3 6M2115 592l2 16 0 29 2 6-6 10-10 17-6 10 0 16 4 19M2101 715l-14 12-4 16 0 13M2101 715l14 8 17 8M2183 456l-10 16-6 19-1 29 7 18 0 25-6 20 2 21 16 16 2 13-10 20-2 14 0 35 10 25 9 16 10 13M2183 456l13 16 18 33 19 35 6 19 2 24 12 23 12 31 3 30 16 31 4 6M2288 704l10 15-10 10-10-6 2-12 8-7M2288 729l10 14-2 13M2298 746l19 0 12 10M2296 456l4 14 9 27 8 19 14 20 4 14 13 13 4 12-2 33-7 23-6 18 0 29 11 16 2 15-2 34 8 13M2360 456l-4 8 0 52 22 22 7 15 14 32-4 15-12 2-11 10-4 14-12 13 2 8 14 14 2 13 13 10 14-12 0-33 10-19 8-14 9 4 4 2M2401 456l2 53 4 13 4 31 17 34 4 17M2132 729l8-4 13-17 12 11 16 37M2304 603l9 6M2453 456l10 25 16 18 10 19 5 12M2494 530l10 6 0 14-8 13-4-4 0-23 2-6M2496 563l0 20-4 2-13 11-3 4-1 37-3 4 1 29 4 4 0 39-8 8-8 0-17-12-8-17 0-22 4-3-2-30-6-13M2496 587l8 17 10 16 6 17 15 14 4 10 2 23 6 10 16 17 25 0 4 6M2600 456l2 27-6 14-12 10-2 17-6 10 0 45 4 8 0 31 4 6 0 46 8 14 0 33 4 16 11 19 6 4M2444 709l0 47M2463 721l2 35M2471 721l14 14 15 21M2487 713l21 14-6 12-10 4-5-14 0-16M2646 456l0 23 10 6 2-8-4-19M2658 477l0 34-4 11-4 6M2650 528l18 18 4 7-6 12-12-6-8-21 4-10M2666 565l6 14 0 10-4 7-16 0-17 16 19 21 24 18M2668 596l8 24 2 31M2678 651l9 14 6 5 6 32 12 5 13 14 8 10M2678 651l-2 33 9 6 2 19-7 12-14-6-10-8-19 0-2 20 4 29M2699 702l0 33 10 15 4 6M2724 456l0 16 4 5 0 55 4 6M2440 756l4-13 11 0 6 9M2723 456l1 16 13 7 8 6 17 2 10-8 6-2-1-21M2724 472l3 60 14 18 6 13 0 57-6 6 0 11 11 14 8 16 0 37 8 19 10 16 23 17M2778 739l-8 9-2 8M2809 456l0 14-4 4 0 29 8 8 10 31-4 4 1 33 6 10 2 13 6 2M2834 604l-4 12-2 12-4 9-1 41-4 8-2 14 4 15 17 8 14 20 6 13M2834 604l12 10 12 19 4 18 5 12-5 11 0 35M2862 709l-16 6-8 8M2862 709l19 12 10 10 8 17 2 8M2883 456l6 12 8 6 31 0 0-18M2889 468l-4 4 0 21 6 2 8 14 0 15-6 6-2 4M2885 493l-4 4 0 16 10 17 6-4M2891 534l8 19 7 14 10 12 10 19 12 18 3 8M2941 624l12 4 12 15 12 0 9 6M2941 624l0 25 10 21 6 8 8 6 17 0M2957 678l-6 8-4 10 2 6 2 31 6 15 4 8M2947 456l0 21 4 26 10 23 12 20 2 33 7 21-2 24-3 19M2690 665l4 7 6 28-2 35 6 13 9 8M2700 702l11 5 12 14 14 16 2 19M2986 721l-6 6-3 29M2132 487l2 18-2 19M1892 746l0 29 6 12 2 27 6 18 0 15M1832 828l10 8 11 15 12 14 8-6 12-4 15-8 14 4 6 4M1920 855l11 10-2 10-11 9-2-15 4-14M1918 884l-10 6-6 12-6 14-15 0-6 11 4 18 10 12 11 13M1896 916l8 9 1 18-5 8 0 19M1832 886l12 4 23-11 8 11 4 20 2 6M1844 890l2 16 9 10-2 19-3 27 13 6 4 8 12 12 0 45-4 13M1900 970l14 12 8 0 7 6 6 21-2 10-7 4-4-8-2-27M1926 1023l0 10 5 13M1924 746l9 25 2 24 6 25 6 14 12 6M1959 840l6-24 7-19 6-2 14-12 4-8-6-8 0-21M1996 775l11 8 12 0 10-8-2-25-4-4M2007 783l-5 8 2 17 9 12 0 20 2 5-2 8M1978 795l4 13 2 28 8 15 15 6 6-4M1959 840l6 17 9 25 8 12 14 16 4 17 0 14-8 14 15 15M2013 853l12 10 6 14 2 13-12 4-8-6-6-15 0-16M2033 890l6 12 4 25 7 14 4 10 0 54-6 12-11 14 2 15M2021 894l-6 16 2 17 2 6-8 18-4 19 6 10-2 12 10 19 4 22 2 13M2019 933l16-2 6-4M2007 970l-25 0-29-19-10-4-12 4 10 13 22 24 15 15 18 14 6-20 11-9M2083 746l0 43 6 14 14 19 4 12-2 68-8 12-6 21 2 16 6 17-2 24-6 13-2 28-2 13M2089 1031l10 5 6 10M2179 746l0 29-16 12-8 12-2 25-1 21 7 24 2 17 8 16-4 19-17 14-1 27 8 10 2 74M2179 775l-8 8-1 25 7 28 10 21 7 12 0 41M2192 746l10 12 18 15 0 10-12 6-6 0-21-10M2202 789l4 12 2 23 8 8 2 6M2214 834l31 0 4 23 10 29 4 14-2 12-10-2-6-6-14 0M2218 838l-2 23 2 16 8 17 5 10 0 37M2218 855l13 12 8 15 6 22M2194 910l8 8 2 11-6 4-11-8 2-11 5-4M2198 933l8 6 10 4 15-2M2220 943l0 60M2231 941l12 12 6 15 2 24 8 15 9 16 8 19M2220 1003l-10 2-10 6-13-2-4 10 6 14 0 13M2210 1005l6 14 0 27M2220 1003l11 8 16 18 8 17M2276 1042l16-6 17-9 18 4 2 15M2298 746l-2 6-2 49-6 9-2 28 8 13 4 16 9 10 2 21 12 14 6 15 2 41 2 14-6 19 0 18 29 27M2298 746l23 2 10 8 4 21 2 29 9 8 12-8 6-17 0-20-12-23M2346 814l0 16 26 0 13 19 2 49-4 12 2 17-2 45 4 25M2346 830l-5 10 2 33 5 29 10 23 2 22 4 21 12 14 2 10M2370 992l17 2 16 13 8 12 2 14 4 13M2370 992l-2 54M2432 832l-15 29-4 37 0 37 11 16 4 19-4 39-7 12 0 25M2300 869l9 8 0 17-9-2-1-15 1-8M2280 951l10-6 4 19 10 6-10 2-2-10M2440 746l0 27-4 6 0 53-4 8M2440 773l10 2 9 12 4 21 6 8M2463 814l10 8 4 21-6 14-6 2-6-14-5-13 1-14 8-4M2467 859l2 23 2 22-4 6 0 15M2453 746l12 16 8 11 10 12 15 6 8-4 4-6-6-19-12-16M2485 787l9 27 8 31 16 16 4 10M2510 785l14 14 9 13 4 22 0 27-11 8-4 2M2522 871l7 19 6 16 2 21-2 30-2 27 2 8 12 13 12 16 17-12 8-17 0-32-8-19-6-12 2-4M2537 861l12 16 6 29 8 15 11 6 16-13M2590 914l2-24 0-41-4-17-4-45 10-16 13-17-7-8M2607 754l18 17 10 16 6 8 11 17 4 26-10 15 6 12 8 23M2639 746l2 10 7 25-7 14M2656 840l8 7 14-19 17-10 14-10 15-13 8-8M2705 746l8 6 0 19-4 6 0 31M2590 914l6 15 17 20 24 25 6 14 0 23-6 4-2 31M2660 888l-12 14-11 23-22 26-2 17-2 24 6 13 18 14M2660 888l10 6 2 10-4 6-2 41-2 6 6 11 0 18-4 11-16 8-7 8 0 33M2666 997l12 12 9 14 8 23M2670 962l8-17 17-18 27-2 10-11M2467 925l12 14 19 16 16 13 10 18 7 2M2469 927l-1 51 15 14 2 17 1 37M2477 935l2 33 8 12 0 23 7 22 2 21M2533 990l4 13 2 43M2547 754l12 10 2 17-14 2-8-12 8-17M2732 1027l-1 19M2732 787l18 0 2 4M2752 791l-7 6 0 35 5 4 0 19-5 6 0 33-8 16-2 6M2732 914l3 2M2735 916l6 15 6 12-4 8-7 9 0 12 11 12 9 19-9 10-14 16-2 17M2743 951l11-6 2 17-9 0-4-9M2735 746l8 16 4 17 11 6 8-2M2766 783l-2-16 4-13 6-8M2766 783l10 8 13 4 12 0 10 13 4 16-2 10-8 13-2 6M2789 795l-2 21 6 8 6 14 4 15M2803 853l2 29 10 12 4 16 4 4M2789 746l10 6 6 12 18 15 7 12 4 17 10 20 6 15 4 18 0 23 13 0 0-19 8-10 6-15 2-24-8-17-8-16-7-16-8-21M2823 914l17 7 12 14 15-4 12 6 4 8 23 10M2823 914l-6 13-2 35 8 14 15 12 4 31 12 17 6 10M2823 976l-12 10-2 41 0 11 12-5 13-12 8-2M2883 945l-14 12-7 15 9 12 8 21 6 8 14 0M2906 955l0 44-7 6 0 12 9 12 6-10 2-12-8-8M2908 1029l4 17M2879 1005l-2 28-2 13M2906 955l10-20 12-17 13-14 8-4 20 0 8 10 9 25M2941 904l-7-14-8-17-14-26-6-19-2-49-7-33M2904 779l20 0 6 6-2 16 0 19 8 10 13 4 8 2M2957 836l8 17 6 16 0 13-4 18M2965 867l6 2 2 13-8 0 0-13M2971 884l15 0M2957 836l0-28 6-5 4 21 19 4M2953 803l4-12 10-14 8-6 7-9-5-16M2957 746l8 21 2 10M2982 1038l4 8M1876 1036l-6 30 2 20 4 26 12 24 2 8M1926 1036l4 10 0 58 4 4 0 20M1934 1128l-12 8-6 12-2 16M1890 1144l-6 8 0 10 14 2 16 4 6 4 4 17-4 20-10 12-4 10-6 2M1890 1144l10 4 2 12 12 8M1884 1166l0 31 8 6 10-2 2-33M1900 1203l0 74-4 6-6 2-32 0-6 10M1832 1122l8 2 8 12 4 24 12 20 10 17 2 48 4 12 0 38M1832 1199l10 12 14 18 6 16 10 0M1862 1245l-6 6 0 44M1934 1128l0 67 6 2 16 4 16 8 13 12 8 0 8-4 16 0M1934 1195l-2 18 2 20 12 4 4 6-6 6 4 20-12 12-4 4-6 10M1942 1201l2 34M1904 1249l12 16 12 12 8 4M1948 1269l12 12 4 14M1985 1221l4 12 16 10 10 10 2 28 6 14M1989 1233l-4 16-9 10 0 10-4 8 0 18M1976 1259l13 10 4-2 6-4 12 2 2 12-12 2-2 16M2017 1217l2-10 22-18 8 16 6 12 16 0M2017 1217l2 28 12 14 12 12 2 24M2025 1036l4 8-12 20-8 24-6 24-4 10 10 12 0 38 6 8 2 27M2035 1036l10 16 14 28 2 46-8 10-2 6 6 20-12 14-4 13M2051 1136l12-8 2 26-6 8-6-6M2049 1217l0 78M2071 1217l2-28 16-17 18-14 14 10 4 16 7 0M2087 1036l0 44 8 6 0 34 8 16 2 20M2095 1086l14-14 12 4 11 0M2099 1036l8 20 2 16M2071 1217l0 26-6 20 12 8 16-4 28-2 11 0M2105 1158l4 22 2 33-12 0-6 14-2 22 4 18M2111 1213l16 12 5 4M2115 1180l10 9 2 24M2051 1271l8-6 6-2M2079 1271l2 24M2095 1267l0 28M2115 1265l0 30M1956 1044l16-2 8 4 0 58-8 0-14-8-2-40 0-12M2158 1036l0 24-10 4-16 14M2158 1060l8 22 18 34 0 12M2184 1128l6-12 14 0 14 12 16 0 2 4 24 0 18 22 17 10M2184 1128l-12 24-6 22-2 27M2184 1128l6 14-4 59 0 24M2192 1144l10 16 6 26 8 21 0 22M2190 1036l0 10 16 16 4 14 14 14 8 26 4 16M2206 1062l2-8 10-10 18 16 8 4 12-2 20-16 17-10M2252 1036l6 12 18-2M2276 1046l21 24 0 40 2 50-4 4M2299 1118l10-6 14-2 4-10-2-40 2-24M2295 1164l2 12-6 17-2 18-2 6M2297 1176l20 19 4 18 4 24M2236 1132l2 36-4 21 4 14 6 14 0 12M2132 1205l12-4 18 0 22 2M2162 1201l0 38 8 6 12-4 4-16M2186 1225l10-2 20 6 6 10 14 0 8-10M2186 1225l-2 12 12 32 2 26M2216 1229l2 26-6 16-10 10M2244 1229l8 10 18 6 8-8 11-2M2289 1235l4 10 14 4 14-4 4-8M2287 1217l6-2 6 8 0 12M2325 1237l8 8 10 2 18 0 8 6 18-4M2365 1036l-4 16 8 24 2 12-10 6-12 6-6 12 2 28 6 20 2 41 4 20 12 14 12 10 6 4M2371 1088l14 14 16 14 6-6 4-8M2365 1096l16 20 8 14 10 14 10 12 4 16 0 8M2417 1036l0 44-4 4 0 96 0 27 0 88M2413 1180l12 0 7 9M2413 1217l12-4 7 0M2413 1217l-12 8-8 14-2 10M2413 1227l12 8 7 8M2132 1229l8 16 12 12 4 28 16 0M2170 1245l4 18 2 20M2202 1281l6 14M2236 1239l8 10 0 18-6 4 2 24M2270 1245l2 20 13 4 14 2 0 24M2272 1265l-2 30M2299 1249l0 20 20-4 14 12-4 18M2321 1245l-2 20M2343 1247l0 26 10 12 0 10M2369 1253l0 22-6 20M2387 1249l-2 16 8 12 4 18M2391 1249l12 16 10 12 12-4 7 0M2377 1277l2 18M2343 1275l-10 4M2140 1285l32 0M2244 1267l12-4 12 2M2212 1184l14 0 4 5-10 6-8-6M2486 1036l0 20-8 4-2 26 10 16 0 14-10 12-6 6-8 6-4 12-4 6 0 12 18 0 0-32M2494 1036l0 20 8 6 14 8 4 24 16 8M2502 1062l2 24 12 8M2538 1036l0 14-6 4 4 28 6 10 0 8-6 6-4 14 8 20 2 24-6 12-8 17-10 24-4 16M2538 1050l18 20 16 14 25 4 6 8M2572 1084l-10 16-2 20 10 24 15 24 0 6M2635 1036l-2 10-14 14-2 12-16 14 2 10 10 26 12 22 10 14 10 24 2 11M2617 1072l16 10 12 12-4 34-2 20-4 10M2645 1036l0 14 14 14 6 12 2 12 2 14M2645 1094l2 22 16-4 6-10 0-20-14-4-10 16M2669 1102l8 20 12 10 6-8M2699 1084l10 10 0 16-14 14-8-14 0-12 12-14M2691 1036l8 16 0 32M2709 1110l12 12 4 6 7-6M2695 1124l8 10 18 10 4 4M2725 1036l0 40M2725 1148l0 32 7 2M2585 1174l-13 10 0 17 4 6 6-10 3-21M2585 1174l12 15 12 0 16 14 12-6 10-4M2597 1189l-4 20 16 12 16-14M2647 1193l14 12 6 12 0 46-10 8-12 0-6-24-30-30M2576 1207l-2 16-12 16-10 10-2 18-8 6M2574 1223l17 30 12 20 14 6 16-6 12-2M2667 1263l12 8 8 6 12-8 6-16 0-52 16-2 4-2M2705 1253l8 4 0 8-8 2-6-8 6-6M2705 1267l16 12 11 6M2514 1233l-18-2-8-18-8 4 0 22-6 12-10-2-2-8 0-24-10-14-6-14 0-15 8-4M2472 1170l10 12 6 29M2514 1233l6 20 4 10-12 4-16-10M2524 1263l18 10 2 22M2432 1182l8 11-4 16 0 8 10 18 4 22-2 20 2 18M2462 1249l4 12 8 12 2 22M2496 1257l-6 8-2 12 2 18M2510 1267l0 28M2552 1249l8 16 12 16 6 14M2556 1251l12-2 12 8 5 16 8 12 4 10M2609 1279l4 16M2645 1271l0 24M2657 1271l6 24M2687 1277l-2 18M2703 1269l0 26M2432 1277l10 0 8 18M2732 1036l-4 16-2 24 4 10 6 10 0 20-12 6 0 50 4 12M2736 1116l8 10 6 10 0 16 6 14 14 12 10 6 6 0M2726 1138l14-2 10 4M2808 1036l4 8-4 10-12 8-6 6-4 12 0 32 8 24 2 24-6 12-4 12M2786 1184l-2 9 6 24 4 24 10 12 14 10 12 0M2728 1184l8 0 8 5 12 10 12 12 4 18 0 28-2 14-6 8M2722 1186l2 43 8 20 6 16 6 30M2722 1197l-12 2-6 8 0 88M2698 1251l10 0 6 10-6 4-8-4-2-10M2690 1271l12-2 18 16 2 10M2851 1036l6 8 0 20-8 12-11 20 2 16 7 18 4 22 6 20 4 12M2857 1044l10-2 8-6M2877 1036l0 26 4 10 2 54 4 22 0 20-4 16M2861 1184l22 0M2861 1184l-10 17-8 16-5 18-6 18-2 10M2883 1184l0 29 6 4-4 12 2 16 4 22-4 12M2883 1184l8-4 10 6 6-10 4-16 4-12-2-20 4-12-4-14 10-18-6-16-4-8 0-24M2901 1186l2 31-12 0M2903 1217l6 8 4 20-6 8-4 16M2913 1245l10 8 8 14 20 2 8 4M2915 1164l8 12 16 25 12 18 12 0 8-6 12-10M2923 1176l8-24 14-12 4-16 8-4 10 6 6 4M2949 1124l0 26 10 10 8-4 0-12 6-14M2973 1130l10-4M2983 1036l-4 24 0 16-4 6 0 48M2979 1076l4 14M2983 1154l-14 16 0 27 6 10 0 18M2951 1219l2 48 6 6 8 12 4 10M2975 1225l-2 22 2 20 8 18M2903 1269l0 26M2830 1263l13-2 8-4 16 14 12 10 8-2M2830 1263l-12 8-4 10 6 14M2851 1257l-8 18 4 20M2764 1279l-14 2-28 4M2772 1271l10 10 8-2 10-12 10 0 8 4M2790 1279l4 16M2891 1267l12 2M2923 1271l0 24M2951 1269l-2 26M2875 1281l0 14M2768 1096l5 4M2774 1111l5 2M1835 1276l1 20M1864 1280l1 16M1894 1268l0 28M1926 1276l2 20M1943 1274l-1 22M1968 1275l-3 21M1988 1272l2 24M2016 1270l2 26M2034 1276l-2 20M2050 1279l-2 17M2070 1281l2 15M2090 1280l0 16M2117 1271l3 25M2144 1281l2 15M2165 1273l-2 23M2183 1269l-1 27M2209 1268l1 28M2230 1272l2 24M2254 1272l0 24M2281 1269l3 27M2298 1278l2 18M2314 1278l-1 18M2339 1268l-3 28M2358 1280l-2 16M2386 1280l3 16M2408 1273l0 23M2436 1269l1 27M2465 1279l-3 17M2496 1269l-1 27M2522 1280l-1 16M2552 1275l-1 21M2573 1270l-2 26M2592 1277l3 19M2610 1269l3 27M2635 1273l-2 23M2661 1279l-1 17M2683 1269l3 27M2700 1274l2 22M2718 1278l3 18M2744 1278l-2 18M2767 1270l2 26M2788 1274l3 22M2817 1281l0 15M2841 1277l0 19M2862 1273l-2 23M2884 1281l3 15M2910 1274l-1 22M2927 1272l2 24M2957 1273l2 23M2985 1277l1 19M1835 1276l14-5 15 9M1864 1280l15-16 15 4M1894 1268l16-4 16 12M1926 1276l8-8 9 6M1943 1274l13-4 12 5M1968 1275l10-8 10 5M1988 1272l14-7 14 5M2016 1270l9-5 9 11M2034 1276l8-5 8 8M2050 1279l10-4 10 6M2070 1281l10-6 10 5M2090 1280l14-15 13 6M2144 1281l10-14 11 6M2183 1269l13-5 13 4M2209 1268l10-5 11 9M2254 1272l14-8 13 5M2281 1269l8-5 9 14M2298 1278l8-5 8 5M2314 1278l12-15 13 5M2339 1268l10-4 9 16M2358 1280l14-4 14 4M2386 1280l11-9 11 2M2408 1273l14-7 14 3M2436 1269l14-2 15 12M2465 1279l15-14 16 4M2496 1269l13-4 13 15M2522 1280l15-7 15 2M2552 1275l11-8 10 3M2573 1270l10-2 9 9M2592 1277l9-12 9 4M2610 1269l13-5 12 9M2635 1273l13-3 13 9M2683 1269l9-4 8 9M2700 1274l9-3 9 7M2718 1278l13-6 13 6M2744 1278l11-10 12 2M2767 1270l10-2 11 6M2788 1274l14-3 15 10M2817 1281l12-9 12 5M2862 1273l11-5 11 13M2884 1281l13-10 13 3M2910 1274l8-7 9 5M2927 1272l15-6 15 7" fill="none" stroke="#000" stroke-width="3.5" stroke-linejoin="round" stroke-linecap="round"/></g>
<rect x="916" y="83" width="577.2" height="564.5" fill="none" stroke="#1a1a1a" stroke-width="2.4"/>
<path d="M935,115.5 V120.5 H1049 V115.5" fill="none" stroke="#111" stroke-width="1.6"/>
<text x="995" y="112" text-anchor="middle" class="sb">500 µm</text>
<rect x="840.2" y="182.5" width="4.2" height="71.4" fill="#f00"/>
<rect x="840.2" y="182.5" width="15.599999999999909" height="4.2" fill="#f00"/>
<rect x="840.2" y="249.7" width="15.599999999999909" height="4.2" fill="#f00"/>
<rect x="865" y="182.5" width="22" height="4.2" fill="#f00"/>
<rect x="896" y="182.5" width="9.5" height="4.2" fill="#f00"/>
<rect x="864.5" y="249.7" width="14.0" height="4.2" fill="#f00"/>
<rect x="895" y="249.7" width="10.5" height="4.2" fill="#f00"/>
<rect x="840.2" y="315.1" width="4.2" height="72.3" fill="#f00"/>
<rect x="840.2" y="315.1" width="15.599999999999909" height="4.2" fill="#f00"/>
<rect x="840.2" y="383.2" width="15.599999999999909" height="4.2" fill="#f00"/>
<rect x="865" y="315.1" width="22" height="4.2" fill="#f00"/>
<rect x="896" y="315.1" width="9.5" height="4.2" fill="#f00"/>
<rect x="864.5" y="383.2" width="14.0" height="4.2" fill="#f00"/>
<rect x="895" y="383.2" width="10.5" height="4.2" fill="#f00"/>
<rect x="840.2" y="444.3" width="4.2" height="72.2" fill="#f00"/>
<rect x="840.2" y="444.3" width="15.599999999999909" height="4.2" fill="#f00"/>
<rect x="840.2" y="512.3" width="15.599999999999909" height="4.2" fill="#f00"/>
<rect x="864.5" y="444.3" width="16.5" height="4.2" fill="#f00"/>
<rect x="896" y="444.3" width="9.5" height="4.2" fill="#f00"/>
<rect x="864.5" y="512.3" width="14.0" height="4.2" fill="#f00"/>
<rect x="895" y="512.3" width="10.5" height="4.2" fill="#f00"/>
<rect x="836.3" y="564.6" width="5.6" height="83.2" fill="#f00"/>
<rect x="836.3" y="564.6" width="16.700000000000045" height="4.4" fill="#f00"/>
<rect x="856" y="565.7" width="15.399999999999977" height="4.2" fill="#f00"/>
<rect x="887" y="565.7" width="15.5" height="4.2" fill="#f00"/>
<rect x="854.6" y="593.9" width="15.100000000000023" height="3.0" fill="#f00"/>
<rect x="885.8" y="593.9" width="15.0" height="3.0" fill="#f00"/>
<rect x="854.6" y="622.4" width="15.100000000000023" height="3.4" fill="#f00"/>
<rect x="885.8" y="622.4" width="15.0" height="3.4" fill="#f00"/>
<rect x="836.3" y="643.5" width="14.200000000000045" height="4.2" fill="#f00"/>
<rect x="856" y="643.5" width="15.399999999999977" height="4.2" fill="#f00"/>
<rect x="887" y="643.5" width="13.799999999999955" height="4.2" fill="#f00"/>
<text x="869.5" y="225.5" text-anchor="middle" class="bl">(f)</text>
<text x="870" y="359" text-anchor="middle" class="bl">(e)</text>
<text x="870" y="493" text-anchor="middle" class="bl">(d)</text>
<text x="871.5" y="588.5" text-anchor="middle" class="bl">(c)</text>
<text x="871" y="617.5" text-anchor="middle" class="bl">(b)</text>
<text x="869.5" y="641" text-anchor="middle" class="bl">(a)</text>
<rect x="156.0" y="789.7" width="465.2" height="560.6" fill="#fff" stroke="none"/>
<path d="M156.0,789.7 H621.2 V1350.3" fill="none" stroke="#8c8c8c" stroke-width="1.6"/>
<path d="M156.0,789.7 V1350.3" fill="none" stroke="#7a7a7a" stroke-width="1.4"/>
<path d="M156.0,1350.3 H621.2" fill="none" stroke="#bdbdbd" stroke-width="2.6"/>
<path d="M156.0,1350.3 h6 M621.2,1350.3 h-6" stroke="#666" stroke-width="1.2"/>
<path d="M156.0,1238.2 h6 M621.2,1238.2 h-6" stroke="#666" stroke-width="1.2"/>
<path d="M156.0,1126.1 h6 M621.2,1126.1 h-6" stroke="#666" stroke-width="1.2"/>
<path d="M156.0,1013.9 h6 M621.2,1013.9 h-6" stroke="#666" stroke-width="1.2"/>
<path d="M156.0,901.8 h6 M621.2,901.8 h-6" stroke="#666" stroke-width="1.2"/>
<path d="M156.0,789.7 h6 M621.2,789.7 h-6" stroke="#666" stroke-width="1.2"/>
<path d="M156.0,1350.3 v-6 M156.0,789.7 v6" stroke="#888" stroke-width="1.2"/>
<path d="M388.6,1350.3 v-6 M388.6,789.7 v6" stroke="#888" stroke-width="1.2"/>
<path d="M621.2,1350.3 v-6 M621.2,789.7 v6" stroke="#888" stroke-width="1.2"/>
<polyline points="176.3,1336.2 216.9,1290.9 257.5,1271.8 298.1,1267.8 338.7,1200.1 379.3,1127.2 419.9,1154.1 460.5,1074.9 501.1,1206.8 541.7,1287.5 582.3,1322.8" fill="none" stroke="#FF8C00" stroke-width="4.3" stroke-linejoin="round"/>
<polyline points="176.3,1293.1 216.9,1238.2 257.5,1232.6 298.1,1242.7 338.7,1176.5 379.3,1054.3 419.9,1182.1 460.5,1244.9 501.1,1252.8 541.7,1292.0 582.3,1338.0" fill="none" stroke="#DC143C" stroke-width="4.3" stroke-linejoin="round"/>
<polyline points="176.3,1290.9 216.9,1177.6 257.5,1172.0 298.1,1197.8 338.7,1156.3 379.3,1109.2 419.9,1218.6 460.5,1252.8 501.1,1275.6 541.7,1336.8 582.3,1349.2" fill="none" stroke="#BDB76B" stroke-width="4.3" stroke-linejoin="round"/>
<polyline points="176.3,1253.9 216.9,1102.0 257.5,1043.7 298.1,1012.8 338.7,1193.3 379.3,1250.5 419.9,1309.6 460.5,1332.6 501.1,1348.1 541.7,1350.3 582.3,1350.3" fill="none" stroke="#8A2BE2" stroke-width="4.3" stroke-linejoin="round"/>
<polyline points="176.3,1195.6 216.9,1070.0 257.5,941.1 298.1,965.7 338.7,1290.9 379.3,1329.0 419.9,1350.3 460.5,1350.3 501.1,1350.3 541.7,1350.3 582.3,1350.3" fill="none" stroke="#008000" stroke-width="4.3" stroke-linejoin="round"/>
<polyline points="176.3,1235.9 216.9,929.8 257.5,825.6 298.1,1142.9 338.7,1343.6 379.3,1333.5 419.9,1350.3 460.5,1350.3 501.1,1350.3 541.7,1350.3 582.3,1350.3" fill="none" stroke="#00BFFF" stroke-width="4.3" stroke-linejoin="round"/>
<polyline points="156.0,1350.3 160.6,1347.0 165.1,1343.7 169.7,1340.4 174.3,1337.1 178.8,1333.8 183.4,1330.5 188.0,1327.2 192.5,1323.9 197.1,1320.6 201.7,1317.3 206.2,1314.0 210.8,1310.8 215.4,1307.5 219.9,1304.2 224.5,1300.9 229.1,1297.7 233.6,1294.4 238.2,1291.2 242.8,1287.9 247.3,1284.7 251.9,1281.4 256.5,1278.2 261.0,1275.0 265.6,1271.8 270.2,1268.6 274.7,1265.4 279.3,1262.2 283.9,1259.0 288.4,1255.8 293.0,1252.7 297.6,1249.5 302.1,1246.4 306.7,1243.2 311.3,1240.1 315.8,1237.0 320.4,1233.9 325.0,1230.8 329.5,1227.7 334.1,1224.6 338.7,1221.6 343.3,1218.5 347.8,1215.5 352.4,1212.5 357.0,1209.5 361.5,1206.5 366.1,1203.5 370.7,1200.5 375.2,1197.6 379.8,1194.7 384.4,1191.7 388.9,1188.8 393.5,1185.9 398.1,1183.1 402.6,1180.2 407.2,1177.4 411.8,1174.6 416.3,1171.7 420.9,1169.0 425.5,1166.2 430.0,1163.4 434.6,1160.7 439.2,1158.0 443.7,1155.3 448.3,1152.6 452.9,1149.9 457.4,1147.3 462.0,1144.7 466.6,1142.1 471.1,1139.5 475.7,1136.9 480.3,1134.4 484.8,1131.9 489.4,1129.4 494.0,1126.9 498.5,1124.4 503.1,1122.0 507.7,1119.6 512.2,1117.2 516.8,1114.8 521.4,1112.5 522.6,1143.0 523.8,1155.4 525.1,1164.8 526.3,1172.7 527.5,1179.6 528.7,1185.8 530.0,1191.5 531.2,1196.8 532.4,1201.7 533.7,1206.4 534.9,1210.9 536.1,1215.1 537.4,1219.2 538.6,1223.1 539.8,1226.9 541.0,1230.6 542.3,1234.1 543.5,1237.6 544.7,1240.9 546.0,1244.2 547.2,1247.4 548.4,1250.5 549.7,1253.6 550.9,1256.6 552.1,1259.5 553.3,1262.4 554.6,1265.2 555.8,1268.0 557.0,1270.7 558.3,1273.4 559.5,1276.1 560.7,1278.7 561.9,1281.3 563.2,1283.8 564.4,1286.4 565.6,1288.8 566.9,1291.3 568.1,1293.7 569.3,1296.1 570.6,1298.5 571.8,1300.8 573.0,1303.2 574.2,1305.5 575.5,1307.7 576.7,1310.0 577.9,1312.2 579.2,1314.5 580.4,1316.7 581.6,1318.8 582.9,1321.0 584.1,1323.2 585.3,1325.3 586.5,1327.4 587.8,1329.5 589.0,1331.6 590.2,1333.7 591.5,1335.7 592.7,1337.8 593.9,1339.8 595.1,1341.8" fill="none" stroke="#000" stroke-width="4.6" stroke-dasharray="19 20.2"/>
<text x="143.0" y="1363.7" text-anchor="end" class="tk">0</text>
<text x="143.0" y="1251.6" text-anchor="end" class="tk">1</text>
<text x="143.0" y="1139.5" text-anchor="end" class="tk">2</text>
<text x="143.0" y="1027.3" text-anchor="end" class="tk">3</text>
<text x="143.0" y="915.2" text-anchor="end" class="tk">4</text>
<text x="143.0" y="803.1" text-anchor="end" class="tk">5</text>
<text x="156.0" y="1399" text-anchor="middle" class="tk">0</text>
<text x="388.6" y="1399" text-anchor="middle" class="tk">0.5</text>
<text x="621.2" y="1399" text-anchor="middle" class="tk">1</text>
<text x="388.6" y="1452" text-anchor="middle" class="al">Orientation Angle (rad)</text>
<text transform="translate(107.5,1070.0) rotate(-90)" text-anchor="middle" class="al">Frequency (rad<tspan dy="-21" font-size="32">-1</tspan><tspan dy="21">)</tspan></text>
<rect x="525.5" y="802.7" width="82.6" height="197.3" fill="#fff" stroke="#8a8a8a" stroke-width="1.2"/>
<path d="M525.5,803.2 H607.6 V1000.0" fill="none" stroke="#c9c9c9" stroke-width="2"/>
<line x1="532.8" y1="821.6" x2="581.7" y2="821.6" stroke="#FF8C00" stroke-width="4.6"/>
<text x="586.0" y="831.1" class="lg">a</text>
<line x1="532.8" y1="853.6" x2="581.7" y2="853.6" stroke="#DC143C" stroke-width="4.6"/>
<text x="586.0" y="863.1" class="lg">b</text>
<line x1="532.8" y1="885.6" x2="581.7" y2="885.6" stroke="#BDB76B" stroke-width="4.6"/>
<text x="586.0" y="895.1" class="lg">c</text>
<line x1="532.8" y1="917.6" x2="581.7" y2="917.6" stroke="#8A2BE2" stroke-width="4.6"/>
<text x="586.0" y="927.1" class="lg">d</text>
<line x1="532.8" y1="949.6" x2="581.7" y2="949.6" stroke="#008000" stroke-width="4.6"/>
<text x="586.0" y="959.1" class="lg">e</text>
<line x1="532.8" y1="981.6" x2="581.7" y2="981.6" stroke="#00BFFF" stroke-width="4.6"/>
<text x="586.0" y="991.1" class="lg">f</text>
<rect x="968.6" y="789.7" width="465.2" height="560.6" fill="#fff" stroke="none"/>
<path d="M968.6,789.7 H1433.8 V1350.3" fill="none" stroke="#8c8c8c" stroke-width="1.6"/>
<path d="M968.6,789.7 V1350.3" fill="none" stroke="#7a7a7a" stroke-width="1.4"/>
<path d="M968.6,1350.3 H1433.8" fill="none" stroke="#bdbdbd" stroke-width="2.6"/>
<path d="M968.6,1350.3 h6 M1433.8,1350.3 h-6" stroke="#666" stroke-width="1.2"/>
<path d="M968.6,1238.2 h6 M1433.8,1238.2 h-6" stroke="#666" stroke-width="1.2"/>
<path d="M968.6,1126.1 h6 M1433.8,1126.1 h-6" stroke="#666" stroke-width="1.2"/>
<path d="M968.6,1013.9 h6 M1433.8,1013.9 h-6" stroke="#666" stroke-width="1.2"/>
<path d="M968.6,901.8 h6 M1433.8,901.8 h-6" stroke="#666" stroke-width="1.2"/>
<path d="M968.6,789.7 h6 M1433.8,789.7 h-6" stroke="#666" stroke-width="1.2"/>
<path d="M968.6,1350.3 v-6 M968.6,789.7 v6" stroke="#888" stroke-width="1.2"/>
<path d="M1201.2,1350.3 v-6 M1201.2,789.7 v6" stroke="#888" stroke-width="1.2"/>
<path d="M1433.8,1350.3 v-6 M1433.8,789.7 v6" stroke="#888" stroke-width="1.2"/>
<polyline points="988.9,1344.7 1029.5,1251.6 1070.1,1290.9 1110.7,1297.6 1151.3,1249.4 1191.9,1174.7 1232.5,1171.5 1273.1,1132.0 1313.7,1070.0 1354.3,1243.8 1394.9,1330.1" fill="none" stroke="#FF8C00" stroke-width="4.3" stroke-linejoin="round"/>
<polyline points="988.9,1349.2 1029.5,1235.9 1070.1,1247.1 1110.7,1321.1 1151.3,1274.1 1191.9,1220.2 1232.5,1158.6 1273.1,1113.7 1313.7,1110.4 1354.3,1230.3 1394.9,1302.1" fill="none" stroke="#DC143C" stroke-width="4.3" stroke-linejoin="round"/>
<polyline points="988.9,1339.3 1029.5,1242.7 1070.1,1230.3 1110.7,1221.4 1151.3,1288.0 1191.9,1210.1 1232.5,1141.8 1273.1,1121.0 1313.7,1196.7 1354.3,1230.3 1394.9,1343.6" fill="none" stroke="#BDB76B" stroke-width="4.3" stroke-linejoin="round"/>
<polyline points="988.9,1308.8 1029.5,1194.5 1070.1,1127.2 1110.7,974.7 1151.3,1281.9 1191.9,1232.6 1232.5,1202.3 1273.1,1205.7 1313.7,1330.1 1354.3,1346.9 1394.9,1350.3" fill="none" stroke="#8A2BE2" stroke-width="4.3" stroke-linejoin="round"/>
<polyline points="988.9,1267.3 1029.5,1308.1 1070.1,1154.1 1110.7,894.0 1151.3,1257.2 1191.9,1201.2 1232.5,1179.9 1273.1,1293.1 1313.7,1304.3 1354.3,1346.9 1394.9,1350.3" fill="none" stroke="#008000" stroke-width="4.3" stroke-linejoin="round"/>
<polyline points="988.9,1323.7 1029.5,1213.5 1070.1,950.0 1110.7,846.9 1151.3,1230.3 1191.9,1298.7 1232.5,1294.2 1273.1,1350.3 1313.7,1350.3 1354.3,1350.3 1394.9,1350.3" fill="none" stroke="#00BFFF" stroke-width="4.3" stroke-linejoin="round"/>
<polyline points="968.6,1350.3 973.2,1347.0 977.7,1343.7 982.3,1340.4 986.9,1337.1 991.4,1333.8 996.0,1330.5 1000.6,1327.2 1005.1,1323.9 1009.7,1320.6 1014.3,1317.3 1018.8,1314.0 1023.4,1310.8 1028.0,1307.5 1032.5,1304.2 1037.1,1300.9 1041.7,1297.7 1046.2,1294.4 1050.8,1291.2 1055.4,1287.9 1059.9,1284.7 1064.5,1281.4 1069.1,1278.2 1073.6,1275.0 1078.2,1271.8 1082.8,1268.6 1087.3,1265.4 1091.9,1262.2 1096.5,1259.0 1101.0,1255.8 1105.6,1252.7 1110.2,1249.5 1114.7,1246.4 1119.3,1243.2 1123.9,1240.1 1128.4,1237.0 1133.0,1233.9 1137.6,1230.8 1142.1,1227.7 1146.7,1224.6 1151.3,1221.6 1155.9,1218.5 1160.4,1215.5 1165.0,1212.5 1169.6,1209.5 1174.1,1206.5 1178.7,1203.5 1183.3,1200.5 1187.8,1197.6 1192.4,1194.7 1197.0,1191.7 1201.5,1188.8 1206.1,1185.9 1210.7,1183.1 1215.2,1180.2 1219.8,1177.4 1224.4,1174.6 1228.9,1171.7 1233.5,1169.0 1238.1,1166.2 1242.6,1163.4 1247.2,1160.7 1251.8,1158.0 1256.3,1155.3 1260.9,1152.6 1265.5,1149.9 1270.0,1147.3 1274.6,1144.7 1279.2,1142.1 1283.7,1139.5 1288.3,1136.9 1292.9,1134.4 1297.4,1131.9 1302.0,1129.4 1306.6,1126.9 1311.1,1124.4 1315.7,1122.0 1320.3,1119.6 1324.8,1117.2 1329.4,1114.8 1334.0,1112.5 1335.2,1143.0 1336.4,1155.4 1337.7,1164.8 1338.9,1172.7 1340.1,1179.6 1341.3,1185.8 1342.6,1191.5 1343.8,1196.8 1345.0,1201.7 1346.3,1206.4 1347.5,1210.9 1348.7,1215.1 1350.0,1219.2 1351.2,1223.1 1352.4,1226.9 1353.6,1230.6 1354.9,1234.1 1356.1,1237.6 1357.3,1240.9 1358.6,1244.2 1359.8,1247.4 1361.0,1250.5 1362.3,1253.6 1363.5,1256.6 1364.7,1259.5 1365.9,1262.4 1367.2,1265.2 1368.4,1268.0 1369.6,1270.7 1370.9,1273.4 1372.1,1276.1 1373.3,1278.7 1374.5,1281.3 1375.8,1283.8 1377.0,1286.4 1378.2,1288.8 1379.5,1291.3 1380.7,1293.7 1381.9,1296.1 1383.2,1298.5 1384.4,1300.8 1385.6,1303.2 1386.8,1305.5 1388.1,1307.7 1389.3,1310.0 1390.5,1312.2 1391.8,1314.5 1393.0,1316.7 1394.2,1318.8 1395.5,1321.0 1396.7,1323.2 1397.9,1325.3 1399.1,1327.4 1400.4,1329.5 1401.6,1331.6 1402.8,1333.7 1404.1,1335.7 1405.3,1337.8 1406.5,1339.8 1407.7,1341.8" fill="none" stroke="#000" stroke-width="4.6" stroke-dasharray="19 20.2"/>
<text x="955.6" y="1363.7" text-anchor="end" class="tk">0</text>
<text x="955.6" y="1251.6" text-anchor="end" class="tk">1</text>
<text x="955.6" y="1139.5" text-anchor="end" class="tk">2</text>
<text x="955.6" y="1027.3" text-anchor="end" class="tk">3</text>
<text x="955.6" y="915.2" text-anchor="end" class="tk">4</text>
<text x="955.6" y="803.1" text-anchor="end" class="tk">5</text>
<text x="968.6" y="1399" text-anchor="middle" class="tk">0</text>
<text x="1201.2" y="1399" text-anchor="middle" class="tk">0.5</text>
<text x="1433.8" y="1399" text-anchor="middle" class="tk">1</text>
<text x="1201.2" y="1452" text-anchor="middle" class="al">Orientation Angle (rad)</text>
<text transform="translate(920.1,1070.0) rotate(-90)" text-anchor="middle" class="al">Frequency (rad<tspan dy="-21" font-size="32">-1</tspan><tspan dy="21">)</tspan></text>
<rect x="1338.1" y="802.7" width="82.6" height="197.3" fill="#fff" stroke="#8a8a8a" stroke-width="1.2"/>
<path d="M1338.1,803.2 H1420.2 V1000.0" fill="none" stroke="#c9c9c9" stroke-width="2"/>
<line x1="1345.4" y1="821.6" x2="1394.3" y2="821.6" stroke="#0072BD" stroke-width="4.6"/>
<text x="1398.6" y="831.1" class="lg">a</text>
<line x1="1345.4" y1="853.6" x2="1394.3" y2="853.6" stroke="#D95319" stroke-width="4.6"/>
<text x="1398.6" y="863.1" class="lg">b</text>
<line x1="1345.4" y1="885.6" x2="1394.3" y2="885.6" stroke="#EDB120" stroke-width="4.6"/>
<text x="1398.6" y="895.1" class="lg">c</text>
<line x1="1345.4" y1="917.6" x2="1394.3" y2="917.6" stroke="#7E2F8E" stroke-width="4.6"/>
<text x="1398.6" y="927.1" class="lg">d</text>
<line x1="1345.4" y1="949.6" x2="1394.3" y2="949.6" stroke="#77AC30" stroke-width="4.6"/>
<text x="1398.6" y="959.1" class="lg">e</text>
<line x1="1345.4" y1="981.6" x2="1394.3" y2="981.6" stroke="#4DBEEE" stroke-width="4.6"/>
<text x="1398.6" y="991.1" class="lg">f</text>
</svg></body></html>
